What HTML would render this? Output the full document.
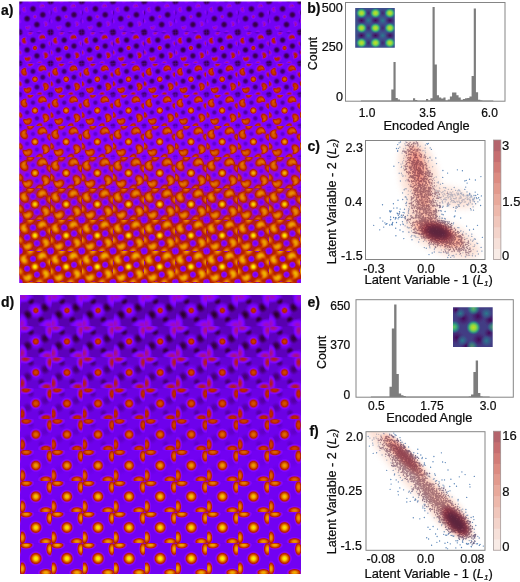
<!DOCTYPE html>
<html><head><meta charset="utf-8"><title>figure</title>
<style>html,body{margin:0;padding:0;background:#fff}svg{display:block}text{font-family:"Liberation Sans",Arial,sans-serif;fill:#0c0c0c;stroke:#0c0c0c;stroke-width:0.22px}</style></head><body>
<svg width="520" height="582" viewBox="0 0 520 582">
<rect width="520" height="582" fill="#fff"/>
<defs>
<filter id="cm" filterUnits="userSpaceOnUse" x="0" y="0" width="520" height="582" color-interpolation-filters="sRGB"><feGaussianBlur stdDeviation="0.7"/><feComponentTransfer><feFuncR type="table" tableValues="0.000 0.125 0.177 0.217 0.250 0.280 0.306 0.331 0.354 0.375 0.395 0.415 0.433 0.451 0.468 0.484 0.500 0.515 0.530 0.545 0.559 0.573 0.586 0.599 0.612 0.625 0.637 0.650 0.661 0.673 0.685 0.696 0.707 0.718 0.729 0.740 0.750 0.760 0.771 0.781 0.791 0.800 0.810 0.820 0.829 0.839 0.848 0.857 0.866 0.875 0.884 0.893 0.901 0.910 0.919 0.927 0.935 0.944 0.952 0.960 0.968 0.976 0.984 0.992 1.000"/><feFuncG type="table" tableValues="0.000 0.000 0.000 0.000 0.000 0.000 0.001 0.001 0.002 0.003 0.004 0.005 0.007 0.008 0.010 0.013 0.016 0.019 0.022 0.026 0.031 0.035 0.041 0.046 0.053 0.060 0.067 0.075 0.084 0.093 0.103 0.114 0.125 0.137 0.150 0.164 0.178 0.193 0.209 0.226 0.244 0.263 0.283 0.303 0.325 0.348 0.371 0.396 0.422 0.449 0.477 0.506 0.536 0.568 0.601 0.635 0.670 0.706 0.744 0.783 0.824 0.866 0.909 0.954 1.000"/><feFuncB type="table" tableValues="0.000 0.098 0.195 0.290 0.383 0.471 0.556 0.634 0.707 0.773 0.831 0.882 0.924 0.957 0.981 0.995 1.000 0.995 0.981 0.957 0.924 0.882 0.831 0.773 0.707 0.634 0.556 0.471 0.383 0.290 0.195 0.098 0.000 0.000 0.000 0.000 0.000 0.000 0.000 0.000 0.000 0.000 0.000 0.000 0.000 0.000 0.000 0.000 0.000 0.000 0.000 0.000 0.000 0.000 0.000 0.000 0.000 0.000 0.000 0.000 0.000 0.000 0.000 0.000 0.000"/></feComponentTransfer></filter>
<radialGradient id="gw"><stop offset="0" stop-color="#fff" stop-opacity="1"/><stop offset="0.25" stop-color="#fff" stop-opacity="0.93"/><stop offset="0.45" stop-color="#fff" stop-opacity="0.72"/><stop offset="0.65" stop-color="#fff" stop-opacity="0.42"/><stop offset="0.82" stop-color="#fff" stop-opacity="0.16"/><stop offset="1" stop-color="#fff" stop-opacity="0"/></radialGradient>
<radialGradient id="gk"><stop offset="0" stop-color="#000" stop-opacity="1"/><stop offset="0.25" stop-color="#000" stop-opacity="0.93"/><stop offset="0.45" stop-color="#000" stop-opacity="0.72"/><stop offset="0.65" stop-color="#000" stop-opacity="0.42"/><stop offset="0.82" stop-color="#000" stop-opacity="0.16"/><stop offset="1" stop-color="#000" stop-opacity="0"/></radialGradient>
</defs>
<defs>
<symbol id="d0" viewBox="0 0 31.59 31.5" width="31.59" height="31.5" overflow="hidden"><rect x="-1" y="-1" width="33.09" height="33" fill="rgb(31,31,31)"/><circle cx="15.35" cy="15.2" r="9" fill="url(#gw)" opacity="0.2"/><circle cx="0" cy="0" r="9" fill="url(#gw)" opacity="0.2"/><circle cx="31.09" cy="0" r="9" fill="url(#gw)" opacity="0.2"/><circle cx="0" cy="31" r="9" fill="url(#gw)" opacity="0.2"/><circle cx="31.09" cy="31" r="9" fill="url(#gw)" opacity="0.2"/><circle cx="24.34" cy="12.2" r="6" fill="url(#gk)" opacity="0.78"/><circle cx="7.35" cy="19.4" r="6" fill="url(#gk)" opacity="0.78"/><circle cx="10.35" cy="5.7" r="4.5" fill="url(#gk)" opacity="0.78"/><circle cx="20.84" cy="24.7" r="4.5" fill="url(#gk)" opacity="0.78"/><ellipse cx="5.7" cy="1.7" rx="8.4" ry="6.24" fill="url(#gw)" opacity="0.17"/><ellipse cx="29.39" cy="5.7" rx="6.24" ry="8.4" fill="url(#gw)" opacity="0.17"/><ellipse cx="25.39" cy="29.3" rx="8.4" ry="6.24" fill="url(#gw)" opacity="0.17"/><ellipse cx="1.7" cy="25.3" rx="6.24" ry="8.4" fill="url(#gw)" opacity="0.17"/><circle cx="15.35" cy="15.2" r="4.3" fill="url(#gw)" opacity="0.4"/></symbol>
<symbol id="d1" viewBox="0 0 31.59 31.5" width="31.59" height="31.5" overflow="hidden"><rect x="-1" y="-1" width="33.09" height="33" fill="rgb(34,34,34)"/><circle cx="15.35" cy="15.2" r="9" fill="url(#gw)" opacity="0.15"/><circle cx="0" cy="0" r="9" fill="url(#gw)" opacity="0.15"/><circle cx="31.09" cy="0" r="9" fill="url(#gw)" opacity="0.15"/><circle cx="0" cy="31" r="9" fill="url(#gw)" opacity="0.15"/><circle cx="31.09" cy="31" r="9" fill="url(#gw)" opacity="0.15"/><circle cx="24.34" cy="12.2" r="6" fill="url(#gk)" opacity="0.72"/><circle cx="7.35" cy="19.4" r="6" fill="url(#gk)" opacity="0.72"/><circle cx="10.35" cy="5.7" r="4.5" fill="url(#gk)" opacity="0.72"/><circle cx="20.84" cy="24.7" r="4.5" fill="url(#gk)" opacity="0.72"/><ellipse cx="5.7" cy="1.7" rx="8.4" ry="5.66" fill="url(#gw)" opacity="0.27"/><ellipse cx="29.39" cy="5.7" rx="5.66" ry="8.4" fill="url(#gw)" opacity="0.27"/><ellipse cx="25.39" cy="29.3" rx="8.4" ry="5.66" fill="url(#gw)" opacity="0.27"/><ellipse cx="1.7" cy="25.3" rx="5.66" ry="8.4" fill="url(#gw)" opacity="0.27"/><circle cx="15.35" cy="15.2" r="4.9" fill="url(#gw)" opacity="0.49"/></symbol>
<symbol id="d2" viewBox="0 0 31.59 31.5" width="31.59" height="31.5" overflow="hidden"><rect x="-1" y="-1" width="33.09" height="33" fill="rgb(40,40,40)"/><circle cx="15.35" cy="15.2" r="9" fill="url(#gw)" opacity="0.1"/><circle cx="0" cy="0" r="9" fill="url(#gw)" opacity="0.1"/><circle cx="31.09" cy="0" r="9" fill="url(#gw)" opacity="0.1"/><circle cx="0" cy="31" r="9" fill="url(#gw)" opacity="0.1"/><circle cx="31.09" cy="31" r="9" fill="url(#gw)" opacity="0.1"/><circle cx="24.34" cy="12.2" r="6" fill="url(#gk)" opacity="0.55"/><circle cx="7.35" cy="19.4" r="6" fill="url(#gk)" opacity="0.55"/><circle cx="10.35" cy="5.7" r="4.5" fill="url(#gk)" opacity="0.55"/><circle cx="20.84" cy="24.7" r="4.5" fill="url(#gk)" opacity="0.55"/><ellipse cx="5.7" cy="1.7" rx="8.4" ry="5.09" fill="url(#gw)" opacity="0.36"/><ellipse cx="29.39" cy="5.7" rx="5.09" ry="8.4" fill="url(#gw)" opacity="0.36"/><ellipse cx="25.39" cy="29.3" rx="8.4" ry="5.09" fill="url(#gw)" opacity="0.36"/><ellipse cx="1.7" cy="25.3" rx="5.09" ry="8.4" fill="url(#gw)" opacity="0.36"/><circle cx="15.35" cy="15.2" r="5.4" fill="url(#gw)" opacity="0.55"/></symbol>
<symbol id="d3" viewBox="0 0 31.59 31.5" width="31.59" height="31.5" overflow="hidden"><rect x="-1" y="-1" width="33.09" height="33" fill="rgb(45,45,45)"/><circle cx="15.35" cy="15.2" r="9" fill="url(#gw)" opacity="0.05"/><circle cx="0" cy="0" r="9" fill="url(#gw)" opacity="0.05"/><circle cx="31.09" cy="0" r="9" fill="url(#gw)" opacity="0.05"/><circle cx="0" cy="31" r="9" fill="url(#gw)" opacity="0.05"/><circle cx="31.09" cy="31" r="9" fill="url(#gw)" opacity="0.05"/><circle cx="24.34" cy="12.2" r="6" fill="url(#gk)" opacity="0.38"/><circle cx="7.35" cy="19.4" r="6" fill="url(#gk)" opacity="0.38"/><circle cx="10.35" cy="5.7" r="4.5" fill="url(#gk)" opacity="0.38"/><circle cx="20.84" cy="24.7" r="4.5" fill="url(#gk)" opacity="0.38"/><ellipse cx="5.7" cy="1.7" rx="8.4" ry="4.8" fill="url(#gw)" opacity="0.45"/><ellipse cx="29.39" cy="5.7" rx="4.8" ry="8.4" fill="url(#gw)" opacity="0.45"/><ellipse cx="25.39" cy="29.3" rx="8.4" ry="4.8" fill="url(#gw)" opacity="0.45"/><ellipse cx="1.7" cy="25.3" rx="4.8" ry="8.4" fill="url(#gw)" opacity="0.45"/><circle cx="15.35" cy="15.2" r="6.21" fill="url(#gw)" opacity="0.61"/></symbol>
<symbol id="d4" viewBox="0 0 31.59 31.5" width="31.59" height="31.5" overflow="hidden"><rect x="-1" y="-1" width="33.09" height="33" fill="rgb(48,48,48)"/><circle cx="24.34" cy="12.2" r="6" fill="url(#gk)" opacity="0.24"/><circle cx="7.35" cy="19.4" r="6" fill="url(#gk)" opacity="0.24"/><circle cx="10.35" cy="5.7" r="4.5" fill="url(#gk)" opacity="0.24"/><circle cx="20.84" cy="24.7" r="4.5" fill="url(#gk)" opacity="0.24"/><ellipse cx="5.7" cy="1.7" rx="8.4" ry="4.8" fill="url(#gw)" opacity="0.56"/><ellipse cx="29.39" cy="5.7" rx="4.8" ry="8.4" fill="url(#gw)" opacity="0.56"/><ellipse cx="25.39" cy="29.3" rx="8.4" ry="4.8" fill="url(#gw)" opacity="0.56"/><ellipse cx="1.7" cy="25.3" rx="4.8" ry="8.4" fill="url(#gw)" opacity="0.56"/><circle cx="15.35" cy="15.2" r="6.48" fill="url(#gw)" opacity="0.7"/></symbol>
<symbol id="d5" viewBox="0 0 31.59 31.5" width="31.59" height="31.5" overflow="hidden"><rect x="-1" y="-1" width="33.09" height="33" fill="rgb(51,51,51)"/><circle cx="24.34" cy="12.2" r="6" fill="url(#gk)" opacity="0.12"/><circle cx="7.35" cy="19.4" r="6" fill="url(#gk)" opacity="0.12"/><circle cx="10.35" cy="5.7" r="4.5" fill="url(#gk)" opacity="0.12"/><circle cx="20.84" cy="24.7" r="4.5" fill="url(#gk)" opacity="0.12"/><ellipse cx="5.7" cy="1.7" rx="8.4" ry="4.8" fill="url(#gw)" opacity="0.68"/><ellipse cx="29.39" cy="5.7" rx="4.8" ry="8.4" fill="url(#gw)" opacity="0.68"/><ellipse cx="25.39" cy="29.3" rx="8.4" ry="4.8" fill="url(#gw)" opacity="0.68"/><ellipse cx="1.7" cy="25.3" rx="4.8" ry="8.4" fill="url(#gw)" opacity="0.68"/><circle cx="15.35" cy="15.2" r="6.75" fill="url(#gw)" opacity="0.82"/></symbol>
<symbol id="d6" viewBox="0 0 31.59 31.5" width="31.59" height="31.5" overflow="hidden"><rect x="-1" y="-1" width="33.09" height="33" fill="rgb(51,51,51)"/><circle cx="24.34" cy="12.2" r="6" fill="url(#gk)" opacity="0.05"/><circle cx="7.35" cy="19.4" r="6" fill="url(#gk)" opacity="0.05"/><circle cx="10.35" cy="5.7" r="4.5" fill="url(#gk)" opacity="0.05"/><circle cx="20.84" cy="24.7" r="4.5" fill="url(#gk)" opacity="0.05"/><ellipse cx="5.7" cy="1.7" rx="8.4" ry="4.8" fill="url(#gw)" opacity="0.76"/><ellipse cx="29.39" cy="5.7" rx="4.8" ry="8.4" fill="url(#gw)" opacity="0.76"/><ellipse cx="25.39" cy="29.3" rx="8.4" ry="4.8" fill="url(#gw)" opacity="0.76"/><ellipse cx="1.7" cy="25.3" rx="4.8" ry="8.4" fill="url(#gw)" opacity="0.76"/><circle cx="15.35" cy="15.2" r="7.02" fill="url(#gw)" opacity="0.91"/></symbol>
<symbol id="d7" viewBox="0 0 31.59 31.5" width="31.59" height="31.5" overflow="hidden"><rect x="-1" y="-1" width="33.09" height="33" fill="rgb(51,51,51)"/><ellipse cx="5.7" cy="1.7" rx="8.4" ry="4.8" fill="url(#gw)" opacity="0.82"/><ellipse cx="29.39" cy="5.7" rx="4.8" ry="8.4" fill="url(#gw)" opacity="0.82"/><ellipse cx="25.39" cy="29.3" rx="8.4" ry="4.8" fill="url(#gw)" opacity="0.82"/><ellipse cx="1.7" cy="25.3" rx="4.8" ry="8.4" fill="url(#gw)" opacity="0.82"/><circle cx="15.35" cy="15.2" r="7.29" fill="url(#gw)" opacity="0.96"/></symbol>
<symbol id="d8" viewBox="0 0 31.59 31.5" width="31.59" height="31.5" overflow="hidden"><rect x="-1" y="-1" width="33.09" height="33" fill="rgb(51,51,51)"/><ellipse cx="5.7" cy="1.7" rx="8.4" ry="4.8" fill="url(#gw)" opacity="0.86"/><ellipse cx="29.39" cy="5.7" rx="4.8" ry="8.4" fill="url(#gw)" opacity="0.86"/><ellipse cx="25.39" cy="29.3" rx="8.4" ry="4.8" fill="url(#gw)" opacity="0.86"/><ellipse cx="1.7" cy="25.3" rx="4.8" ry="8.4" fill="url(#gw)" opacity="0.86"/><circle cx="15.35" cy="15.2" r="7.56" fill="url(#gw)" opacity="0.99"/></symbol>
<clipPath id="cD"><rect x="20" y="295" width="281" height="279"/></clipPath>
</defs>
<g clip-path="url(#cD)"><g filter="url(#cm)">
<rect x="18" y="293" width="285" height="283" fill="#2a2a2a"/>
<use href="#d0" x="-10.59" y="264.3"/><use href="#d0" x="20.5" y="264.3"/><use href="#d0" x="51.59" y="264.3"/><use href="#d0" x="82.68" y="264.3"/><use href="#d0" x="113.77" y="264.3"/><use href="#d0" x="144.86" y="264.3"/><use href="#d0" x="175.95" y="264.3"/><use href="#d0" x="207.04" y="264.3"/><use href="#d0" x="238.13" y="264.3"/><use href="#d0" x="269.22" y="264.3"/>
<use href="#d0" x="-10.59" y="295.3"/><use href="#d0" x="20.5" y="295.3"/><use href="#d0" x="51.59" y="295.3"/><use href="#d0" x="82.68" y="295.3"/><use href="#d0" x="113.77" y="295.3"/><use href="#d0" x="144.86" y="295.3"/><use href="#d0" x="175.95" y="295.3"/><use href="#d0" x="207.04" y="295.3"/><use href="#d0" x="238.13" y="295.3"/><use href="#d0" x="269.22" y="295.3"/>
<use href="#d1" x="-10.59" y="326.3"/><use href="#d1" x="20.5" y="326.3"/><use href="#d1" x="51.59" y="326.3"/><use href="#d1" x="82.68" y="326.3"/><use href="#d1" x="113.77" y="326.3"/><use href="#d1" x="144.86" y="326.3"/><use href="#d1" x="175.95" y="326.3"/><use href="#d1" x="207.04" y="326.3"/><use href="#d1" x="238.13" y="326.3"/><use href="#d1" x="269.22" y="326.3"/>
<use href="#d2" x="-10.59" y="357.3"/><use href="#d2" x="20.5" y="357.3"/><use href="#d2" x="51.59" y="357.3"/><use href="#d2" x="82.68" y="357.3"/><use href="#d2" x="113.77" y="357.3"/><use href="#d2" x="144.86" y="357.3"/><use href="#d2" x="175.95" y="357.3"/><use href="#d2" x="207.04" y="357.3"/><use href="#d2" x="238.13" y="357.3"/><use href="#d2" x="269.22" y="357.3"/>
<use href="#d3" x="-10.59" y="388.3"/><use href="#d3" x="20.5" y="388.3"/><use href="#d3" x="51.59" y="388.3"/><use href="#d3" x="82.68" y="388.3"/><use href="#d3" x="113.77" y="388.3"/><use href="#d3" x="144.86" y="388.3"/><use href="#d3" x="175.95" y="388.3"/><use href="#d3" x="207.04" y="388.3"/><use href="#d3" x="238.13" y="388.3"/><use href="#d3" x="269.22" y="388.3"/>
<use href="#d4" x="-10.59" y="419.3"/><use href="#d4" x="20.5" y="419.3"/><use href="#d4" x="51.59" y="419.3"/><use href="#d4" x="82.68" y="419.3"/><use href="#d4" x="113.77" y="419.3"/><use href="#d4" x="144.86" y="419.3"/><use href="#d4" x="175.95" y="419.3"/><use href="#d4" x="207.04" y="419.3"/><use href="#d4" x="238.13" y="419.3"/><use href="#d4" x="269.22" y="419.3"/>
<use href="#d5" x="-10.59" y="450.3"/><use href="#d5" x="20.5" y="450.3"/><use href="#d5" x="51.59" y="450.3"/><use href="#d5" x="82.68" y="450.3"/><use href="#d5" x="113.77" y="450.3"/><use href="#d5" x="144.86" y="450.3"/><use href="#d5" x="175.95" y="450.3"/><use href="#d5" x="207.04" y="450.3"/><use href="#d5" x="238.13" y="450.3"/><use href="#d5" x="269.22" y="450.3"/>
<use href="#d6" x="-10.59" y="481.3"/><use href="#d6" x="20.5" y="481.3"/><use href="#d6" x="51.59" y="481.3"/><use href="#d6" x="82.68" y="481.3"/><use href="#d6" x="113.77" y="481.3"/><use href="#d6" x="144.86" y="481.3"/><use href="#d6" x="175.95" y="481.3"/><use href="#d6" x="207.04" y="481.3"/><use href="#d6" x="238.13" y="481.3"/><use href="#d6" x="269.22" y="481.3"/>
<use href="#d7" x="-10.59" y="512.3"/><use href="#d7" x="20.5" y="512.3"/><use href="#d7" x="51.59" y="512.3"/><use href="#d7" x="82.68" y="512.3"/><use href="#d7" x="113.77" y="512.3"/><use href="#d7" x="144.86" y="512.3"/><use href="#d7" x="175.95" y="512.3"/><use href="#d7" x="207.04" y="512.3"/><use href="#d7" x="238.13" y="512.3"/><use href="#d7" x="269.22" y="512.3"/>
<use href="#d8" x="-10.59" y="543.3"/><use href="#d8" x="20.5" y="543.3"/><use href="#d8" x="51.59" y="543.3"/><use href="#d8" x="82.68" y="543.3"/><use href="#d8" x="113.77" y="543.3"/><use href="#d8" x="144.86" y="543.3"/><use href="#d8" x="175.95" y="543.3"/><use href="#d8" x="207.04" y="543.3"/><use href="#d8" x="238.13" y="543.3"/><use href="#d8" x="269.22" y="543.3"/>
</g></g>
<defs>
<radialGradient id="gh0"><stop offset="0" stop-color="rgb(0,0,0)" stop-opacity="0.8"/><stop offset="0.3" stop-color="rgb(0,0,0)" stop-opacity="0.76"/><stop offset="0.5" stop-color="rgb(0,0,0)" stop-opacity="0.62"/><stop offset="0.68" stop-color="rgb(0,0,0)" stop-opacity="0.36"/><stop offset="0.84" stop-color="rgb(0,0,0)" stop-opacity="0.13"/><stop offset="1" stop-color="rgb(0,0,0)" stop-opacity="0"/></radialGradient>
<symbol id="a0" viewBox="0 0 31.8 31.8" width="31.8" height="31.8" overflow="hidden"><rect x="-1" y="-1" width="33.3" height="33.3" fill="rgb(52,52,52)"/><ellipse cx="-4.73" cy="3.38" rx="3.97" ry="2.73" transform="rotate(-98.95 -4.73 3.38)" fill="url(#gw)" opacity="0.19"/><ellipse cx="11.59" cy="-0.68" rx="3.97" ry="2.73" transform="rotate(-53.95 11.59 -0.68)" fill="url(#gw)" opacity="0.19"/><ellipse cx="4.67" cy="9.04" rx="3.72" ry="2.79" transform="rotate(-130.95 4.67 9.04)" fill="url(#gw)" opacity="0.21"/><ellipse cx="5.03" cy="6.84" rx="2.36" ry="1.55" transform="rotate(-35.95 5.03 6.84)" fill="url(#gw)" opacity="0.16"/><ellipse cx="-0.68" cy="19.71" rx="3.97" ry="2.73" transform="rotate(216.05 -0.68 19.71)" fill="url(#gw)" opacity="0.19"/><ellipse cx="27.92" cy="-4.73" rx="3.97" ry="2.73" transform="rotate(-8.95 27.92 -4.73)" fill="url(#gw)" opacity="0.19"/><ellipse cx="22.26" cy="4.67" rx="3.72" ry="2.79" transform="rotate(-40.95 22.26 4.67)" fill="url(#gw)" opacity="0.21"/><ellipse cx="24.46" cy="5.03" rx="2.36" ry="1.55" transform="rotate(54.05 24.46 5.03)" fill="url(#gw)" opacity="0.16"/><circle cx="15.65" cy="15.65" r="2.73" fill="url(#gw)" opacity="0.27"/><ellipse cx="9.04" cy="26.63" rx="3.72" ry="2.79" transform="rotate(139.05 9.04 26.63)" fill="url(#gw)" opacity="0.21"/><ellipse cx="6.84" cy="26.27" rx="2.36" ry="1.55" transform="rotate(234.05 6.84 26.27)" fill="url(#gw)" opacity="0.16"/><ellipse cx="3.38" cy="36.03" rx="3.97" ry="2.73" transform="rotate(171.05 3.38 36.03)" fill="url(#gw)" opacity="0.19"/><ellipse cx="31.98" cy="11.59" rx="3.97" ry="2.73" transform="rotate(36.05 31.98 11.59)" fill="url(#gw)" opacity="0.19"/><ellipse cx="26.63" cy="22.26" rx="3.72" ry="2.79" transform="rotate(49.05 26.63 22.26)" fill="url(#gw)" opacity="0.21"/><ellipse cx="26.27" cy="24.46" rx="2.36" ry="1.55" transform="rotate(144.05 26.27 24.46)" fill="url(#gw)" opacity="0.16"/><ellipse cx="19.71" cy="31.98" rx="3.97" ry="2.73" transform="rotate(126.05 19.71 31.98)" fill="url(#gw)" opacity="0.19"/><ellipse cx="36.03" cy="27.92" rx="3.97" ry="2.73" transform="rotate(81.05 36.03 27.92)" fill="url(#gw)" opacity="0.19"/><g fill="url(#gh0)"><circle cx="0.47" cy="0.23" r="4.3"/><circle cx="-2" cy="11.7" r="4.3"/><circle cx="19.6" cy="-2" r="4.3"/><circle cx="13.7" cy="7.8" r="4.3"/><circle cx="7.8" cy="17.6" r="4.3"/><circle cx="0.23" cy="30.83" r="4.3"/><circle cx="31.07" cy="0.47" r="4.3"/><circle cx="23.5" cy="13.7" r="4.3"/><circle cx="17.6" cy="23.5" r="4.3"/><circle cx="11.7" cy="33.3" r="4.3"/><circle cx="33.3" cy="19.6" r="4.3"/><circle cx="30.83" cy="31.07" r="4.3"/></g></symbol>
<radialGradient id="gh1"><stop offset="0" stop-color="rgb(0,0,0)" stop-opacity="0.8"/><stop offset="0.3" stop-color="rgb(0,0,0)" stop-opacity="0.76"/><stop offset="0.5" stop-color="rgb(0,0,0)" stop-opacity="0.62"/><stop offset="0.68" stop-color="rgb(0,0,0)" stop-opacity="0.36"/><stop offset="0.84" stop-color="rgb(0,0,0)" stop-opacity="0.13"/><stop offset="1" stop-color="rgb(0,0,0)" stop-opacity="0"/></radialGradient>
<symbol id="a1" viewBox="0 0 31.8 31.8" width="31.8" height="31.8" overflow="hidden"><rect x="-1" y="-1" width="33.3" height="33.3" fill="rgb(52,52,52)"/><ellipse cx="-4.73" cy="3.38" rx="5.12" ry="3.52" transform="rotate(-98.95 -4.73 3.38)" fill="url(#gw)" opacity="0.35"/><ellipse cx="11.59" cy="-0.68" rx="5.12" ry="3.52" transform="rotate(-53.95 11.59 -0.68)" fill="url(#gw)" opacity="0.35"/><ellipse cx="4.67" cy="9.04" rx="4.8" ry="3.6" transform="rotate(-130.95 4.67 9.04)" fill="url(#gw)" opacity="0.38"/><ellipse cx="5.13" cy="6.2" rx="3.04" ry="2" transform="rotate(-35.95 5.13 6.2)" fill="url(#gw)" opacity="0.29"/><ellipse cx="-0.68" cy="19.71" rx="5.12" ry="3.52" transform="rotate(216.05 -0.68 19.71)" fill="url(#gw)" opacity="0.35"/><ellipse cx="27.92" cy="-4.73" rx="5.12" ry="3.52" transform="rotate(-8.95 27.92 -4.73)" fill="url(#gw)" opacity="0.35"/><ellipse cx="22.26" cy="4.67" rx="4.8" ry="3.6" transform="rotate(-40.95 22.26 4.67)" fill="url(#gw)" opacity="0.38"/><ellipse cx="25.1" cy="5.13" rx="3.04" ry="2" transform="rotate(54.05 25.1 5.13)" fill="url(#gw)" opacity="0.29"/><circle cx="15.65" cy="15.65" r="3.52" fill="url(#gw)" opacity="0.5"/><ellipse cx="9.04" cy="26.63" rx="4.8" ry="3.6" transform="rotate(139.05 9.04 26.63)" fill="url(#gw)" opacity="0.38"/><ellipse cx="6.2" cy="26.17" rx="3.04" ry="2" transform="rotate(234.05 6.2 26.17)" fill="url(#gw)" opacity="0.29"/><ellipse cx="3.38" cy="36.03" rx="5.12" ry="3.52" transform="rotate(171.05 3.38 36.03)" fill="url(#gw)" opacity="0.35"/><ellipse cx="31.98" cy="11.59" rx="5.12" ry="3.52" transform="rotate(36.05 31.98 11.59)" fill="url(#gw)" opacity="0.35"/><ellipse cx="26.63" cy="22.26" rx="4.8" ry="3.6" transform="rotate(49.05 26.63 22.26)" fill="url(#gw)" opacity="0.38"/><ellipse cx="26.17" cy="25.1" rx="3.04" ry="2" transform="rotate(144.05 26.17 25.1)" fill="url(#gw)" opacity="0.29"/><ellipse cx="19.71" cy="31.98" rx="5.12" ry="3.52" transform="rotate(126.05 19.71 31.98)" fill="url(#gw)" opacity="0.35"/><ellipse cx="36.03" cy="27.92" rx="5.12" ry="3.52" transform="rotate(81.05 36.03 27.92)" fill="url(#gw)" opacity="0.35"/><g fill="url(#gh1)"><circle cx="0.47" cy="0.23" r="4.1"/><circle cx="-2" cy="11.7" r="4.1"/><circle cx="19.6" cy="-2" r="4.1"/><circle cx="13.7" cy="7.8" r="4.1"/><circle cx="7.8" cy="17.6" r="4.1"/><circle cx="0.23" cy="30.83" r="4.1"/><circle cx="31.07" cy="0.47" r="4.1"/><circle cx="23.5" cy="13.7" r="4.1"/><circle cx="17.6" cy="23.5" r="4.1"/><circle cx="11.7" cy="33.3" r="4.1"/><circle cx="33.3" cy="19.6" r="4.1"/><circle cx="30.83" cy="31.07" r="4.1"/></g></symbol>
<radialGradient id="gh2"><stop offset="0" stop-color="rgb(5,5,5)" stop-opacity="0.78"/><stop offset="0.3" stop-color="rgb(5,5,5)" stop-opacity="0.74"/><stop offset="0.5" stop-color="rgb(5,5,5)" stop-opacity="0.61"/><stop offset="0.68" stop-color="rgb(5,5,5)" stop-opacity="0.35"/><stop offset="0.84" stop-color="rgb(5,5,5)" stop-opacity="0.12"/><stop offset="1" stop-color="rgb(5,5,5)" stop-opacity="0"/></radialGradient>
<symbol id="a2" viewBox="0 0 31.8 31.8" width="31.8" height="31.8" overflow="hidden"><rect x="-1" y="-1" width="33.3" height="33.3" fill="rgb(54,54,54)"/><ellipse cx="-4.73" cy="3.38" rx="6.08" ry="4.18" transform="rotate(-98.95 -4.73 3.38)" fill="url(#gw)" opacity="0.47"/><ellipse cx="11.59" cy="-0.68" rx="6.08" ry="4.18" transform="rotate(-53.95 11.59 -0.68)" fill="url(#gw)" opacity="0.47"/><ellipse cx="4.67" cy="9.04" rx="5.7" ry="4.27" transform="rotate(-130.95 4.67 9.04)" fill="url(#gw)" opacity="0.51"/><ellipse cx="5.21" cy="5.66" rx="3.61" ry="2.38" transform="rotate(-35.95 5.21 5.66)" fill="url(#gw)" opacity="0.38"/><ellipse cx="-0.68" cy="19.71" rx="6.08" ry="4.18" transform="rotate(216.05 -0.68 19.71)" fill="url(#gw)" opacity="0.47"/><ellipse cx="27.92" cy="-4.73" rx="6.08" ry="4.18" transform="rotate(-8.95 27.92 -4.73)" fill="url(#gw)" opacity="0.47"/><ellipse cx="22.26" cy="4.67" rx="5.7" ry="4.27" transform="rotate(-40.95 22.26 4.67)" fill="url(#gw)" opacity="0.51"/><ellipse cx="25.64" cy="5.21" rx="3.61" ry="2.38" transform="rotate(54.05 25.64 5.21)" fill="url(#gw)" opacity="0.38"/><circle cx="15.65" cy="15.65" r="4.18" fill="url(#gw)" opacity="0.66"/><ellipse cx="9.04" cy="26.63" rx="5.7" ry="4.27" transform="rotate(139.05 9.04 26.63)" fill="url(#gw)" opacity="0.51"/><ellipse cx="5.66" cy="26.09" rx="3.61" ry="2.38" transform="rotate(234.05 5.66 26.09)" fill="url(#gw)" opacity="0.38"/><ellipse cx="3.38" cy="36.03" rx="6.08" ry="4.18" transform="rotate(171.05 3.38 36.03)" fill="url(#gw)" opacity="0.47"/><ellipse cx="31.98" cy="11.59" rx="6.08" ry="4.18" transform="rotate(36.05 31.98 11.59)" fill="url(#gw)" opacity="0.47"/><ellipse cx="26.63" cy="22.26" rx="5.7" ry="4.27" transform="rotate(49.05 26.63 22.26)" fill="url(#gw)" opacity="0.51"/><ellipse cx="26.09" cy="25.64" rx="3.61" ry="2.38" transform="rotate(144.05 26.09 25.64)" fill="url(#gw)" opacity="0.38"/><ellipse cx="19.71" cy="31.98" rx="6.08" ry="4.18" transform="rotate(126.05 19.71 31.98)" fill="url(#gw)" opacity="0.47"/><ellipse cx="36.03" cy="27.92" rx="6.08" ry="4.18" transform="rotate(81.05 36.03 27.92)" fill="url(#gw)" opacity="0.47"/><g fill="url(#gh2)"><circle cx="0.47" cy="0.23" r="3.8"/><circle cx="-2" cy="11.7" r="3.8"/><circle cx="19.6" cy="-2" r="3.8"/><circle cx="13.7" cy="7.8" r="3.8"/><circle cx="7.8" cy="17.6" r="3.8"/><circle cx="0.23" cy="30.83" r="3.8"/><circle cx="31.07" cy="0.47" r="3.8"/><circle cx="23.5" cy="13.7" r="3.8"/><circle cx="17.6" cy="23.5" r="3.8"/><circle cx="11.7" cy="33.3" r="3.8"/><circle cx="33.3" cy="19.6" r="3.8"/><circle cx="30.83" cy="31.07" r="3.8"/></g></symbol>
<radialGradient id="gh3"><stop offset="0" stop-color="rgb(13,13,13)" stop-opacity="0.74"/><stop offset="0.3" stop-color="rgb(13,13,13)" stop-opacity="0.7"/><stop offset="0.5" stop-color="rgb(13,13,13)" stop-opacity="0.58"/><stop offset="0.68" stop-color="rgb(13,13,13)" stop-opacity="0.33"/><stop offset="0.84" stop-color="rgb(13,13,13)" stop-opacity="0.12"/><stop offset="1" stop-color="rgb(13,13,13)" stop-opacity="0"/></radialGradient>
<symbol id="a3" viewBox="0 0 31.8 31.8" width="31.8" height="31.8" overflow="hidden"><rect x="-1" y="-1" width="33.3" height="33.3" fill="rgb(60,60,60)"/><ellipse cx="-4.73" cy="3.38" rx="6.4" ry="4.4" transform="rotate(-98.95 -4.73 3.38)" fill="url(#gw)" opacity="0.54"/><ellipse cx="11.59" cy="-0.68" rx="6.4" ry="4.4" transform="rotate(-53.95 11.59 -0.68)" fill="url(#gw)" opacity="0.54"/><ellipse cx="4.67" cy="9.04" rx="6" ry="4.5" transform="rotate(-130.95 4.67 9.04)" fill="url(#gw)" opacity="0.58"/><ellipse cx="5.24" cy="5.49" rx="3.8" ry="2.5" transform="rotate(-35.95 5.24 5.49)" fill="url(#gw)" opacity="0.44"/><ellipse cx="-0.68" cy="19.71" rx="6.4" ry="4.4" transform="rotate(216.05 -0.68 19.71)" fill="url(#gw)" opacity="0.54"/><ellipse cx="27.92" cy="-4.73" rx="6.4" ry="4.4" transform="rotate(-8.95 27.92 -4.73)" fill="url(#gw)" opacity="0.54"/><ellipse cx="22.26" cy="4.67" rx="6" ry="4.5" transform="rotate(-40.95 22.26 4.67)" fill="url(#gw)" opacity="0.58"/><ellipse cx="25.81" cy="5.24" rx="3.8" ry="2.5" transform="rotate(54.05 25.81 5.24)" fill="url(#gw)" opacity="0.44"/><circle cx="15.65" cy="15.65" r="4.4" fill="url(#gw)" opacity="0.76"/><ellipse cx="9.04" cy="26.63" rx="6" ry="4.5" transform="rotate(139.05 9.04 26.63)" fill="url(#gw)" opacity="0.58"/><ellipse cx="5.49" cy="26.06" rx="3.8" ry="2.5" transform="rotate(234.05 5.49 26.06)" fill="url(#gw)" opacity="0.44"/><ellipse cx="3.38" cy="36.03" rx="6.4" ry="4.4" transform="rotate(171.05 3.38 36.03)" fill="url(#gw)" opacity="0.54"/><ellipse cx="31.98" cy="11.59" rx="6.4" ry="4.4" transform="rotate(36.05 31.98 11.59)" fill="url(#gw)" opacity="0.54"/><ellipse cx="26.63" cy="22.26" rx="6" ry="4.5" transform="rotate(49.05 26.63 22.26)" fill="url(#gw)" opacity="0.58"/><ellipse cx="26.06" cy="25.81" rx="3.8" ry="2.5" transform="rotate(144.05 26.06 25.81)" fill="url(#gw)" opacity="0.44"/><ellipse cx="19.71" cy="31.98" rx="6.4" ry="4.4" transform="rotate(126.05 19.71 31.98)" fill="url(#gw)" opacity="0.54"/><ellipse cx="36.03" cy="27.92" rx="6.4" ry="4.4" transform="rotate(81.05 36.03 27.92)" fill="url(#gw)" opacity="0.54"/><g fill="url(#gh3)"><circle cx="0.47" cy="0.23" r="3.4"/><circle cx="-2" cy="11.7" r="3.4"/><circle cx="19.6" cy="-2" r="3.4"/><circle cx="13.7" cy="7.8" r="3.4"/><circle cx="7.8" cy="17.6" r="3.4"/><circle cx="0.23" cy="30.83" r="3.4"/><circle cx="31.07" cy="0.47" r="3.4"/><circle cx="23.5" cy="13.7" r="3.4"/><circle cx="17.6" cy="23.5" r="3.4"/><circle cx="11.7" cy="33.3" r="3.4"/><circle cx="33.3" cy="19.6" r="3.4"/><circle cx="30.83" cy="31.07" r="3.4"/></g></symbol>
<radialGradient id="gh4"><stop offset="0" stop-color="rgb(23,23,23)" stop-opacity="0.72"/><stop offset="0.3" stop-color="rgb(23,23,23)" stop-opacity="0.68"/><stop offset="0.5" stop-color="rgb(23,23,23)" stop-opacity="0.56"/><stop offset="0.68" stop-color="rgb(23,23,23)" stop-opacity="0.32"/><stop offset="0.84" stop-color="rgb(23,23,23)" stop-opacity="0.12"/><stop offset="1" stop-color="rgb(23,23,23)" stop-opacity="0"/></radialGradient>
<symbol id="a4" viewBox="0 0 31.8 31.8" width="31.8" height="31.8" overflow="hidden"><rect x="-1" y="-1" width="33.3" height="33.3" fill="rgb(71,71,71)"/><ellipse cx="-4.73" cy="3.38" rx="6.78" ry="4.66" transform="rotate(-98.95 -4.73 3.38)" fill="url(#gw)" opacity="0.58"/><ellipse cx="11.59" cy="-0.68" rx="6.78" ry="4.66" transform="rotate(-53.95 11.59 -0.68)" fill="url(#gw)" opacity="0.58"/><ellipse cx="4.67" cy="9.04" rx="6.36" ry="4.77" transform="rotate(-130.95 4.67 9.04)" fill="url(#gw)" opacity="0.62"/><ellipse cx="5.27" cy="5.27" rx="4.03" ry="2.65" transform="rotate(-35.95 5.27 5.27)" fill="url(#gw)" opacity="0.47"/><ellipse cx="-0.68" cy="19.71" rx="6.78" ry="4.66" transform="rotate(216.05 -0.68 19.71)" fill="url(#gw)" opacity="0.58"/><ellipse cx="27.92" cy="-4.73" rx="6.78" ry="4.66" transform="rotate(-8.95 27.92 -4.73)" fill="url(#gw)" opacity="0.58"/><ellipse cx="22.26" cy="4.67" rx="6.36" ry="4.77" transform="rotate(-40.95 22.26 4.67)" fill="url(#gw)" opacity="0.62"/><ellipse cx="26.03" cy="5.27" rx="4.03" ry="2.65" transform="rotate(54.05 26.03 5.27)" fill="url(#gw)" opacity="0.47"/><circle cx="15.65" cy="15.65" r="4.66" fill="url(#gw)" opacity="0.81"/><ellipse cx="9.04" cy="26.63" rx="6.36" ry="4.77" transform="rotate(139.05 9.04 26.63)" fill="url(#gw)" opacity="0.62"/><ellipse cx="5.27" cy="26.03" rx="4.03" ry="2.65" transform="rotate(234.05 5.27 26.03)" fill="url(#gw)" opacity="0.47"/><ellipse cx="3.38" cy="36.03" rx="6.78" ry="4.66" transform="rotate(171.05 3.38 36.03)" fill="url(#gw)" opacity="0.58"/><ellipse cx="31.98" cy="11.59" rx="6.78" ry="4.66" transform="rotate(36.05 31.98 11.59)" fill="url(#gw)" opacity="0.58"/><ellipse cx="26.63" cy="22.26" rx="6.36" ry="4.77" transform="rotate(49.05 26.63 22.26)" fill="url(#gw)" opacity="0.62"/><ellipse cx="26.03" cy="26.03" rx="4.03" ry="2.65" transform="rotate(144.05 26.03 26.03)" fill="url(#gw)" opacity="0.47"/><ellipse cx="19.71" cy="31.98" rx="6.78" ry="4.66" transform="rotate(126.05 19.71 31.98)" fill="url(#gw)" opacity="0.58"/><ellipse cx="36.03" cy="27.92" rx="6.78" ry="4.66" transform="rotate(81.05 36.03 27.92)" fill="url(#gw)" opacity="0.58"/><g fill="url(#gh4)"><circle cx="0.47" cy="0.23" r="3.4"/><circle cx="-2" cy="11.7" r="3.4"/><circle cx="19.6" cy="-2" r="3.4"/><circle cx="13.7" cy="7.8" r="3.4"/><circle cx="7.8" cy="17.6" r="3.4"/><circle cx="0.23" cy="30.83" r="3.4"/><circle cx="31.07" cy="0.47" r="3.4"/><circle cx="23.5" cy="13.7" r="3.4"/><circle cx="17.6" cy="23.5" r="3.4"/><circle cx="11.7" cy="33.3" r="3.4"/><circle cx="33.3" cy="19.6" r="3.4"/><circle cx="30.83" cy="31.07" r="3.4"/></g></symbol>
<radialGradient id="gh5"><stop offset="0" stop-color="rgb(33,33,33)" stop-opacity="0.78"/><stop offset="0.3" stop-color="rgb(33,33,33)" stop-opacity="0.74"/><stop offset="0.5" stop-color="rgb(33,33,33)" stop-opacity="0.61"/><stop offset="0.68" stop-color="rgb(33,33,33)" stop-opacity="0.35"/><stop offset="0.84" stop-color="rgb(33,33,33)" stop-opacity="0.12"/><stop offset="1" stop-color="rgb(33,33,33)" stop-opacity="0"/></radialGradient>
<symbol id="a5" viewBox="0 0 31.8 31.8" width="31.8" height="31.8" overflow="hidden"><rect x="-1" y="-1" width="33.3" height="33.3" fill="rgb(87,87,87)"/><ellipse cx="-4.73" cy="3.38" rx="6.98" ry="4.8" transform="rotate(-98.95 -4.73 3.38)" fill="url(#gw)" opacity="0.6"/><ellipse cx="11.59" cy="-0.68" rx="6.98" ry="4.8" transform="rotate(-53.95 11.59 -0.68)" fill="url(#gw)" opacity="0.6"/><ellipse cx="4.67" cy="9.04" rx="6.54" ry="4.91" transform="rotate(-130.95 4.67 9.04)" fill="url(#gw)" opacity="0.65"/><ellipse cx="5.29" cy="5.17" rx="4.14" ry="2.73" transform="rotate(-35.95 5.29 5.17)" fill="url(#gw)" opacity="0.49"/><ellipse cx="-0.68" cy="19.71" rx="6.98" ry="4.8" transform="rotate(216.05 -0.68 19.71)" fill="url(#gw)" opacity="0.6"/><ellipse cx="27.92" cy="-4.73" rx="6.98" ry="4.8" transform="rotate(-8.95 27.92 -4.73)" fill="url(#gw)" opacity="0.6"/><ellipse cx="22.26" cy="4.67" rx="6.54" ry="4.91" transform="rotate(-40.95 22.26 4.67)" fill="url(#gw)" opacity="0.65"/><ellipse cx="26.13" cy="5.29" rx="4.14" ry="2.73" transform="rotate(54.05 26.13 5.29)" fill="url(#gw)" opacity="0.49"/><circle cx="15.65" cy="15.65" r="4.8" fill="url(#gw)" opacity="0.85"/><ellipse cx="9.04" cy="26.63" rx="6.54" ry="4.91" transform="rotate(139.05 9.04 26.63)" fill="url(#gw)" opacity="0.65"/><ellipse cx="5.17" cy="26.01" rx="4.14" ry="2.73" transform="rotate(234.05 5.17 26.01)" fill="url(#gw)" opacity="0.49"/><ellipse cx="3.38" cy="36.03" rx="6.98" ry="4.8" transform="rotate(171.05 3.38 36.03)" fill="url(#gw)" opacity="0.6"/><ellipse cx="31.98" cy="11.59" rx="6.98" ry="4.8" transform="rotate(36.05 31.98 11.59)" fill="url(#gw)" opacity="0.6"/><ellipse cx="26.63" cy="22.26" rx="6.54" ry="4.91" transform="rotate(49.05 26.63 22.26)" fill="url(#gw)" opacity="0.65"/><ellipse cx="26.01" cy="26.13" rx="4.14" ry="2.73" transform="rotate(144.05 26.01 26.13)" fill="url(#gw)" opacity="0.49"/><ellipse cx="19.71" cy="31.98" rx="6.98" ry="4.8" transform="rotate(126.05 19.71 31.98)" fill="url(#gw)" opacity="0.6"/><ellipse cx="36.03" cy="27.92" rx="6.98" ry="4.8" transform="rotate(81.05 36.03 27.92)" fill="url(#gw)" opacity="0.6"/><g fill="url(#gh5)"><circle cx="0.47" cy="0.23" r="3.6"/><circle cx="-2" cy="11.7" r="3.6"/><circle cx="19.6" cy="-2" r="3.6"/><circle cx="13.7" cy="7.8" r="3.6"/><circle cx="7.8" cy="17.6" r="3.6"/><circle cx="0.23" cy="30.83" r="3.6"/><circle cx="31.07" cy="0.47" r="3.6"/><circle cx="23.5" cy="13.7" r="3.6"/><circle cx="17.6" cy="23.5" r="3.6"/><circle cx="11.7" cy="33.3" r="3.6"/><circle cx="33.3" cy="19.6" r="3.6"/><circle cx="30.83" cy="31.07" r="3.6"/></g></symbol>
<radialGradient id="gh6"><stop offset="0" stop-color="rgb(43,43,43)" stop-opacity="0.88"/><stop offset="0.3" stop-color="rgb(43,43,43)" stop-opacity="0.84"/><stop offset="0.5" stop-color="rgb(43,43,43)" stop-opacity="0.69"/><stop offset="0.68" stop-color="rgb(43,43,43)" stop-opacity="0.4"/><stop offset="0.84" stop-color="rgb(43,43,43)" stop-opacity="0.14"/><stop offset="1" stop-color="rgb(43,43,43)" stop-opacity="0"/></radialGradient>
<symbol id="a6" viewBox="0 0 31.8 31.8" width="31.8" height="31.8" overflow="hidden"><rect x="-1" y="-1" width="33.3" height="33.3" fill="rgb(105,105,105)"/><ellipse cx="-4.73" cy="3.38" rx="6.98" ry="4.8" transform="rotate(-98.95 -4.73 3.38)" fill="url(#gw)" opacity="0.65"/><ellipse cx="11.59" cy="-0.68" rx="6.98" ry="4.8" transform="rotate(-53.95 11.59 -0.68)" fill="url(#gw)" opacity="0.65"/><ellipse cx="4.67" cy="9.04" rx="6.54" ry="4.91" transform="rotate(-130.95 4.67 9.04)" fill="url(#gw)" opacity="0.71"/><ellipse cx="5.29" cy="5.17" rx="4.14" ry="2.73" transform="rotate(-35.95 5.29 5.17)" fill="url(#gw)" opacity="0.39"/><ellipse cx="-0.68" cy="19.71" rx="6.98" ry="4.8" transform="rotate(216.05 -0.68 19.71)" fill="url(#gw)" opacity="0.65"/><ellipse cx="27.92" cy="-4.73" rx="6.98" ry="4.8" transform="rotate(-8.95 27.92 -4.73)" fill="url(#gw)" opacity="0.65"/><ellipse cx="22.26" cy="4.67" rx="6.54" ry="4.91" transform="rotate(-40.95 22.26 4.67)" fill="url(#gw)" opacity="0.71"/><ellipse cx="26.13" cy="5.29" rx="4.14" ry="2.73" transform="rotate(54.05 26.13 5.29)" fill="url(#gw)" opacity="0.39"/><circle cx="15.65" cy="15.65" r="4.8" fill="url(#gw)" opacity="0.93"/><ellipse cx="9.04" cy="26.63" rx="6.54" ry="4.91" transform="rotate(139.05 9.04 26.63)" fill="url(#gw)" opacity="0.71"/><ellipse cx="5.17" cy="26.01" rx="4.14" ry="2.73" transform="rotate(234.05 5.17 26.01)" fill="url(#gw)" opacity="0.39"/><ellipse cx="3.38" cy="36.03" rx="6.98" ry="4.8" transform="rotate(171.05 3.38 36.03)" fill="url(#gw)" opacity="0.65"/><ellipse cx="31.98" cy="11.59" rx="6.98" ry="4.8" transform="rotate(36.05 31.98 11.59)" fill="url(#gw)" opacity="0.65"/><ellipse cx="26.63" cy="22.26" rx="6.54" ry="4.91" transform="rotate(49.05 26.63 22.26)" fill="url(#gw)" opacity="0.71"/><ellipse cx="26.01" cy="26.13" rx="4.14" ry="2.73" transform="rotate(144.05 26.01 26.13)" fill="url(#gw)" opacity="0.39"/><ellipse cx="19.71" cy="31.98" rx="6.98" ry="4.8" transform="rotate(126.05 19.71 31.98)" fill="url(#gw)" opacity="0.65"/><ellipse cx="36.03" cy="27.92" rx="6.98" ry="4.8" transform="rotate(81.05 36.03 27.92)" fill="url(#gw)" opacity="0.65"/><g fill="url(#gh6)"><circle cx="0.47" cy="0.23" r="3.9"/><circle cx="-2" cy="11.7" r="3.9"/><circle cx="19.6" cy="-2" r="3.9"/><circle cx="13.7" cy="7.8" r="3.9"/><circle cx="7.8" cy="17.6" r="3.9"/><circle cx="0.23" cy="30.83" r="3.9"/><circle cx="31.07" cy="0.47" r="3.9"/><circle cx="23.5" cy="13.7" r="3.9"/><circle cx="17.6" cy="23.5" r="3.9"/><circle cx="11.7" cy="33.3" r="3.9"/><circle cx="33.3" cy="19.6" r="3.9"/><circle cx="30.83" cy="31.07" r="3.9"/></g></symbol>
<radialGradient id="gh7"><stop offset="0" stop-color="rgb(48,48,48)" stop-opacity="0.94"/><stop offset="0.3" stop-color="rgb(48,48,48)" stop-opacity="0.89"/><stop offset="0.5" stop-color="rgb(48,48,48)" stop-opacity="0.73"/><stop offset="0.68" stop-color="rgb(48,48,48)" stop-opacity="0.42"/><stop offset="0.84" stop-color="rgb(48,48,48)" stop-opacity="0.15"/><stop offset="1" stop-color="rgb(48,48,48)" stop-opacity="0"/></radialGradient>
<symbol id="a7" viewBox="0 0 31.8 31.8" width="31.8" height="31.8" overflow="hidden"><rect x="-1" y="-1" width="33.3" height="33.3" fill="rgb(120,120,120)"/><ellipse cx="-4.73" cy="3.38" rx="6.91" ry="4.75" transform="rotate(-98.95 -4.73 3.38)" fill="url(#gw)" opacity="0.69"/><ellipse cx="11.59" cy="-0.68" rx="6.91" ry="4.75" transform="rotate(-53.95 11.59 -0.68)" fill="url(#gw)" opacity="0.69"/><ellipse cx="4.67" cy="9.04" rx="6.48" ry="4.86" transform="rotate(-130.95 4.67 9.04)" fill="url(#gw)" opacity="0.75"/><ellipse cx="5.29" cy="5.2" rx="4.1" ry="2.7" transform="rotate(-35.95 5.29 5.2)" fill="url(#gw)" opacity="0.41"/><ellipse cx="-0.68" cy="19.71" rx="6.91" ry="4.75" transform="rotate(216.05 -0.68 19.71)" fill="url(#gw)" opacity="0.69"/><ellipse cx="27.92" cy="-4.73" rx="6.91" ry="4.75" transform="rotate(-8.95 27.92 -4.73)" fill="url(#gw)" opacity="0.69"/><ellipse cx="22.26" cy="4.67" rx="6.48" ry="4.86" transform="rotate(-40.95 22.26 4.67)" fill="url(#gw)" opacity="0.75"/><ellipse cx="26.1" cy="5.29" rx="4.1" ry="2.7" transform="rotate(54.05 26.1 5.29)" fill="url(#gw)" opacity="0.41"/><circle cx="15.65" cy="15.65" r="4.75" fill="url(#gw)" opacity="0.97"/><ellipse cx="9.04" cy="26.63" rx="6.48" ry="4.86" transform="rotate(139.05 9.04 26.63)" fill="url(#gw)" opacity="0.75"/><ellipse cx="5.2" cy="26.01" rx="4.1" ry="2.7" transform="rotate(234.05 5.2 26.01)" fill="url(#gw)" opacity="0.41"/><ellipse cx="3.38" cy="36.03" rx="6.91" ry="4.75" transform="rotate(171.05 3.38 36.03)" fill="url(#gw)" opacity="0.69"/><ellipse cx="31.98" cy="11.59" rx="6.91" ry="4.75" transform="rotate(36.05 31.98 11.59)" fill="url(#gw)" opacity="0.69"/><ellipse cx="26.63" cy="22.26" rx="6.48" ry="4.86" transform="rotate(49.05 26.63 22.26)" fill="url(#gw)" opacity="0.75"/><ellipse cx="26.01" cy="26.1" rx="4.1" ry="2.7" transform="rotate(144.05 26.01 26.1)" fill="url(#gw)" opacity="0.41"/><ellipse cx="19.71" cy="31.98" rx="6.91" ry="4.75" transform="rotate(126.05 19.71 31.98)" fill="url(#gw)" opacity="0.69"/><ellipse cx="36.03" cy="27.92" rx="6.91" ry="4.75" transform="rotate(81.05 36.03 27.92)" fill="url(#gw)" opacity="0.69"/><g fill="url(#gh7)"><circle cx="0.47" cy="0.23" r="4"/><circle cx="-2" cy="11.7" r="4"/><circle cx="19.6" cy="-2" r="4"/><circle cx="13.7" cy="7.8" r="4"/><circle cx="7.8" cy="17.6" r="4"/><circle cx="0.23" cy="30.83" r="4"/><circle cx="31.07" cy="0.47" r="4"/><circle cx="23.5" cy="13.7" r="4"/><circle cx="17.6" cy="23.5" r="4"/><circle cx="11.7" cy="33.3" r="4"/><circle cx="33.3" cy="19.6" r="4"/><circle cx="30.83" cy="31.07" r="4"/></g></symbol>
<radialGradient id="gh8"><stop offset="0" stop-color="rgb(51,51,51)" stop-opacity="0.96"/><stop offset="0.3" stop-color="rgb(51,51,51)" stop-opacity="0.91"/><stop offset="0.5" stop-color="rgb(51,51,51)" stop-opacity="0.75"/><stop offset="0.68" stop-color="rgb(51,51,51)" stop-opacity="0.43"/><stop offset="0.84" stop-color="rgb(51,51,51)" stop-opacity="0.15"/><stop offset="1" stop-color="rgb(51,51,51)" stop-opacity="0"/></radialGradient>
<symbol id="a8" viewBox="0 0 31.8 31.8" width="31.8" height="31.8" overflow="hidden"><rect x="-1" y="-1" width="33.3" height="33.3" fill="rgb(130,130,130)"/><ellipse cx="-4.73" cy="3.38" rx="6.98" ry="4.8" transform="rotate(-98.95 -4.73 3.38)" fill="url(#gw)" opacity="0.72"/><ellipse cx="11.59" cy="-0.68" rx="6.98" ry="4.8" transform="rotate(-53.95 11.59 -0.68)" fill="url(#gw)" opacity="0.72"/><ellipse cx="4.67" cy="9.04" rx="6.54" ry="4.91" transform="rotate(-130.95 4.67 9.04)" fill="url(#gw)" opacity="0.79"/><ellipse cx="5.29" cy="5.17" rx="4.14" ry="2.73" transform="rotate(-35.95 5.29 5.17)" fill="url(#gw)" opacity="0.43"/><ellipse cx="-0.68" cy="19.71" rx="6.98" ry="4.8" transform="rotate(216.05 -0.68 19.71)" fill="url(#gw)" opacity="0.72"/><ellipse cx="27.92" cy="-4.73" rx="6.98" ry="4.8" transform="rotate(-8.95 27.92 -4.73)" fill="url(#gw)" opacity="0.72"/><ellipse cx="22.26" cy="4.67" rx="6.54" ry="4.91" transform="rotate(-40.95 22.26 4.67)" fill="url(#gw)" opacity="0.79"/><ellipse cx="26.13" cy="5.29" rx="4.14" ry="2.73" transform="rotate(54.05 26.13 5.29)" fill="url(#gw)" opacity="0.43"/><circle cx="15.65" cy="15.65" r="4.8" fill="url(#gw)" opacity="1"/><ellipse cx="9.04" cy="26.63" rx="6.54" ry="4.91" transform="rotate(139.05 9.04 26.63)" fill="url(#gw)" opacity="0.79"/><ellipse cx="5.17" cy="26.01" rx="4.14" ry="2.73" transform="rotate(234.05 5.17 26.01)" fill="url(#gw)" opacity="0.43"/><ellipse cx="3.38" cy="36.03" rx="6.98" ry="4.8" transform="rotate(171.05 3.38 36.03)" fill="url(#gw)" opacity="0.72"/><ellipse cx="31.98" cy="11.59" rx="6.98" ry="4.8" transform="rotate(36.05 31.98 11.59)" fill="url(#gw)" opacity="0.72"/><ellipse cx="26.63" cy="22.26" rx="6.54" ry="4.91" transform="rotate(49.05 26.63 22.26)" fill="url(#gw)" opacity="0.79"/><ellipse cx="26.01" cy="26.13" rx="4.14" ry="2.73" transform="rotate(144.05 26.01 26.13)" fill="url(#gw)" opacity="0.43"/><ellipse cx="19.71" cy="31.98" rx="6.98" ry="4.8" transform="rotate(126.05 19.71 31.98)" fill="url(#gw)" opacity="0.72"/><ellipse cx="36.03" cy="27.92" rx="6.98" ry="4.8" transform="rotate(81.05 36.03 27.92)" fill="url(#gw)" opacity="0.72"/><g fill="url(#gh8)"><circle cx="0.47" cy="0.23" r="4"/><circle cx="-2" cy="11.7" r="4"/><circle cx="19.6" cy="-2" r="4"/><circle cx="13.7" cy="7.8" r="4"/><circle cx="7.8" cy="17.6" r="4"/><circle cx="0.23" cy="30.83" r="4"/><circle cx="31.07" cy="0.47" r="4"/><circle cx="23.5" cy="13.7" r="4"/><circle cx="17.6" cy="23.5" r="4"/><circle cx="11.7" cy="33.3" r="4"/><circle cx="33.3" cy="19.6" r="4"/><circle cx="30.83" cy="31.07" r="4"/></g></symbol>
<clipPath id="cA"><rect x="19.2" y="1.5" width="281.8" height="281.6"/></clipPath>
</defs>
<g clip-path="url(#cA)"><g filter="url(#cm)">
<rect x="17.2" y="-0.5" width="285.8" height="285.6" fill="#333"/>
<use href="#a0" x="19.3" y="1.1"/><use href="#a0" x="50.5" y="1.1"/><use href="#a0" x="81.7" y="1.1"/><use href="#a0" x="112.9" y="1.1"/><use href="#a0" x="144.1" y="1.1"/><use href="#a0" x="175.3" y="1.1"/><use href="#a0" x="206.5" y="1.1"/><use href="#a0" x="237.7" y="1.1"/><use href="#a0" x="268.9" y="1.1"/><use href="#a0" x="300.1" y="1.1"/>
<use href="#a1" x="19.3" y="32.35"/><use href="#a1" x="50.5" y="32.35"/><use href="#a1" x="81.7" y="32.35"/><use href="#a1" x="112.9" y="32.35"/><use href="#a1" x="144.1" y="32.35"/><use href="#a1" x="175.3" y="32.35"/><use href="#a1" x="206.5" y="32.35"/><use href="#a1" x="237.7" y="32.35"/><use href="#a1" x="268.9" y="32.35"/><use href="#a1" x="300.1" y="32.35"/>
<use href="#a2" x="19.3" y="63.6"/><use href="#a2" x="50.5" y="63.6"/><use href="#a2" x="81.7" y="63.6"/><use href="#a2" x="112.9" y="63.6"/><use href="#a2" x="144.1" y="63.6"/><use href="#a2" x="175.3" y="63.6"/><use href="#a2" x="206.5" y="63.6"/><use href="#a2" x="237.7" y="63.6"/><use href="#a2" x="268.9" y="63.6"/><use href="#a2" x="300.1" y="63.6"/>
<use href="#a3" x="19.3" y="94.85"/><use href="#a3" x="50.5" y="94.85"/><use href="#a3" x="81.7" y="94.85"/><use href="#a3" x="112.9" y="94.85"/><use href="#a3" x="144.1" y="94.85"/><use href="#a3" x="175.3" y="94.85"/><use href="#a3" x="206.5" y="94.85"/><use href="#a3" x="237.7" y="94.85"/><use href="#a3" x="268.9" y="94.85"/><use href="#a3" x="300.1" y="94.85"/>
<use href="#a4" x="19.3" y="126.1"/><use href="#a4" x="50.5" y="126.1"/><use href="#a4" x="81.7" y="126.1"/><use href="#a4" x="112.9" y="126.1"/><use href="#a4" x="144.1" y="126.1"/><use href="#a4" x="175.3" y="126.1"/><use href="#a4" x="206.5" y="126.1"/><use href="#a4" x="237.7" y="126.1"/><use href="#a4" x="268.9" y="126.1"/><use href="#a4" x="300.1" y="126.1"/>
<use href="#a5" x="19.3" y="157.35"/><use href="#a5" x="50.5" y="157.35"/><use href="#a5" x="81.7" y="157.35"/><use href="#a5" x="112.9" y="157.35"/><use href="#a5" x="144.1" y="157.35"/><use href="#a5" x="175.3" y="157.35"/><use href="#a5" x="206.5" y="157.35"/><use href="#a5" x="237.7" y="157.35"/><use href="#a5" x="268.9" y="157.35"/><use href="#a5" x="300.1" y="157.35"/>
<use href="#a6" x="19.3" y="188.6"/><use href="#a6" x="50.5" y="188.6"/><use href="#a6" x="81.7" y="188.6"/><use href="#a6" x="112.9" y="188.6"/><use href="#a6" x="144.1" y="188.6"/><use href="#a6" x="175.3" y="188.6"/><use href="#a6" x="206.5" y="188.6"/><use href="#a6" x="237.7" y="188.6"/><use href="#a6" x="268.9" y="188.6"/><use href="#a6" x="300.1" y="188.6"/>
<use href="#a7" x="19.3" y="219.85"/><use href="#a7" x="50.5" y="219.85"/><use href="#a7" x="81.7" y="219.85"/><use href="#a7" x="112.9" y="219.85"/><use href="#a7" x="144.1" y="219.85"/><use href="#a7" x="175.3" y="219.85"/><use href="#a7" x="206.5" y="219.85"/><use href="#a7" x="237.7" y="219.85"/><use href="#a7" x="268.9" y="219.85"/><use href="#a7" x="300.1" y="219.85"/>
<use href="#a8" x="19.3" y="251.1"/><use href="#a8" x="50.5" y="251.1"/><use href="#a8" x="81.7" y="251.1"/><use href="#a8" x="112.9" y="251.1"/><use href="#a8" x="144.1" y="251.1"/><use href="#a8" x="175.3" y="251.1"/><use href="#a8" x="206.5" y="251.1"/><use href="#a8" x="237.7" y="251.1"/><use href="#a8" x="268.9" y="251.1"/><use href="#a8" x="300.1" y="251.1"/>
<use href="#a8" x="19.3" y="282.35"/><use href="#a8" x="50.5" y="282.35"/><use href="#a8" x="81.7" y="282.35"/><use href="#a8" x="112.9" y="282.35"/><use href="#a8" x="144.1" y="282.35"/><use href="#a8" x="175.3" y="282.35"/><use href="#a8" x="206.5" y="282.35"/><use href="#a8" x="237.7" y="282.35"/><use href="#a8" x="268.9" y="282.35"/><use href="#a8" x="300.1" y="282.35"/>
</g></g>
<text x="1" y="15" font-size="14" font-weight="bold">a)</text>
<text x="307.2" y="13.1" font-size="14" font-weight="bold">b)</text>
<text x="307.4" y="151" font-size="14" font-weight="bold">c)</text>
<text x="1" y="306.6" font-size="14" font-weight="bold">d)</text>
<text x="307.4" y="306.9" font-size="14" font-weight="bold">e)</text>
<text x="309.4" y="435.6" font-size="14" font-weight="bold">f)</text>
<path d="M360.92 101.2V100.6H363.09V101.2ZM363.09 101.2V100.6H365.26V101.2ZM365.26 101.2V100.6H367.43V101.2ZM367.43 101.2V100.6H369.6V101.2ZM369.6 101.2V100.6H371.77V101.2ZM371.77 101.2V100.6H373.94V101.2ZM373.94 101.2V100.6H376.11V101.2ZM376.11 101.2V100.6H378.28V101.2ZM378.28 101.2V100.6H380.45V101.2ZM380.45 101.2V100.6H382.62V101.2ZM382.62 101.2V100.6H384.79V101.2ZM384.79 101.2V100.6H386.96V101.2ZM386.96 101.2V100.6H389.13V101.2ZM389.13 101.2V100.6H391.3V101.2ZM391.3 101.2V89.6H393.47V101.2ZM393.47 101.2V62H395.64V101.2ZM395.64 101.2V98H397.81V101.2ZM397.81 101.2V99.5H399.98V101.2ZM399.98 101.2V100.6H402.15V101.2ZM402.15 101.2V100.6H404.32V101.2ZM404.32 101.2V100.6H406.49V101.2ZM406.49 101.2V100.6H408.66V101.2ZM408.66 101.2V100.6H410.83V101.2ZM410.83 101.2V100.6H413V101.2ZM413 101.2V98.3H415.17V101.2ZM415.17 101.2V100H417.34V101.2ZM417.34 101.2V100.6H419.51V101.2ZM419.51 101.2V100.6H421.68V101.2ZM421.68 101.2V100.6H423.85V101.2ZM423.85 101.2V100.4H426.02V101.2ZM426.02 101.2V99.1H428.19V101.2ZM428.19 101.2V100.3H430.36V101.2ZM430.36 101.2V98.3H432.53V101.2ZM432.53 101.2V7H434.7V101.2ZM434.7 101.2V64.5H436.87V101.2ZM436.87 101.2V95.2H439.04V101.2ZM439.04 101.2V97.4H441.21V101.2ZM441.21 101.2V98.6H443.38V101.2ZM443.38 101.2V97.4H445.55V101.2ZM445.55 101.2V100.2H447.72V101.2ZM447.72 101.2V99.6H449.89V101.2ZM449.89 101.2V96.5H452.06V101.2ZM452.06 101.2V92.6H454.23V101.2ZM454.23 101.2V92.6H456.4V101.2ZM456.4 101.2V95.2H458.57V101.2ZM458.57 101.2V97.4H460.74V101.2ZM460.74 101.2V99.7H462.91V101.2ZM462.91 101.2V99.1H465.08V101.2ZM465.08 101.2V98.3H467.25V101.2ZM467.25 101.2V97.9H469.42V101.2ZM469.42 101.2V96.5H471.59V101.2ZM471.59 101.2V76.1H473.76V101.2ZM473.76 101.2V8.5H475.93V101.2ZM475.93 101.2V92.2H478.1V101.2ZM478.1 101.2V99.7H480.27V101.2ZM480.27 101.2V100.3H482.44V101.2ZM482.44 101.2V100.6H484.61V101.2ZM484.61 101.2V100.6H486.78V101.2ZM486.78 101.2V100.6H488.95V101.2ZM488.95 101.2V100.6H491.12V101.2ZM491.12 101.2V100.6H493.29V101.2Z" fill="#7d7d7d"/>
<rect x="345.5" y="2.5" width="159.5" height="98.7" fill="none" stroke="#858585" stroke-width="1"/>
<text x="342.8" y="11.9" font-size="12.6" text-anchor="end">500</text>
<text x="342.8" y="51.3" font-size="12.6" text-anchor="end">250</text>
<text x="342.9" y="100.8" font-size="12.6" text-anchor="end">0</text>
<text x="317.4" y="53.6" font-size="12.5" text-anchor="middle" transform="rotate(-90 317.4 53.6)">Count</text>
<text x="367" y="117.3" font-size="12" text-anchor="middle">1.0</text>
<text x="427.5" y="117.3" font-size="12" text-anchor="middle">3.5</text>
<text x="489.5" y="117.3" font-size="12" text-anchor="middle">6.0</text>
<text x="426.6" y="129.9" font-size="12.8" text-anchor="middle">Encoded Angle</text>
<path d="M370.86 397.2V396.6H373.19V397.2ZM373.19 397.2V396.6H375.52V397.2ZM375.52 397.2V396.6H377.85V397.2ZM377.85 397.2V396.6H380.18V397.2ZM380.18 397.2V396.6H382.51V397.2ZM382.51 397.2V396.6H384.84V397.2ZM384.84 397.2V396.6H387.17V397.2ZM387.17 397.2V396.6H389.5V397.2ZM389.5 397.2V386.7H391.83V397.2ZM391.83 397.2V328.5H394.16V397.2ZM394.16 397.2V304.4H396.49V397.2ZM396.49 397.2V374.1H398.82V397.2ZM398.82 397.2V393.6H401.15V397.2ZM401.15 397.2V395.3H403.48V397.2ZM403.48 397.2V396H405.81V397.2ZM405.81 397.2V396.6H408.14V397.2ZM408.14 397.2V396.6H410.47V397.2ZM410.47 397.2V396.6H412.8V397.2ZM412.8 397.2V396.6H415.13V397.2ZM415.13 397.2V396.6H417.46V397.2ZM417.46 397.2V396.6H419.79V397.2ZM419.79 397.2V396.6H422.12V397.2ZM422.12 397.2V396.6H424.45V397.2ZM424.45 397.2V396.6H426.78V397.2ZM426.78 397.2V396.6H429.11V397.2ZM429.11 397.2V396.6H431.44V397.2ZM431.44 397.2V396.6H433.77V397.2ZM433.77 397.2V396.6H436.1V397.2ZM436.1 397.2V396.6H438.43V397.2ZM438.43 397.2V396.6H440.76V397.2ZM440.76 397.2V396.6H443.09V397.2ZM443.09 397.2V396.6H445.42V397.2ZM445.42 397.2V396.6H447.75V397.2ZM447.75 397.2V396.6H450.08V397.2ZM450.08 397.2V396.6H452.41V397.2ZM452.41 397.2V396.6H454.74V397.2ZM454.74 397.2V396.6H457.07V397.2ZM457.07 397.2V396.6H459.4V397.2ZM459.4 397.2V396.6H461.73V397.2ZM461.73 397.2V396.6H464.06V397.2ZM464.06 397.2V396.6H466.39V397.2ZM466.39 397.2V396.4H468.72V397.2ZM468.72 397.2V396.2H471.05V397.2ZM471.05 397.2V394.5H473.38V397.2ZM473.38 397.2V371.9H475.71V397.2ZM475.71 397.2V360.4H478.04V397.2ZM478.04 397.2V393H480.37V397.2ZM480.37 397.2V396.3H482.7V397.2ZM482.7 397.2V396.6H485.03V397.2ZM485.03 397.2V396.6H487.36V397.2ZM487.36 397.2V396.6H489.69V397.2Z" fill="#7d7d7d"/>
<rect x="356" y="299.7" width="157.3" height="97.5" fill="none" stroke="#858585" stroke-width="1"/>
<text x="350.3" y="310.2" font-size="12" text-anchor="end">650</text>
<text x="350.3" y="348.8" font-size="12" text-anchor="end">370</text>
<text x="350.3" y="399.3" font-size="12" text-anchor="end">0</text>
<text x="325.7" y="352.4" font-size="12.5" text-anchor="middle" transform="rotate(-90 325.7 352.4)">Count</text>
<text x="376.3" y="409.5" font-size="12" text-anchor="middle">0.5</text>
<text x="432" y="409.5" font-size="12" text-anchor="middle">1.75</text>
<text x="488" y="409.5" font-size="12" text-anchor="middle">3.0</text>
<text x="429.3" y="421.6" font-size="12.8" text-anchor="middle">Encoded Angle</text>
<defs><radialGradient id="vs"><stop offset="0" stop-color="#c2df23"/><stop offset="0.35" stop-color="#93d741"/><stop offset="0.6" stop-color="#4ac16d" stop-opacity="0.9"/><stop offset="0.8" stop-color="#1fa187" stop-opacity="0.5"/><stop offset="1" stop-color="#277f8e" stop-opacity="0"/></radialGradient><radialGradient id="vg"><stop offset="0" stop-color="#6ece58"/><stop offset="0.4" stop-color="#35b779" stop-opacity="0.9"/><stop offset="0.75" stop-color="#21918c" stop-opacity="0.5"/><stop offset="1" stop-color="#2c728e" stop-opacity="0"/></radialGradient><radialGradient id="vt"><stop offset="0" stop-color="#26828e" stop-opacity="0.9"/><stop offset="0.6" stop-color="#31688e" stop-opacity="0.5"/><stop offset="1" stop-color="#3b528b" stop-opacity="0"/></radialGradient><radialGradient id="vp"><stop offset="0" stop-color="#440154" stop-opacity="0.95"/><stop offset="0.55" stop-color="#46216f" stop-opacity="0.6"/><stop offset="1" stop-color="#443983" stop-opacity="0"/></radialGradient><clipPath id="ciB"><rect x="355.2" y="8" width="39.6" height="39.7"/></clipPath><clipPath id="ciE"><rect x="453" y="307.3" width="39.7" height="39.6"/></clipPath><filter id="b1" x="-10%" y="-10%" width="120%" height="120%"><feGaussianBlur stdDeviation="0.6"/></filter></defs>
<g clip-path="url(#ciB)"><g filter="url(#b1)"><rect x="353" y="6" width="44" height="44" fill="#3d4f8c"/><ellipse cx="361.5" cy="20.5" rx="5.5" ry="4.2" fill="url(#vp)"/><ellipse cx="375.5" cy="20.5" rx="5.5" ry="4.2" fill="url(#vp)"/><ellipse cx="389.9" cy="20.5" rx="5.5" ry="4.2" fill="url(#vp)"/><ellipse cx="361.5" cy="35.5" rx="5.5" ry="4.2" fill="url(#vp)"/><ellipse cx="375.5" cy="35.5" rx="5.5" ry="4.2" fill="url(#vp)"/><ellipse cx="389.9" cy="35.5" rx="5.5" ry="4.2" fill="url(#vp)"/><ellipse cx="368.5" cy="13.1" rx="3.6" ry="4.5" fill="url(#vp)" opacity="0.55"/><ellipse cx="382.7" cy="13.1" rx="3.6" ry="4.5" fill="url(#vp)" opacity="0.55"/><ellipse cx="368.5" cy="28" rx="3.6" ry="4.5" fill="url(#vp)" opacity="0.55"/><ellipse cx="382.7" cy="28" rx="3.6" ry="4.5" fill="url(#vp)" opacity="0.55"/><ellipse cx="368.5" cy="42.9" rx="3.6" ry="4.5" fill="url(#vp)" opacity="0.55"/><ellipse cx="382.7" cy="42.9" rx="3.6" ry="4.5" fill="url(#vp)" opacity="0.55"/><circle cx="368.5" cy="20.5" r="4" fill="url(#vt)"/><circle cx="382.7" cy="20.5" r="4" fill="url(#vt)"/><circle cx="368.5" cy="35.5" r="4" fill="url(#vt)"/><circle cx="382.7" cy="35.5" r="4" fill="url(#vt)"/><ellipse cx="361.5" cy="13.1" rx="5.6" ry="5.2" fill="url(#vs)"/><ellipse cx="375.5" cy="13.1" rx="5.6" ry="5.2" fill="url(#vs)"/><ellipse cx="389.9" cy="13.1" rx="5.6" ry="5.2" fill="url(#vs)"/><ellipse cx="361.5" cy="28" rx="5.6" ry="5.2" fill="url(#vs)"/><ellipse cx="375.5" cy="28" rx="5.6" ry="5.2" fill="url(#vs)"/><ellipse cx="389.9" cy="28" rx="5.6" ry="5.2" fill="url(#vs)"/><ellipse cx="361.5" cy="42.9" rx="5.6" ry="5.2" fill="url(#vs)"/><ellipse cx="375.5" cy="42.9" rx="5.6" ry="5.2" fill="url(#vs)"/><ellipse cx="389.9" cy="42.9" rx="5.6" ry="5.2" fill="url(#vs)"/></g></g>
<g clip-path="url(#ciE)"><g filter="url(#b1)"><rect x="451" y="305" width="44" height="44" fill="#433d84"/><circle cx="477.8" cy="316.4" r="8" fill="url(#vp)"/><circle cx="463.4" cy="318.3" r="8" fill="url(#vp)"/><circle cx="456.7" cy="337.6" r="8" fill="url(#vp)"/><circle cx="478.8" cy="339.5" r="8" fill="url(#vp)"/><circle cx="490" cy="320" r="7" fill="url(#vp)"/><circle cx="466" cy="346" r="6" fill="url(#vp)"/><circle cx="489" cy="333" r="6" fill="url(#vp)"/><circle cx="456" cy="310" r="5" fill="url(#vp)"/><circle cx="462.4" cy="340.5" r="6" fill="url(#vt)"/><circle cx="486.5" cy="313.5" r="6" fill="url(#vt)"/><circle cx="486.5" cy="340.8" r="6" fill="url(#vt)"/><circle cx="460.5" cy="313.5" r="5.5" fill="url(#vt)"/><circle cx="454" cy="327" r="6.5" fill="url(#vg)" opacity="0.95"/><circle cx="473.5" cy="308.6" r="6.5" fill="url(#vg)" opacity="0.8"/><circle cx="493" cy="327" r="6" fill="url(#vg)" opacity="0.6"/><circle cx="472" cy="346.3" r="6" fill="url(#vg)" opacity="0.55"/><circle cx="473.5" cy="327.5" r="7.3" fill="url(#vs)"/></g></g>
<defs><filter id="k3" x="-30%" y="-30%" width="160%" height="160%"><feGaussianBlur stdDeviation="3.2"/></filter><filter id="k2" x="-30%" y="-30%" width="160%" height="160%"><feGaussianBlur stdDeviation="2"/></filter><filter id="k1" x="-30%" y="-30%" width="160%" height="160%"><feGaussianBlur stdDeviation="1.3"/></filter><clipPath id="cC"><rect x="366" y="141" width="118.5" height="118"/></clipPath><clipPath id="cF"><rect x="366.5" y="432" width="118" height="117.8"/></clipPath></defs>
<g clip-path="url(#cC)"><path d="M422.2 219.0h0M423.5 165.6h0M411.5 180.7h0M421.1 187.7h0M409.8 160.8h0M408.4 180.6h0M424.3 176.9h0M421.9 202.5h0M430.2 190.3h0M421.4 162.2h0M419.4 173.8h0M421.1 190.1h0M427.1 169.8h0M420.9 171.7h0M407.5 145.0h0M412.8 193.2h0M434.3 177.6h0M411.6 186.6h0M404.9 143.8h0M436.2 214.8h0M430.9 179.2h0M414.4 169.6h0M433.5 224.8h0M418.3 177.2h0M405.5 145.5h0M420.0 167.9h0M421.8 203.3h0M410.9 169.7h0M402.8 163.6h0M413.1 205.9h0M424.1 190.1h0M411.3 163.6h0M409.9 150.5h0M435.3 210.4h0M423.4 220.6h0M423.3 169.0h0M427.3 196.9h0M428.1 171.6h0M426.3 190.4h0M415.0 160.5h0M422.1 186.8h0M440.7 228.5h0M429.9 182.2h0M422.6 164.4h0M439.9 220.4h0M416.4 184.6h0M427.2 178.7h0M415.3 185.2h0M412.1 176.4h0M426.4 168.8h0M411.5 144.5h0M425.6 188.9h0M427.2 173.9h0M428.3 205.3h0M419.2 169.0h0M411.6 177.4h0M436.6 215.9h0M420.3 168.4h0M410.9 158.1h0M404.6 152.0h0M431.4 149.4h0M408.7 173.1h0M414.3 150.1h0M416.6 215.6h0M421.0 170.7h0M426.1 179.2h0M426.9 211.7h0M419.2 215.1h0M418.1 173.1h0M438.3 181.8h0M418.5 196.3h0M430.0 170.8h0M431.4 191.4h0M437.6 195.9h0M430.8 185.6h0M421.6 154.8h0M422.8 172.4h0M416.7 164.1h0M420.3 170.4h0M437.2 205.9h0M429.1 213.5h0M416.1 195.3h0M415.6 192.4h0M422.2 194.0h0M415.0 178.7h0M412.7 177.7h0M406.0 164.5h0M407.0 179.5h0M434.0 230.3h0M426.2 197.9h0M407.0 172.5h0M405.7 169.6h0M403.7 160.3h0M438.4 182.9h0M423.2 186.8h0M416.9 190.6h0M416.0 164.8h0M426.8 211.5h0M421.3 181.4h0M419.4 220.3h0M419.1 166.8h0M410.5 173.0h0M417.1 185.9h0M422.6 203.3h0M419.2 192.0h0M412.0 149.3h0M428.4 180.5h0M414.5 179.7h0M412.0 169.2h0M417.0 162.6h0M423.7 220.1h0M410.9 170.4h0M424.2 156.1h0M424.0 192.7h0M423.4 180.3h0M425.6 174.7h0M421.4 196.8h0M428.2 188.0h0M424.6 185.7h0M422.9 201.0h0M418.5 185.2h0M413.9 164.1h0M401.4 173.2h0M420.3 165.0h0M418.8 183.3h0M422.4 150.8h0M411.7 182.0h0M403.5 148.8h0M423.5 186.3h0M406.6 163.5h0M422.9 189.4h0M409.7 167.2h0M420.5 150.1h0M402.8 151.2h0M409.3 167.7h0M414.7 172.4h0M420.8 157.4h0M419.1 171.2h0M410.1 142.3h0M417.7 178.8h0M420.0 173.1h0M421.9 194.6h0M415.3 205.9h0M443.2 214.7h0M434.7 193.2h0M431.0 205.1h0M437.3 198.0h0M410.5 157.2h0M421.0 187.8h0M431.4 221.1h0M416.3 141.9h0M420.9 189.4h0M424.2 204.3h0M413.4 162.3h0M427.9 190.4h0M409.0 154.0h0M425.7 156.6h0M406.1 161.0h0M442.7 177.4h0M423.3 174.9h0M433.3 198.3h0M408.7 157.3h0M429.5 172.5h0M411.6 203.5h0M433.7 188.5h0M397.7 150.4h0M419.9 194.3h0M416.7 166.9h0M418.4 187.7h0M405.3 188.7h0M419.6 208.0h0M436.2 177.0h0M410.4 146.4h0M435.1 192.4h0M412.6 173.2h0M434.4 202.6h0M419.7 184.7h0M413.8 160.9h0M430.0 202.2h0M410.5 160.2h0M429.3 226.6h0M424.3 192.6h0M410.7 203.2h0M419.5 181.6h0M425.8 201.5h0M417.3 143.0h0M412.1 146.6h0M416.4 169.8h0M423.1 196.6h0M420.5 185.2h0M427.8 196.1h0M413.9 168.4h0M410.9 175.7h0M417.8 150.4h0M418.2 170.5h0M422.3 192.0h0M408.8 173.1h0M414.3 190.9h0M421.7 163.4h0M415.8 164.3h0M430.5 176.4h0M425.4 171.8h0M422.6 191.9h0M415.9 183.2h0M422.0 220.3h0M420.6 172.3h0M428.0 170.4h0M411.0 154.3h0M420.9 178.2h0M420.1 194.7h0M414.3 161.0h0M414.1 178.0h0M418.7 195.9h0M412.7 176.4h0M420.0 165.1h0M417.6 202.4h0M423.7 179.4h0M421.0 187.4h0M412.4 208.5h0M423.1 205.4h0M426.0 167.9h0M405.9 168.2h0M413.8 186.3h0M410.6 176.8h0M423.9 208.4h0M421.3 178.1h0M428.5 194.1h0M402.1 153.1h0M429.1 207.5h0M419.8 163.4h0M422.1 174.7h0M398.5 148.3h0M412.3 175.6h0M420.9 172.0h0M418.8 173.6h0M418.2 189.1h0M413.5 180.9h0M436.4 198.1h0M410.5 168.6h0M415.7 154.3h0M424.3 176.4h0M425.7 192.0h0M420.5 208.4h0M411.2 200.0h0M417.5 187.7h0M433.3 210.8h0M416.3 180.3h0M410.8 167.3h0M431.9 182.8h0M420.5 165.4h0M417.2 194.3h0M432.1 174.8h0M429.7 210.0h0M417.9 190.7h0M427.8 158.3h0M425.6 191.5h0M424.2 200.0h0M410.0 166.2h0M426.4 165.9h0M422.2 199.6h0M407.7 166.2h0M414.8 173.6h0M436.1 192.9h0M428.8 173.7h0M429.3 187.4h0M416.1 151.7h0M405.5 148.2h0M437.1 195.7h0M424.5 189.0h0M428.9 175.1h0M437.7 205.4h0M403.7 158.2h0M416.5 168.3h0M413.3 204.7h0M420.9 222.9h0M426.2 176.7h0M441.9 214.2h0M401.3 167.4h0M424.2 185.0h0M426.8 172.0h0M405.9 142.0h0M419.9 184.3h0M429.4 198.7h0M421.2 174.0h0M418.0 176.6h0M426.5 210.7h0M407.3 150.0h0M414.0 142.4h0M418.4 162.1h0M408.7 151.0h0M424.5 210.0h0M413.3 187.1h0M416.6 157.4h0M416.9 163.5h0M443.3 243.0h0M405.4 166.2h0M425.4 157.9h0M419.7 185.5h0M429.4 191.4h0M418.3 183.7h0M409.2 158.0h0M425.1 148.2h0M424.2 191.6h0M431.9 173.8h0M400.5 142.0h0M429.0 204.6h0M435.1 193.5h0M423.3 171.2h0M408.6 174.1h0M410.0 185.9h0M406.6 164.0h0M417.9 145.2h0M422.3 185.3h0M399.9 147.1h0M426.9 185.9h0M414.1 143.7h0M425.8 174.1h0M427.2 172.9h0M420.4 221.7h0M409.2 154.2h0M408.6 145.7h0M411.8 163.9h0M406.1 153.4h0M405.4 166.7h0M421.8 187.8h0M426.1 195.5h0M435.8 215.1h0M407.7 162.6h0M437.5 238.8h0M441.0 221.9h0M420.3 172.8h0M413.0 177.4h0M412.7 181.4h0M425.7 178.4h0M420.8 172.8h0M424.0 157.6h0M423.7 192.5h0M421.6 202.3h0M416.6 166.7h0M432.4 180.7h0M424.6 160.7h0M406.0 161.7h0M427.2 178.2h0M417.0 191.5h0M411.9 165.9h0M429.9 190.0h0M426.5 179.4h0M430.4 219.3h0M418.6 177.8h0M418.2 149.0h0M413.2 143.5h0M428.0 204.9h0M428.3 175.5h0M423.8 190.3h0M429.1 198.6h0M432.4 173.8h0M420.3 170.2h0M416.4 155.4h0M413.5 177.7h0M413.6 175.0h0M417.0 188.5h0M416.5 175.6h0M429.4 179.6h0M422.9 196.6h0M421.4 155.8h0M402.2 174.9h0M419.9 201.9h0M430.9 176.3h0M430.6 187.5h0M431.7 213.2h0M420.3 204.4h0M415.2 177.5h0M421.7 196.9h0M413.7 190.0h0M426.9 179.7h0M399.1 142.8h0M413.3 212.4h0M409.7 162.9h0M416.1 195.6h0M426.3 166.1h0M406.3 205.5h0M425.0 209.0h0M407.8 160.3h0M419.3 174.8h0M432.6 195.9h0M419.2 168.9h0M416.1 163.7h0M420.3 189.8h0M412.4 163.3h0M410.3 146.0h0M420.8 185.0h0M401.0 164.1h0M417.7 151.0h0M409.0 171.7h0M425.8 176.2h0M412.9 162.7h0M418.6 168.9h0M393.9 166.2h0M405.8 203.6h0M429.9 172.9h0M430.1 188.5h0M423.1 189.0h0M402.6 162.0h0M414.4 193.2h0M419.0 186.7h0M431.4 183.0h0M423.4 167.3h0M436.5 163.6h0M434.8 193.8h0M428.2 229.7h0M409.3 159.9h0M431.8 188.3h0M416.7 169.6h0M412.0 199.1h0M420.7 188.5h0M427.4 202.3h0M412.4 164.8h0M413.5 155.0h0M422.7 174.6h0M418.6 160.4h0M415.4 163.2h0M427.1 193.0h0M420.1 224.7h0M409.9 172.6h0M406.5 188.7h0M408.1 180.7h0M407.4 172.3h0M409.5 147.0h0M415.8 155.6h0M406.8 198.8h0M430.1 202.0h0M424.5 179.2h0M421.2 157.0h0M418.4 180.6h0M415.2 173.1h0M415.0 192.5h0M421.7 180.4h0M428.6 160.6h0M418.2 183.0h0M406.1 152.0h0M423.7 197.2h0M426.8 205.4h0M409.1 151.4h0M411.4 190.2h0M414.6 154.7h0M435.5 200.7h0M428.4 198.2h0M419.4 172.3h0M437.8 198.3h0M411.6 169.2h0M421.5 161.7h0M412.7 165.6h0M417.3 175.0h0M420.0 169.9h0M408.6 184.3h0M420.2 162.7h0M428.5 194.8h0M422.9 202.4h0M410.8 167.8h0M411.8 144.6h0M430.5 193.3h0M420.7 205.8h0M414.3 175.2h0M397.6 151.4h0M422.5 183.9h0M426.2 214.0h0M432.8 186.7h0M417.3 170.8h0M408.7 159.4h0M429.5 188.0h0M417.3 146.5h0M429.6 183.0h0M416.9 210.9h0M425.0 181.1h0M410.6 158.5h0M412.0 148.1h0M445.1 211.5h0M417.6 172.3h0M410.1 154.4h0M427.5 144.2h0M415.0 152.8h0M420.8 169.4h0M420.3 146.2h0M430.4 216.8h0M429.5 157.3h0M413.5 160.1h0M412.6 187.2h0M436.4 209.8h0M427.1 208.9h0M406.6 169.0h0M420.0 184.2h0M424.0 180.6h0M428.9 188.9h0M419.6 184.3h0M415.4 155.7h0M408.1 149.6h0M431.4 179.6h0M405.3 152.1h0M429.8 209.2h0M415.1 180.0h0M419.2 152.8h0M427.1 168.3h0M420.8 165.2h0M425.7 173.3h0M427.3 199.5h0M407.0 145.3h0M419.9 186.2h0M422.4 173.0h0M423.6 181.1h0M417.6 189.4h0M410.3 175.7h0M426.1 196.2h0M415.6 156.9h0M425.3 178.3h0M413.5 158.9h0M406.5 153.2h0M443.8 187.6h0M420.7 191.7h0M430.2 147.9h0M418.8 185.4h0M425.9 202.9h0M413.2 163.0h0M428.4 171.4h0M396.5 148.5h0M432.3 236.9h0M424.5 188.5h0M413.3 201.5h0M418.3 194.5h0M418.5 201.2h0M414.4 194.2h0M432.6 166.7h0M411.5 198.2h0M422.4 179.3h0M424.4 208.8h0M408.9 162.3h0M421.7 164.2h0M420.8 194.0h0M420.9 209.2h0M420.6 181.3h0M412.1 162.2h0M430.4 172.5h0M425.4 164.4h0M438.0 220.4h0M421.7 199.6h0M399.3 213.8h0M419.2 185.5h0M417.6 164.8h0M426.3 205.3h0M421.3 218.3h0M417.5 192.8h0M427.6 175.5h0M418.0 205.0h0M417.7 169.3h0M417.7 197.2h0M430.1 158.0h0M425.5 152.7h0M418.3 192.2h0M434.3 182.9h0M427.0 223.2h0M415.5 172.0h0M418.6 178.8h0M410.8 151.9h0M424.9 188.2h0M413.3 150.4h0M404.5 209.2h0M419.0 213.2h0M413.5 172.3h0M425.6 217.4h0M426.0 182.1h0M423.9 204.7h0M420.1 172.3h0M417.9 202.0h0M421.0 154.4h0M439.9 188.6h0M421.1 166.3h0M413.8 176.1h0M405.2 196.9h0M413.0 183.7h0M426.2 174.6h0M425.0 194.7h0M430.7 195.2h0M413.4 145.3h0M429.0 189.6h0M435.0 191.0h0M412.2 161.2h0M420.2 187.3h0M413.6 146.7h0M424.8 212.2h0M403.6 175.8h0M418.2 176.4h0M428.7 205.4h0M412.5 176.1h0M434.6 189.3h0M408.4 154.8h0M422.0 163.4h0M417.9 144.1h0M417.6 173.3h0M413.0 204.9h0M426.1 182.0h0M417.4 200.3h0M411.2 154.6h0M424.8 155.0h0M410.4 168.6h0M428.5 190.0h0M432.0 183.9h0M425.1 176.3h0M428.1 191.3h0M414.4 175.4h0M424.7 176.3h0M415.8 211.0h0M414.7 164.7h0M425.7 181.1h0M434.2 214.3h0M418.4 180.8h0M437.9 191.1h0M431.9 160.2h0M436.4 222.3h0M412.1 151.8h0M413.7 153.4h0M429.8 215.5h0M437.1 182.6h0M420.4 171.3h0M425.4 145.1h0M415.4 187.9h0M420.2 180.7h0M416.4 161.6h0M408.6 143.8h0M411.2 152.7h0M419.0 183.4h0M418.7 185.9h0M424.1 178.7h0M428.3 172.2h0M409.3 181.5h0M406.6 155.5h0M421.3 178.6h0M417.6 189.9h0M419.0 161.5h0M411.2 154.7h0M429.2 200.2h0M420.4 186.5h0M401.6 166.4h0M408.4 179.3h0M428.5 191.4h0M430.5 203.1h0M416.1 162.1h0M412.0 163.9h0M418.6 167.3h0M416.7 199.3h0M417.1 149.6h0M409.1 177.6h0M407.5 158.0h0M429.0 182.4h0M406.9 142.6h0M423.1 186.4h0M409.5 168.1h0M422.2 171.9h0M420.1 190.8h0M421.7 205.7h0M438.5 198.3h0M421.6 191.3h0M418.8 170.9h0M419.8 212.5h0M418.9 182.8h0M435.6 206.1h0M413.9 164.7h0M420.2 156.5h0M427.8 206.3h0M434.9 227.8h0M420.4 193.4h0M434.6 196.5h0M425.0 165.1h0M428.4 143.3h0M402.8 176.3h0M434.8 211.4h0M425.2 164.5h0M423.2 179.8h0M419.8 199.5h0M411.5 149.2h0M414.9 169.0h0M430.9 208.0h0M419.6 175.8h0M404.0 151.0h0M412.6 147.2h0M438.3 192.7h0M411.7 161.4h0M423.3 203.0h0M414.9 200.4h0M435.8 158.0h0M416.5 165.7h0M424.6 196.0h0M419.8 181.6h0M425.6 183.2h0M419.4 200.1h0M414.6 157.6h0M417.8 163.2h0M424.7 187.2h0M430.7 227.1h0M422.8 168.1h0M426.8 143.6h0M421.3 229.9h0M433.2 178.8h0M419.1 171.7h0M423.3 150.6h0M416.3 154.0h0M434.6 210.9h0M418.5 171.6h0M422.9 164.0h0M426.3 163.9h0M425.9 215.1h0M406.9 166.4h0M420.6 193.2h0M420.4 184.4h0M428.6 181.8h0M415.6 157.3h0M420.1 194.1h0M433.1 214.5h0M413.0 178.2h0M415.1 156.4h0M410.3 148.3h0M424.4 181.6h0M421.8 170.8h0M417.6 175.9h0M417.1 178.8h0M409.3 144.0h0M431.4 194.5h0M426.4 182.2h0M419.6 176.1h0M434.5 180.3h0M417.3 201.3h0M417.8 179.7h0M415.0 158.1h0M431.3 204.0h0M411.6 169.2h0M417.9 160.5h0M397.7 144.6h0M417.1 178.8h0M425.0 150.9h0M411.8 167.0h0M426.1 187.5h0M423.8 177.8h0M427.1 201.3h0M422.5 184.8h0M415.9 168.9h0M412.6 171.5h0M413.9 166.8h0M428.6 191.8h0M429.8 176.2h0M423.5 167.0h0M421.9 198.3h0M414.2 181.6h0M404.4 170.0h0M421.7 188.3h0M422.9 183.1h0M423.1 178.4h0M416.6 168.0h0M417.2 158.0h0M420.6 172.2h0M425.8 182.2h0M416.4 175.6h0M411.5 176.3h0M405.6 169.7h0M425.5 185.0h0M428.8 181.6h0M417.8 159.9h0M430.1 194.3h0M416.8 198.1h0M430.2 195.6h0M418.7 175.0h0M428.6 171.1h0M416.2 150.2h0M422.6 195.9h0M422.8 167.6h0M415.4 170.6h0M439.5 194.5h0M428.6 175.9h0M420.6 154.0h0M415.8 143.7h0M412.9 161.6h0M416.0 181.4h0M431.8 176.5h0M415.1 174.2h0M424.3 160.0h0M405.6 176.0h0M423.1 201.7h0M412.9 152.4h0M421.4 178.4h0M428.9 215.7h0M422.9 190.9h0M422.5 166.1h0M418.1 194.6h0M414.0 160.8h0M414.6 179.3h0M428.8 214.1h0M425.3 223.3h0M398.0 200.2h0M435.6 222.3h0M420.2 164.4h0M414.4 185.6h0M419.2 215.2h0M423.0 165.1h0M434.4 185.7h0M429.7 174.2h0M427.5 184.7h0M420.2 173.3h0M417.6 201.3h0M423.5 228.6h0M428.1 192.9h0M414.1 170.2h0M416.0 189.9h0M410.9 184.9h0M426.6 201.5h0M417.6 143.0h0M408.3 151.9h0M427.0 191.2h0M405.8 180.7h0M404.1 165.8h0M418.0 160.5h0M428.2 161.9h0M419.3 155.2h0M420.8 169.8h0M413.5 167.2h0M439.5 207.6h0M404.2 189.5h0M398.7 162.6h0M422.1 163.0h0M439.9 202.8h0M423.7 188.2h0M418.5 185.5h0M414.2 197.0h0M423.4 216.2h0M414.9 149.1h0M430.2 157.2h0M416.6 190.9h0M420.2 168.5h0M414.4 162.6h0M414.4 160.4h0M425.5 193.6h0M427.6 172.6h0M414.7 166.0h0M437.0 204.9h0M404.3 155.8h0M419.7 146.8h0M430.5 239.4h0M423.3 168.1h0M414.4 165.8h0M417.6 160.5h0M415.4 175.6h0M430.0 194.9h0M435.9 192.8h0M425.0 190.1h0M421.1 170.8h0M426.5 183.3h0M440.3 210.6h0M425.0 203.1h0M421.8 173.3h0M424.3 196.7h0M399.2 173.2h0M418.6 176.8h0M410.7 149.6h0M413.8 171.5h0M421.8 180.9h0M423.4 172.9h0M417.9 197.3h0M422.8 223.6h0M448.2 203.9h0M419.6 170.5h0M418.5 160.2h0M420.6 161.7h0M405.8 157.1h0M424.1 177.8h0M416.1 189.2h0M425.0 181.2h0M424.0 181.7h0M415.7 182.8h0M424.7 173.6h0M417.2 160.2h0M437.3 216.4h0M432.1 200.9h0M410.0 157.8h0M411.0 157.7h0M425.1 162.3h0M428.8 176.7h0M408.5 211.6h0M430.2 200.5h0M432.1 201.4h0M422.3 204.2h0M431.6 202.4h0M426.7 194.5h0M416.1 190.0h0M412.2 176.7h0M409.7 177.1h0M430.8 219.8h0M418.9 164.8h0M416.7 163.2h0M427.8 201.1h0M416.7 180.6h0M415.4 167.1h0M434.1 213.0h0M422.1 192.8h0M428.1 194.7h0M421.2 163.7h0M423.8 189.3h0M414.8 188.4h0M422.3 196.5h0M417.1 206.9h0M414.9 206.8h0M421.2 181.8h0M428.2 193.0h0M419.6 149.8h0M421.5 193.4h0M417.5 195.3h0M406.6 171.4h0M425.3 157.6h0M413.1 178.0h0M405.8 151.3h0M404.3 189.9h0M420.3 185.1h0M415.2 155.6h0M431.3 176.5h0M431.4 201.5h0M433.7 200.9h0M432.8 199.8h0M425.7 172.9h0M429.3 167.4h0M418.6 168.6h0M420.4 192.4h0M427.2 234.1h0M428.3 210.6h0M421.0 216.7h0M419.6 211.2h0M420.9 172.7h0M426.7 165.7h0M433.8 205.5h0M427.8 217.7h0M417.3 162.2h0M409.6 181.2h0M408.2 194.3h0M414.3 167.2h0M418.0 162.9h0M417.4 161.8h0M425.5 210.9h0M435.3 214.8h0M427.5 200.9h0M425.0 218.7h0M416.4 211.2h0M424.5 224.9h0M430.3 226.7h0M426.7 232.8h0M427.3 208.4h0M416.4 197.1h0M405.8 196.7h0M413.9 211.6h0M407.4 199.6h0M420.3 192.0h0M421.0 208.2h0M428.1 197.6h0M419.6 222.1h0M435.4 232.3h0M433.7 205.3h0M429.3 213.7h0M415.6 194.6h0M442.5 207.3h0M432.5 199.7h0M411.7 202.2h0M415.7 191.0h0M431.0 229.6h0M430.4 188.8h0M406.5 202.7h0M415.9 214.8h0M419.7 217.0h0M434.2 211.8h0M420.0 214.6h0M411.3 205.0h0M429.9 219.4h0M426.9 213.2h0M422.0 194.0h0M425.9 231.6h0M424.6 207.2h0M430.6 221.5h0M429.8 191.1h0M432.6 193.5h0M414.3 208.0h0M408.8 208.6h0M421.4 225.7h0M406.2 197.6h0M429.2 212.1h0M420.4 200.2h0M423.3 218.7h0M426.4 213.7h0M408.6 210.5h0M443.9 233.0h0M428.6 209.6h0M431.5 223.2h0M424.4 194.8h0M417.0 212.9h0M440.5 207.0h0M415.7 216.7h0M415.6 210.6h0M418.3 203.4h0M400.4 181.0h0M403.1 212.3h0M419.0 202.1h0M417.3 211.1h0M424.6 222.7h0M429.1 238.4h0M430.4 216.5h0M434.1 221.3h0M421.9 220.8h0M431.3 218.6h0M419.2 221.3h0M416.7 211.3h0M426.4 207.0h0M422.6 216.8h0M430.9 232.6h0M428.5 220.5h0M421.7 233.5h0M418.5 197.6h0M423.4 215.8h0M441.3 211.0h0M421.5 219.7h0M430.0 192.5h0M419.7 190.2h0M402.6 192.9h0M408.3 212.8h0M436.9 237.5h0M435.1 211.0h0M416.0 199.7h0M428.7 214.9h0M420.2 209.8h0M435.6 210.2h0M413.4 210.4h0M406.5 202.1h0M433.5 202.0h0M433.2 218.1h0M431.0 213.7h0M423.3 228.2h0M435.5 194.5h0M426.8 224.7h0M426.2 212.4h0M431.3 212.2h0M423.7 228.5h0M439.2 205.3h0M436.2 211.3h0M433.1 217.4h0M421.2 221.8h0M430.3 220.7h0M436.1 224.7h0M422.6 219.9h0M426.3 206.2h0M439.4 238.3h0M426.5 211.4h0M423.1 217.9h0M399.7 212.1h0M424.0 184.9h0M418.8 204.7h0M425.7 213.0h0M428.5 217.9h0M412.2 217.4h0M421.3 223.9h0M422.9 225.9h0M431.9 222.6h0M431.0 210.3h0M422.2 214.6h0M425.6 209.5h0M425.2 201.3h0M424.7 230.8h0M428.7 195.3h0M429.7 209.9h0M418.8 217.7h0M416.0 188.5h0M421.9 223.1h0M429.5 206.4h0M419.4 217.4h0M428.4 207.0h0M407.0 199.5h0M418.6 217.4h0M420.8 215.4h0M415.9 228.6h0M423.2 219.2h0M422.2 192.1h0M416.2 229.8h0M424.6 222.9h0M417.5 225.1h0M424.8 218.8h0M411.9 208.3h0M433.1 216.4h0M432.6 205.1h0M447.0 241.3h0M417.0 212.4h0M435.1 194.7h0M436.8 203.9h0M441.2 225.0h0M419.8 207.2h0M410.5 186.6h0M436.5 227.1h0M419.0 218.9h0M419.4 208.3h0M417.2 224.5h0M412.6 205.3h0M424.6 197.7h0M426.2 224.3h0M423.1 206.7h0M422.4 220.3h0M422.3 213.7h0M427.1 222.4h0M418.7 216.2h0M415.0 190.0h0M420.8 222.8h0M421.7 207.7h0M428.8 222.5h0M417.0 216.9h0M422.1 231.8h0M412.7 213.0h0M410.4 191.6h0M424.2 208.7h0M424.5 219.3h0M421.2 209.6h0M436.0 202.6h0M438.9 226.3h0M411.1 215.7h0M428.7 224.7h0M447.2 206.3h0M418.9 196.3h0M418.7 202.8h0M432.4 205.8h0M407.0 223.0h0M411.6 207.1h0M411.6 199.3h0M421.2 200.9h0M417.9 208.4h0M413.5 205.4h0M417.7 207.7h0M436.9 232.0h0M423.5 216.6h0M419.5 204.1h0M421.5 213.6h0M438.7 227.7h0M424.5 221.0h0M423.5 211.7h0M416.5 198.3h0M415.4 194.3h0M434.0 204.8h0M416.7 214.1h0M411.3 196.7h0M429.2 193.9h0M424.6 212.1h0M421.7 185.3h0M420.5 192.1h0M415.8 215.1h0M422.1 220.7h0M409.6 222.1h0M427.4 224.3h0M439.5 227.3h0M426.9 223.2h0M442.5 202.7h0M418.7 242.0h0M429.0 232.5h0M424.5 224.7h0M419.7 204.1h0M432.7 214.8h0M416.6 188.8h0M429.2 206.8h0M418.2 183.2h0M420.0 209.0h0M438.2 220.9h0M411.4 217.7h0M439.6 227.9h0M417.9 215.2h0M430.0 212.1h0M433.2 205.8h0M423.7 219.9h0M423.2 212.9h0M431.4 225.7h0M431.8 230.8h0M431.2 215.2h0M416.8 201.3h0M430.9 217.7h0M430.2 228.1h0M418.7 223.3h0M436.6 212.2h0M433.3 221.7h0M435.7 225.7h0M420.6 181.0h0M441.9 226.0h0M430.4 220.7h0M425.8 218.6h0M423.7 206.1h0M438.7 210.7h0M422.2 221.5h0M413.4 198.0h0M427.6 221.4h0M433.4 210.6h0M438.0 226.8h0M412.5 226.0h0M410.8 215.7h0M421.6 214.7h0M435.1 217.3h0M415.8 218.0h0M426.0 219.4h0M409.0 209.5h0M424.6 196.9h0M419.1 207.6h0M421.0 196.0h0M416.0 206.1h0M431.7 214.9h0M411.2 196.9h0M423.2 197.7h0M435.3 218.4h0M418.5 208.4h0M423.3 213.3h0M436.9 192.6h0M421.3 200.8h0M423.2 209.6h0M430.4 231.6h0M410.8 223.6h0M423.5 191.9h0M427.2 217.7h0M442.5 218.2h0M439.6 216.3h0M424.8 197.2h0M426.0 211.6h0M435.5 236.1h0M416.4 204.0h0M420.8 218.6h0M414.1 207.1h0M421.3 197.9h0M419.6 209.2h0M435.2 222.2h0M427.1 226.8h0M417.8 204.1h0M427.3 205.9h0M447.2 193.3h0M421.9 187.4h0M407.3 227.0h0M432.4 230.0h0M436.5 227.8h0M422.5 207.7h0M421.8 230.9h0M427.1 226.0h0M425.5 208.3h0M435.5 208.9h0M426.1 207.7h0M435.8 212.0h0M429.9 234.2h0M409.5 206.7h0M412.0 202.3h0M433.6 220.9h0M433.4 210.6h0M428.6 187.4h0M417.6 202.6h0M417.4 205.1h0M416.5 208.2h0M424.0 217.4h0M439.1 220.5h0M440.0 205.4h0M417.1 217.7h0M429.0 202.0h0M414.4 229.8h0M447.7 221.8h0M433.1 206.6h0M429.8 201.8h0M431.8 237.0h0M423.9 225.2h0M426.2 201.2h0M413.7 195.5h0M434.6 205.7h0M434.4 224.9h0M432.9 203.2h0M428.9 208.5h0M428.6 205.4h0M425.7 221.1h0M403.8 238.6h0M431.3 194.7h0M425.9 209.0h0M419.2 212.6h0M422.4 206.0h0M409.3 203.5h0M437.0 219.2h0M420.0 216.9h0M434.7 218.7h0M425.2 232.4h0M422.7 209.3h0M425.8 219.7h0M428.5 206.6h0M439.9 206.5h0M435.7 213.5h0M419.2 213.1h0M421.4 195.1h0M425.8 232.1h0M436.7 210.8h0M415.7 201.9h0M408.4 190.9h0M443.1 206.2h0M425.7 221.2h0M414.2 230.0h0M436.1 223.4h0M416.0 211.5h0M427.8 220.3h0M412.4 198.0h0M429.2 213.5h0M435.4 221.0h0M426.4 204.8h0M427.7 210.1h0M430.6 212.4h0M433.1 212.0h0M422.8 233.0h0M425.7 199.1h0M440.6 224.6h0M427.8 196.1h0M418.8 206.8h0M440.1 197.7h0M421.1 213.4h0M417.7 209.4h0M417.3 222.1h0M429.0 211.8h0M441.1 235.4h0M425.7 217.8h0M423.3 210.5h0M416.5 221.0h0M427.5 219.9h0M435.0 225.3h0M423.4 233.4h0M437.3 225.0h0M440.2 224.7h0M446.3 240.0h0M437.8 233.2h0M453.2 223.9h0M446.2 242.2h0M432.2 223.5h0M427.5 226.6h0M431.5 229.9h0M431.4 242.4h0M429.8 229.8h0M441.8 239.2h0M443.4 233.6h0M447.1 238.6h0M442.0 225.7h0M433.1 231.1h0M441.8 230.3h0M430.6 224.3h0M437.9 234.4h0M428.4 235.6h0M446.7 238.3h0M413.6 222.8h0M443.5 238.7h0M447.0 229.0h0M436.2 233.9h0M439.2 236.1h0M439.1 232.5h0M449.2 234.8h0M451.8 237.8h0M438.2 229.4h0M452.2 236.0h0M430.0 234.4h0M444.2 223.3h0M438.9 240.3h0M424.9 231.1h0M439.7 234.4h0M432.8 225.0h0M445.0 232.5h0M430.1 226.6h0M419.9 230.7h0M424.3 231.9h0M435.3 238.5h0M439.8 233.5h0M443.7 222.5h0M431.9 224.9h0M444.9 232.6h0M431.6 232.4h0M437.7 223.6h0M446.3 234.0h0M435.6 232.1h0M421.2 223.5h0M443.9 233.3h0M433.2 244.3h0M433.7 231.0h0M445.4 246.5h0M431.0 231.6h0M444.2 230.3h0M437.4 235.5h0M461.3 237.6h0M421.0 226.5h0M442.8 220.8h0M439.7 235.0h0M448.1 232.2h0M431.4 236.9h0M431.2 230.8h0M450.4 234.2h0M435.1 225.3h0M439.6 233.0h0M437.3 229.9h0M442.0 229.1h0M421.8 238.0h0M432.5 229.7h0M435.1 236.6h0M435.6 240.1h0M446.4 237.4h0M440.7 236.8h0M441.5 236.4h0M435.0 236.9h0M447.5 238.8h0M430.8 232.9h0M436.1 232.5h0M424.6 225.1h0M428.4 226.6h0M445.9 231.1h0M436.4 232.9h0M418.2 233.5h0M438.4 226.9h0M436.1 228.1h0M428.6 223.5h0M440.3 232.7h0M433.0 236.6h0M437.8 230.3h0M445.1 236.4h0M435.6 217.9h0M447.1 234.4h0M433.9 233.7h0M435.9 228.0h0M451.6 227.1h0M439.8 235.5h0M433.7 230.2h0M433.0 241.2h0M440.1 229.5h0M424.3 226.9h0M443.8 231.9h0M436.9 232.5h0M428.6 218.6h0M426.3 236.4h0M443.8 237.9h0M426.1 227.1h0M457.1 236.4h0M426.6 231.6h0M438.4 234.5h0M414.8 222.3h0M436.7 230.9h0M431.8 232.2h0M442.2 231.1h0M439.4 230.8h0M434.8 228.7h0M457.1 236.4h0M446.2 227.4h0M432.0 224.8h0M439.5 234.9h0M409.6 227.6h0M431.8 229.9h0M454.3 216.7h0M434.4 222.5h0M437.5 234.5h0M423.6 237.4h0M441.9 240.6h0M438.3 231.2h0M437.5 230.0h0M446.0 232.4h0M448.7 245.8h0M443.6 235.5h0M422.8 222.0h0M438.8 238.1h0M437.8 237.0h0M429.9 217.9h0M423.3 223.8h0M431.3 236.0h0M432.5 235.8h0M438.2 225.2h0M430.1 229.7h0M436.6 237.0h0M438.8 234.6h0M435.9 225.5h0M440.5 232.0h0M430.2 233.7h0M421.6 229.9h0M438.2 226.8h0M440.6 246.8h0M460.6 241.0h0M420.0 217.8h0M432.6 228.7h0M433.4 215.0h0M440.2 229.1h0M428.8 229.1h0M433.6 244.9h0M445.2 235.9h0M429.2 231.7h0M434.7 235.7h0M450.9 237.8h0M445.6 231.4h0M419.7 234.3h0M454.5 240.8h0M427.9 238.1h0M437.6 238.3h0M434.5 225.9h0M433.3 228.3h0M431.1 227.9h0M442.9 231.8h0M428.9 232.1h0M425.6 227.4h0M432.9 226.2h0M434.2 239.7h0M416.2 233.3h0M443.8 234.6h0M432.0 224.4h0M444.3 231.0h0M450.5 232.2h0M441.1 228.3h0M443.2 228.6h0M432.2 232.0h0M430.1 231.7h0M418.9 228.8h0M436.5 226.7h0M431.3 232.0h0M411.9 235.5h0M438.8 234.1h0M451.1 234.5h0M435.7 247.5h0M446.7 237.2h0M435.3 228.1h0M426.0 233.7h0M438.5 228.6h0M434.2 229.2h0M424.8 234.0h0M447.1 232.0h0M440.8 224.9h0M429.6 233.9h0M437.1 237.1h0M437.7 224.5h0M442.9 232.1h0M449.3 242.5h0M430.7 231.6h0M424.5 233.0h0M449.4 235.6h0M459.5 235.9h0M432.2 227.5h0M429.0 227.9h0M425.6 229.6h0M441.2 218.1h0M441.0 222.6h0M434.4 231.5h0M443.2 238.2h0M430.5 226.4h0M431.4 230.5h0M427.3 223.0h0M451.6 229.1h0M446.2 236.2h0M448.7 235.7h0M430.0 227.1h0M451.1 229.4h0M439.3 233.5h0M443.4 234.1h0M442.5 232.7h0M434.1 230.7h0M435.9 229.9h0M422.1 230.5h0M431.2 232.7h0M431.8 240.8h0M424.1 236.2h0M437.8 232.3h0M450.5 229.6h0M431.4 234.0h0M429.2 226.3h0M426.6 237.6h0M441.1 225.0h0M453.4 235.1h0M435.8 240.6h0M437.4 232.4h0M424.5 232.3h0M438.8 236.6h0M443.4 231.5h0M431.9 235.3h0M438.2 227.6h0M431.5 228.5h0M440.0 245.3h0M449.3 235.1h0M439.7 235.2h0M443.3 228.1h0M435.2 239.2h0M432.7 225.5h0M431.2 226.0h0M434.3 227.8h0M439.6 227.6h0M439.3 224.7h0M446.6 233.6h0M444.5 231.7h0M450.5 235.9h0M445.6 229.3h0M436.3 226.7h0M438.4 230.7h0M422.4 227.3h0M453.6 232.1h0M431.8 230.2h0M433.7 229.6h0M451.6 242.8h0M426.3 232.2h0M430.6 232.8h0M434.8 237.1h0M432.9 227.1h0M435.6 239.3h0M438.9 233.7h0M443.6 231.4h0M435.4 233.8h0M445.1 228.5h0M431.1 240.2h0M442.1 235.1h0M450.2 227.8h0M423.4 221.2h0M435.9 228.8h0M439.6 229.7h0M419.3 228.9h0M408.1 227.7h0M438.2 238.2h0M430.4 233.0h0M445.7 229.5h0M435.1 237.8h0M434.9 238.3h0M437.2 221.0h0M439.0 229.4h0M429.5 227.6h0M433.8 226.5h0M442.4 239.7h0M434.0 233.7h0M441.5 233.8h0M439.1 225.7h0M437.5 220.4h0M430.0 224.4h0M446.1 230.2h0M431.2 224.9h0M444.0 222.1h0M425.7 219.5h0M440.3 230.5h0M440.0 234.8h0M432.3 227.3h0M423.0 226.0h0M435.8 231.1h0M438.2 231.9h0M430.4 236.6h0M432.4 225.8h0M444.9 235.6h0M438.3 224.8h0M431.4 236.8h0M443.5 238.2h0M435.3 237.0h0M430.7 230.5h0M445.1 233.8h0M436.0 224.2h0M444.9 236.2h0M428.8 237.0h0M444.7 218.5h0M445.3 244.6h0M442.6 229.0h0M440.8 235.9h0M442.5 229.0h0M445.1 233.6h0M436.5 236.4h0M441.4 232.3h0M432.0 240.6h0M454.3 237.8h0M428.2 232.8h0M445.5 231.2h0M429.2 226.5h0M442.6 231.5h0M448.0 238.4h0M424.5 237.4h0M452.8 237.2h0M430.7 222.5h0M430.8 226.4h0M442.3 225.8h0M426.5 231.3h0M445.8 234.9h0M443.3 227.8h0M413.4 222.2h0M422.8 232.7h0M429.9 232.3h0M441.8 230.2h0M426.3 232.8h0M430.0 231.9h0M443.5 230.9h0M427.9 230.0h0M436.6 242.5h0M426.7 222.3h0M444.3 240.2h0M450.0 235.3h0M425.8 231.9h0M415.3 227.2h0M421.6 228.5h0M445.9 233.9h0M431.9 230.3h0M445.2 238.5h0M424.3 230.4h0M431.1 221.6h0M435.1 234.0h0M444.3 241.8h0M433.5 235.9h0M427.4 230.0h0M442.7 223.3h0M436.7 235.2h0M440.3 236.8h0M432.9 239.0h0M433.0 225.2h0M437.5 230.8h0M415.8 222.0h0M439.8 231.3h0M450.8 226.5h0M442.7 231.1h0M429.2 226.9h0M423.9 225.5h0M446.0 244.0h0M433.5 227.1h0M435.8 229.0h0M437.1 238.4h0M432.6 227.2h0M435.3 238.2h0M449.6 238.6h0M433.6 227.2h0M455.3 233.7h0M440.2 233.7h0M440.1 231.8h0M445.3 235.1h0M446.2 231.5h0M445.4 238.0h0M443.1 230.0h0M432.6 227.7h0M451.8 235.6h0M437.8 224.9h0M430.1 227.8h0M445.4 233.4h0M445.2 226.2h0M439.8 222.4h0M435.6 238.5h0M442.7 232.1h0M454.4 236.7h0M437.4 228.3h0M423.1 236.4h0M432.3 229.1h0M444.6 224.0h0M434.4 233.8h0M432.7 224.8h0M442.8 236.2h0M443.8 233.3h0M433.0 237.9h0M438.7 235.1h0M432.0 228.0h0M429.2 237.5h0M429.3 245.1h0M425.8 225.1h0M438.1 238.5h0M435.6 233.6h0M431.7 232.8h0M440.0 225.7h0M439.7 227.2h0M427.8 237.1h0M431.3 230.9h0M430.7 226.8h0M445.8 245.2h0M419.7 233.4h0M434.8 235.5h0M445.9 229.2h0M427.1 228.7h0M425.6 236.8h0M431.4 218.4h0M423.2 218.3h0M448.4 231.0h0M432.6 236.2h0M426.0 229.7h0M429.7 232.3h0M437.3 233.2h0M433.0 231.2h0M426.0 235.4h0M434.3 252.0h0M427.2 231.5h0M430.2 237.4h0M438.2 229.8h0M426.7 237.9h0M436.4 232.3h0M429.8 230.7h0M460.4 236.9h0M433.4 226.4h0M442.8 230.7h0M429.8 224.0h0M428.0 221.5h0M431.4 240.9h0M431.8 232.9h0M431.0 235.8h0M434.5 234.2h0M446.0 226.6h0M452.7 237.3h0M455.2 232.7h0M437.5 227.5h0M452.1 236.3h0M450.5 237.4h0M429.8 230.2h0M430.9 230.8h0M435.1 229.7h0M452.9 237.4h0M432.0 237.7h0M429.5 242.4h0M445.8 241.4h0M434.1 229.8h0M433.3 233.1h0M439.0 238.3h0M435.1 237.3h0M411.5 230.9h0M421.9 234.4h0M440.8 235.6h0M422.8 225.8h0M448.8 226.8h0M432.7 236.9h0M436.3 235.4h0M439.1 227.7h0M419.1 226.3h0M429.5 227.2h0M426.5 226.0h0M434.3 241.3h0M449.4 233.9h0M428.9 243.6h0M436.0 230.9h0M418.9 221.9h0M431.6 231.0h0M428.8 243.4h0M433.8 230.0h0M439.6 235.8h0M451.6 223.4h0M434.0 234.4h0M441.1 225.2h0M421.5 226.2h0M438.3 240.3h0M435.9 230.1h0M418.3 230.1h0M438.6 231.1h0M429.9 227.7h0M443.8 235.8h0M437.5 238.5h0M435.8 232.1h0M450.6 236.2h0M435.5 225.8h0M435.4 221.5h0M435.4 232.1h0M436.7 230.7h0M427.2 230.3h0M438.6 238.6h0M437.7 237.0h0M432.2 225.2h0M421.0 228.2h0M445.7 236.4h0M447.7 233.9h0M447.5 222.1h0M445.9 230.1h0M452.0 236.2h0M437.5 236.5h0M451.1 234.6h0M437.1 223.7h0M426.0 236.3h0M436.4 231.4h0M434.2 228.3h0M439.8 235.9h0M451.4 240.6h0M440.2 232.4h0M446.8 231.6h0M456.5 234.8h0M451.2 241.1h0M437.5 231.2h0M429.6 232.3h0M458.9 227.7h0M427.8 225.9h0M420.9 224.3h0M419.5 223.3h0M450.5 224.7h0M424.1 225.0h0M431.6 239.3h0M434.9 232.9h0M449.3 232.7h0M425.5 223.8h0M439.4 224.6h0M439.0 233.7h0M450.7 231.6h0M435.2 228.8h0M437.6 237.2h0M432.5 235.8h0M445.4 238.1h0M448.0 225.6h0M434.2 227.5h0M439.6 239.5h0M425.4 221.0h0M435.2 238.5h0M428.8 228.9h0M431.4 235.5h0M446.6 232.4h0M458.2 231.7h0M440.4 226.9h0M433.0 239.0h0M434.4 229.0h0M445.7 227.3h0M433.8 235.5h0M448.4 226.3h0M451.0 235.3h0M441.9 235.3h0M432.9 232.1h0M443.0 236.1h0M430.8 229.2h0M425.3 213.4h0M446.8 236.3h0M454.3 237.0h0M449.2 234.5h0M432.8 233.2h0M405.1 225.8h0M429.9 230.6h0M439.9 241.5h0M429.5 242.2h0M448.9 237.2h0M430.1 227.4h0M443.6 226.2h0M437.9 235.4h0M442.2 222.9h0M421.2 236.5h0M434.2 236.5h0M440.1 229.6h0M432.0 234.1h0M426.5 223.1h0M434.3 224.3h0M426.8 232.9h0M441.6 227.2h0M445.1 235.7h0M439.9 231.9h0M437.4 241.0h0M434.5 232.7h0M435.7 240.6h0M417.6 230.5h0M438.7 227.7h0M446.7 228.0h0M435.6 218.8h0M442.9 233.8h0M427.9 212.3h0M438.5 227.3h0M439.1 218.1h0M441.9 229.6h0M436.7 235.7h0M458.3 233.4h0M408.8 219.2h0M424.3 224.8h0M430.1 231.0h0M440.1 223.9h0M430.6 230.2h0M430.7 228.9h0M424.1 221.3h0M426.0 222.2h0M426.6 235.4h0M449.1 239.8h0M428.5 231.4h0M463.1 235.1h0M446.9 232.8h0M436.3 223.7h0M447.1 224.5h0M446.7 231.9h0M426.8 224.7h0M424.1 220.0h0M452.1 229.3h0M427.3 230.6h0M445.3 231.5h0M445.6 225.0h0M418.0 237.4h0M445.5 224.1h0M441.4 234.2h0M450.1 229.8h0M435.2 234.9h0M440.7 233.1h0M438.4 237.9h0M434.7 230.3h0M452.9 232.2h0M443.0 242.0h0M450.7 235.6h0M440.3 231.3h0M447.5 234.0h0M429.3 224.7h0M430.4 231.4h0M442.9 243.3h0M432.0 238.7h0M432.6 231.8h0M437.0 235.3h0M421.0 230.7h0M439.3 228.5h0M438.5 240.8h0M433.3 231.8h0M429.6 218.4h0M451.5 239.8h0M442.1 227.8h0M426.8 230.0h0M430.2 233.3h0M422.5 225.0h0M420.4 227.7h0M417.0 232.9h0M431.5 221.6h0M443.8 222.6h0M443.6 232.9h0M436.0 229.8h0M442.3 245.4h0M440.1 238.3h0M425.3 230.8h0M429.2 228.3h0M442.6 221.9h0M445.2 226.3h0M447.1 232.8h0M423.9 228.3h0M419.8 223.3h0M454.8 237.9h0M433.0 234.2h0M447.0 230.5h0M437.8 229.2h0M425.9 222.1h0M447.4 241.9h0M444.6 221.9h0M449.2 238.9h0M441.0 237.2h0M431.4 217.6h0M437.4 228.6h0M444.1 240.0h0M432.2 224.5h0M439.6 228.8h0M447.6 234.5h0M423.4 234.7h0M432.5 233.5h0M439.7 228.2h0M448.1 226.8h0M438.7 223.0h0M429.9 231.0h0M445.9 221.4h0M432.5 226.4h0M439.8 235.7h0M442.4 225.9h0M435.8 229.0h0M445.0 233.2h0M446.5 238.8h0M427.6 220.3h0M441.7 233.2h0M435.7 230.5h0M434.2 231.0h0M440.6 223.2h0M446.9 237.5h0M437.3 226.4h0M434.4 229.7h0M427.2 223.1h0M432.3 241.2h0M437.1 231.6h0M424.8 239.9h0M435.5 227.1h0M442.0 231.3h0M447.3 243.3h0M435.3 228.6h0M454.6 239.6h0M444.3 240.5h0M445.8 232.0h0M443.9 229.6h0M438.7 230.4h0M430.0 235.0h0M436.1 233.5h0M435.8 238.5h0M439.4 230.5h0M452.3 233.5h0M457.6 231.4h0M443.0 231.5h0M447.7 231.3h0M431.6 228.9h0M421.3 220.7h0M438.0 227.4h0M440.5 230.6h0M448.7 240.8h0M460.2 236.9h0M441.1 229.3h0M447.8 240.9h0M445.5 242.0h0M440.2 230.6h0M445.7 232.6h0M444.4 223.1h0M454.5 227.9h0M428.4 228.2h0M414.5 232.2h0M435.9 241.8h0M444.8 238.7h0M448.2 232.1h0M431.9 232.7h0M445.4 225.4h0M432.1 229.3h0M446.1 227.4h0M431.2 229.5h0M469.6 249.3h0M443.6 241.7h0M447.3 243.2h0M408.0 220.7h0M426.1 234.1h0M464.1 247.1h0M459.8 239.3h0M446.0 248.8h0M435.3 235.1h0M434.1 241.2h0M422.4 231.5h0M450.6 239.0h0M426.3 248.2h0M470.1 251.7h0M429.7 246.7h0M434.8 231.7h0M435.7 231.4h0M458.9 239.9h0M424.8 218.6h0M413.3 218.4h0M435.0 242.9h0M439.0 222.1h0M451.5 241.9h0M430.5 240.8h0M428.1 232.4h0M445.0 242.6h0M448.5 242.6h0M459.7 249.4h0M448.6 223.4h0M400.0 230.0h0M438.9 238.4h0M443.0 232.4h0M440.0 233.3h0M452.1 240.3h0M433.2 238.4h0M467.1 238.4h0M439.3 224.7h0M473.3 240.1h0M415.9 232.3h0M397.0 208.0h0M421.4 228.2h0M436.1 233.5h0M440.5 231.8h0M448.9 233.7h0M428.9 240.3h0M446.1 239.6h0M446.7 230.8h0M468.3 241.0h0M450.5 230.8h0M460.7 231.2h0M448.1 253.5h0M419.1 227.9h0M462.6 249.3h0M425.1 238.4h0M456.8 244.8h0M441.9 243.0h0M454.1 256.9h0M469.0 251.7h0M450.6 247.8h0M431.2 233.7h0M434.7 234.8h0M448.1 252.0h0M431.3 236.9h0M432.9 235.1h0M445.3 222.3h0M437.3 227.1h0M454.2 236.8h0M432.6 232.4h0M442.1 240.3h0M426.4 231.0h0M407.4 219.5h0M456.3 246.6h0M459.9 248.4h0M428.6 238.4h0M463.4 231.8h0M444.4 246.8h0M412.0 239.7h0M461.4 255.8h0M403.2 215.2h0M443.5 230.0h0M456.2 243.1h0M415.2 236.0h0M472.8 253.7h0M436.5 217.2h0M477.5 225.3h0M437.3 236.5h0M446.0 225.1h0M450.1 240.7h0M461.5 248.5h0M453.6 249.7h0M451.2 227.4h0M436.8 235.2h0M452.6 236.0h0M459.4 251.9h0M459.2 248.0h0M449.7 249.7h0M443.9 227.0h0M460.4 235.6h0M425.2 222.6h0M443.8 233.3h0M404.3 212.8h0M433.2 221.6h0M441.6 231.3h0M420.0 212.3h0M416.7 233.2h0M463.3 242.2h0M457.2 232.6h0M464.3 248.3h0M471.8 236.4h0M454.8 245.5h0M460.3 241.9h0M443.5 251.9h0M467.1 252.7h0M415.4 217.3h0M437.0 241.7h0M463.6 247.5h0M458.1 249.5h0M454.9 215.9h0M438.4 230.8h0M461.7 241.7h0M435.9 244.5h0M424.6 219.0h0M465.6 250.3h0M436.5 232.3h0M451.7 229.0h0M413.0 217.9h0M390.6 217.0h0M453.1 239.8h0M477.2 251.2h0M398.3 215.2h0M432.9 232.8h0M453.6 244.4h0M447.5 238.2h0M449.6 227.1h0M443.6 235.1h0M424.0 228.6h0M466.0 238.8h0M445.7 251.3h0M399.5 211.7h0M449.2 221.9h0M454.9 239.8h0M474.4 238.8h0M443.2 232.9h0M463.4 250.2h0M458.1 236.9h0M431.2 233.1h0M449.0 232.3h0M403.0 231.7h0M414.1 218.1h0M441.0 252.5h0M427.0 221.3h0M465.9 251.7h0M448.2 235.0h0M435.5 235.8h0M453.3 239.8h0M440.0 232.6h0M451.4 233.8h0M406.7 220.8h0M449.3 243.1h0M437.2 234.4h0M452.8 243.7h0M434.8 239.2h0M389.6 211.0h0M393.7 208.1h0M433.8 223.6h0M420.1 221.0h0M462.2 242.6h0M418.6 233.9h0M449.4 247.4h0M442.5 230.1h0M472.4 255.4h0M448.2 231.3h0M444.6 244.5h0M428.4 215.9h0M447.6 247.2h0M457.3 241.8h0M440.2 237.4h0M457.9 242.7h0M425.9 219.7h0M438.4 235.6h0M451.4 240.7h0M434.5 239.2h0M465.8 252.7h0M452.0 251.5h0M429.1 235.0h0M428.4 220.1h0M440.5 242.2h0M432.6 221.6h0M437.6 228.1h0M420.5 226.8h0M461.5 238.2h0M447.9 235.7h0M445.9 246.8h0M461.6 240.2h0M400.2 209.1h0M448.2 228.1h0M429.0 254.6h0M458.3 240.1h0M453.2 241.9h0M453.5 242.1h0M465.5 256.9h0M407.7 215.5h0M424.9 220.6h0M468.7 245.5h0M474.7 244.9h0M431.6 219.2h0M471.8 234.1h0M460.5 245.4h0M417.2 221.2h0M426.5 241.1h0M451.6 236.4h0M443.0 233.7h0M460.9 230.7h0M458.6 250.8h0M432.8 225.0h0M422.4 217.5h0M429.8 233.9h0M471.0 250.9h0M426.2 231.1h0M435.3 246.6h0M390.7 219.5h0M468.5 249.8h0M419.8 221.3h0M461.3 244.6h0M467.3 252.3h0M417.3 222.9h0M424.2 232.0h0M454.3 250.5h0M475.3 239.2h0M432.1 233.2h0M420.6 230.7h0M450.9 238.2h0M470.6 244.2h0M416.0 237.2h0M427.6 228.9h0M466.6 247.1h0M448.9 235.0h0M427.6 227.1h0M444.1 234.8h0M453.0 240.6h0M468.5 235.9h0M454.3 228.3h0M444.8 232.4h0M410.6 218.8h0M455.7 237.8h0M451.0 246.6h0M447.3 238.5h0M441.1 242.1h0M444.8 239.6h0M469.5 230.0h0M434.1 236.7h0M414.2 235.7h0M460.6 246.3h0M435.7 232.9h0M441.2 226.1h0M450.8 242.5h0M441.3 227.2h0M447.3 223.9h0M419.9 228.0h0M466.3 254.8h0M417.2 222.3h0M469.9 247.8h0M419.9 220.3h0M423.5 241.4h0M433.3 235.5h0M461.6 242.5h0M447.9 236.5h0M433.3 233.4h0M414.4 232.8h0M464.7 242.2h0M446.5 230.8h0M450.3 242.8h0M439.6 234.1h0M437.7 221.7h0M456.6 242.0h0M449.9 237.3h0M467.1 244.5h0M446.4 239.6h0M414.0 225.2h0M452.8 255.6h0M442.0 241.6h0M435.6 240.5h0M382.5 204.7h0M425.7 228.7h0M448.5 233.6h0M432.7 226.0h0M445.3 244.9h0M447.8 257.5h0M440.4 241.5h0M422.9 230.8h0M449.8 244.5h0M447.6 245.7h0M438.3 233.9h0M405.3 218.7h0M416.2 229.6h0M453.6 255.4h0M437.5 234.8h0M412.5 208.3h0M436.7 240.5h0M443.1 238.5h0M458.2 237.1h0M454.2 234.9h0M460.7 218.0h0M430.0 224.1h0M410.0 219.5h0M428.8 234.4h0M470.3 249.0h0M415.7 215.6h0M461.9 242.0h0M412.6 222.9h0M414.7 228.6h0M443.8 239.6h0M423.5 234.9h0M444.0 220.8h0M418.9 227.2h0M444.2 239.8h0M462.6 237.9h0M412.6 224.3h0M455.1 238.0h0M453.9 231.5h0M462.4 234.8h0M395.2 219.1h0M458.4 248.9h0M415.8 233.4h0M434.9 239.4h0M431.9 235.8h0M425.5 219.6h0M425.7 227.1h0M428.6 227.8h0M439.1 252.2h0M459.6 237.2h0M440.5 224.7h0M461.2 236.8h0M441.9 245.0h0M467.2 242.7h0M413.4 229.3h0M446.7 234.3h0M437.9 243.4h0M449.9 227.0h0M450.6 236.6h0M456.3 248.2h0M445.8 236.2h0M455.4 235.0h0M431.8 243.9h0M443.8 225.3h0M432.4 224.7h0M459.8 254.4h0M452.1 255.7h0M467.6 248.4h0M436.9 223.4h0M442.8 225.9h0M463.8 245.8h0M408.9 232.4h0M453.8 249.7h0M445.8 246.5h0M437.0 229.9h0M434.1 239.1h0M422.6 234.2h0M428.9 237.6h0M426.8 229.3h0M420.2 222.8h0M430.8 240.8h0M419.4 239.3h0M457.0 241.6h0M461.5 248.6h0M435.4 242.8h0M430.3 244.1h0M449.0 254.8h0M439.6 235.7h0M393.4 203.7h0M402.7 199.5h0M421.5 223.4h0M450.4 243.5h0M462.5 233.3h0M433.1 231.2h0M441.9 238.0h0M436.4 233.8h0M451.0 243.1h0M397.8 213.7h0M461.5 250.3h0M432.6 241.2h0M453.5 238.2h0M437.3 246.0h0M449.4 246.3h0M453.0 238.5h0M457.9 243.7h0M424.9 221.9h0M452.3 247.2h0M428.9 231.3h0M430.0 247.8h0M466.6 226.1h0M437.6 224.1h0M450.1 236.0h0M447.2 243.4h0M445.7 235.2h0M420.5 220.4h0M450.8 244.3h0M447.5 235.5h0M418.9 233.4h0M460.5 253.5h0M439.3 222.1h0M439.0 228.9h0M475.4 255.9h0M440.6 234.4h0M461.2 239.0h0M443.3 242.3h0M424.4 229.1h0M436.9 238.1h0M431.1 239.1h0M439.5 232.2h0M451.5 242.6h0M407.3 222.7h0M455.5 229.3h0M466.1 233.9h0M477.7 243.6h0M423.7 235.3h0M449.1 241.0h0M441.8 231.8h0M439.3 226.6h0M442.3 222.4h0M444.0 240.0h0M466.3 247.7h0M457.2 246.9h0M445.8 246.1h0M466.1 250.2h0M392.4 224.9h0M445.1 234.6h0M445.3 250.8h0M447.9 243.0h0M473.1 246.6h0M446.0 239.9h0M443.7 226.8h0M458.9 239.4h0M446.7 235.2h0M437.7 236.0h0M453.4 242.4h0M448.6 255.4h0M426.0 227.4h0M460.0 250.5h0M439.7 231.2h0M448.8 230.4h0M390.2 211.1h0M443.5 235.2h0M402.9 224.0h0M456.2 254.2h0M429.2 226.7h0M431.0 240.5h0M443.0 228.4h0M411.1 236.8h0M448.5 227.2h0M420.5 222.2h0M438.3 236.8h0M461.6 242.5h0M472.5 241.2h0M469.6 255.2h0M442.0 228.0h0M421.1 234.7h0M457.6 231.5h0M423.1 234.6h0M468.7 253.2h0M437.2 242.9h0M391.2 211.0h0M444.8 237.2h0M461.0 236.5h0M465.4 245.0h0M452.0 239.2h0M410.4 219.7h0M397.1 213.1h0M429.9 210.2h0M435.6 233.2h0M422.3 229.4h0M423.2 237.9h0M456.3 249.5h0M474.4 246.4h0M410.3 219.2h0M425.0 220.5h0M442.4 233.4h0M441.2 230.7h0M392.7 222.4h0M455.4 247.5h0M451.6 237.6h0M405.3 217.8h0M447.5 243.1h0M422.3 220.4h0M451.8 245.1h0M446.3 245.5h0M445.9 233.2h0M451.9 240.8h0M434.3 225.5h0M441.4 249.9h0M393.6 217.5h0M454.3 251.2h0M440.2 233.6h0M445.6 237.2h0M391.7 224.5h0M426.0 235.5h0M420.6 226.3h0M440.9 239.3h0M465.4 256.4h0M432.5 239.5h0M450.1 233.4h0M446.8 241.0h0M427.6 236.0h0M432.0 234.3h0M439.9 236.4h0M437.7 245.4h0M465.6 244.3h0M405.4 216.7h0M455.5 235.2h0M449.9 241.9h0M468.1 255.1h0M435.6 232.8h0M441.6 220.5h0M443.6 241.1h0M429.6 236.1h0M433.7 225.7h0M430.3 229.3h0M429.5 231.1h0M424.8 222.2h0M429.8 233.2h0M426.9 230.3h0M431.8 222.2h0M424.8 205.6h0M464.7 239.5h0M444.5 249.5h0M437.9 244.7h0M422.1 224.6h0M459.0 235.6h0M433.3 244.6h0M438.3 240.7h0M440.5 246.3h0M434.5 248.6h0M461.0 249.1h0M426.6 230.1h0M432.0 225.5h0M445.2 239.3h0M441.8 228.2h0M450.3 249.4h0M461.8 244.0h0M463.0 243.5h0M435.8 237.4h0M442.0 230.0h0M432.6 239.5h0M468.5 242.0h0M434.1 243.8h0M424.0 232.8h0M428.0 214.6h0M462.2 234.4h0M424.7 230.5h0M390.3 212.0h0M450.7 257.3h0M452.4 234.0h0M458.9 242.7h0M462.7 246.2h0M452.4 243.4h0M445.2 252.5h0M444.3 236.9h0M432.4 218.8h0M395.7 228.2h0M402.5 221.7h0M455.3 230.3h0M461.2 239.9h0M444.7 235.3h0M427.4 230.9h0M453.2 248.6h0M443.3 235.2h0M444.9 233.6h0M439.0 227.0h0M420.3 225.1h0M422.8 228.2h0M449.3 243.9h0M482.4 237.3h0M481.1 247.4h0M438.0 238.7h0M446.7 253.0h0M438.5 242.6h0M453.6 222.8h0M457.7 227.6h0M459.4 249.5h0M420.3 226.8h0M478.3 254.0h0M434.4 249.6h0M427.1 220.7h0M425.1 229.6h0M444.4 232.7h0M435.4 215.9h0M470.6 240.0h0M384.9 222.8h0M449.7 240.9h0M409.0 228.0h0M472.4 255.7h0M457.7 251.0h0M426.7 232.1h0M467.1 246.7h0M450.7 234.5h0M434.9 235.7h0M473.2 249.5h0M413.2 232.5h0M438.5 232.3h0M445.1 230.4h0M451.8 225.4h0M462.9 252.7h0M432.2 253.0h0M421.3 226.6h0M422.4 208.8h0M437.3 242.2h0M454.7 236.9h0M460.2 250.9h0M454.4 245.4h0M413.4 229.3h0M454.2 243.3h0M430.9 229.1h0M465.7 256.7h0M438.1 232.3h0M433.8 242.6h0M434.1 227.8h0M462.3 247.3h0M443.5 231.0h0M468.7 243.3h0M422.6 220.6h0M439.5 243.4h0M463.1 249.2h0M459.4 244.0h0M458.7 236.0h0M448.5 239.1h0M411.4 225.6h0M411.3 227.8h0M461.8 239.8h0M429.2 234.8h0M449.9 224.3h0M456.0 243.5h0M408.7 213.3h0M403.4 224.5h0M455.4 239.2h0M424.3 247.6h0M435.9 235.0h0M465.0 249.9h0M445.3 219.0h0M446.6 227.0h0M445.9 246.8h0M411.0 216.3h0M453.7 235.9h0M430.5 236.2h0M468.6 242.0h0M423.3 231.4h0M427.4 235.2h0M415.8 231.7h0M441.0 229.7h0M432.5 221.1h0M446.7 243.2h0M429.1 232.3h0M446.2 244.0h0M455.8 232.7h0M448.6 245.7h0M451.2 239.3h0M448.3 230.3h0M428.2 226.1h0M400.5 224.8h0M449.6 241.4h0M414.6 224.9h0M449.6 240.7h0M443.3 233.8h0M438.1 245.0h0M443.1 237.2h0M459.2 232.3h0M428.3 217.9h0M451.1 236.1h0M465.8 244.4h0M456.4 249.4h0M473.5 229.2h0M435.0 239.7h0M437.6 244.4h0M481.9 251.1h0M449.0 250.4h0M450.4 234.7h0M463.5 245.1h0M427.3 225.4h0M435.2 246.9h0M448.1 249.1h0M438.3 244.1h0M476.8 243.1h0M451.4 241.8h0M464.3 237.3h0M426.1 230.4h0M456.8 206.5h0M468.6 203.1h0M450.9 194.3h0M454.6 198.7h0M451.4 192.8h0M439.5 190.9h0M473.1 201.1h0M459.2 190.1h0M470.2 201.3h0M461.9 202.1h0M436.0 193.8h0M444.6 194.0h0M459.1 204.6h0M463.8 196.0h0M459.1 204.9h0M450.8 201.8h0M462.5 201.0h0M437.7 200.9h0M450.1 192.2h0M437.4 194.1h0M464.6 199.8h0M457.8 194.5h0M461.3 197.9h0M448.2 198.0h0M419.9 189.9h0M441.3 197.2h0M454.9 194.3h0M452.8 196.7h0M463.6 199.7h0M466.9 197.8h0M445.1 194.9h0M464.8 189.4h0M432.1 185.1h0M461.0 196.9h0M426.2 187.6h0M457.4 201.9h0M424.4 186.1h0M455.8 206.9h0M474.0 195.5h0M447.4 205.2h0M462.1 194.8h0M467.5 195.4h0M419.4 183.6h0M428.8 187.0h0M452.7 195.5h0M439.0 190.7h0M446.3 197.6h0M476.9 198.5h0M458.5 205.2h0M443.3 195.7h0M459.0 198.9h0M455.5 202.3h0M450.3 195.9h0M471.1 209.9h0M429.9 184.2h0M470.5 208.6h0M447.6 193.2h0M467.8 205.3h0M451.2 194.3h0M442.8 202.9h0M443.3 196.4h0M454.6 201.6h0M458.3 193.2h0M472.2 204.0h0M449.8 204.2h0M436.7 193.4h0M455.6 190.3h0M457.3 207.3h0M431.6 188.4h0M451.5 200.7h0M469.9 197.8h0M447.5 191.9h0M431.7 192.6h0M465.7 187.1h0M474.3 198.1h0M450.4 194.2h0M455.2 195.7h0M469.6 193.4h0M457.9 204.3h0M444.1 193.4h0M448.5 194.9h0M454.2 187.5h0M452.8 196.5h0M466.7 204.3h0M438.4 197.2h0M456.9 201.2h0M450.9 195.9h0M426.6 188.1h0M461.8 200.4h0M453.6 200.5h0M436.6 191.0h0M430.3 189.2h0M464.2 202.1h0M474.5 201.7h0M453.5 198.3h0M449.7 196.6h0M463.2 195.0h0M442.2 201.5h0M445.1 198.1h0M466.1 195.9h0M439.4 188.0h0M468.0 198.6h0M457.3 195.0h0M470.8 196.8h0M428.7 191.0h0M469.7 199.9h0M452.8 191.8h0M458.7 206.3h0M442.8 192.0h0M439.2 194.4h0M469.3 194.5h0M460.4 193.2h0M461.2 193.9h0M460.2 203.6h0M459.6 202.3h0M432.9 189.7h0M449.3 194.1h0M448.0 196.9h0M479.7 199.9h0M470.3 200.4h0M440.2 197.9h0M435.0 186.9h0M461.2 202.3h0M460.4 198.3h0M470.3 202.6h0M438.3 191.7h0M473.1 206.8h0M454.3 201.5h0M468.7 204.0h0M458.8 189.9h0M447.4 195.7h0M441.2 199.3h0M471.8 196.9h0M413.8 177.5h0M467.2 199.6h0M460.7 203.0h0M445.8 188.0h0M462.4 201.1h0M451.7 194.8h0M436.3 191.7h0M448.6 197.5h0M460.6 197.9h0M454.2 194.1h0M442.8 194.6h0M459.5 206.4h0M461.5 202.2h0M467.5 204.4h0M456.8 193.0h0M472.7 199.7h0M445.3 187.7h0M445.8 199.4h0M432.9 196.1h0M451.1 198.4h0M452.2 200.5h0M452.7 194.5h0M436.5 190.1h0M463.8 206.0h0M431.1 188.4h0M438.8 197.9h0M411.9 193.5h0M467.2 194.9h0M463.7 195.3h0M447.4 203.9h0M455.1 202.5h0M434.1 199.4h0M435.9 200.6h0M440.0 191.6h0M453.5 207.4h0M445.2 201.8h0M453.0 202.2h0M437.9 194.2h0M435.2 190.0h0M458.6 194.6h0M457.8 190.9h0M458.9 194.3h0M445.0 190.7h0M455.3 198.6h0M433.0 187.6h0M440.4 184.2h0M456.1 198.7h0M442.7 183.4h0M436.8 190.5h0M439.1 196.4h0M475.7 195.5h0M448.3 189.3h0M456.2 197.5h0M448.3 202.4h0M451.6 194.2h0M465.6 201.8h0M467.0 191.9h0M460.0 191.1h0M451.7 200.0h0M431.8 194.9h0M459.0 201.7h0M480.6 205.5h0M459.0 200.9h0M481.4 195.9h0M463.5 194.3h0M465.2 198.3h0M445.3 199.7h0M450.8 197.3h0M459.0 198.8h0M468.9 195.6h0M439.4 193.6h0M433.8 193.4h0M450.5 199.2h0M451.5 195.8h0M456.0 208.4h0M476.4 197.6h0M444.3 199.1h0M478.6 197.7h0M461.8 192.9h0M452.1 200.4h0M431.6 188.8h0M473.0 198.8h0M475.6 203.7h0M455.4 211.0h0M460.1 196.0h0M447.7 193.8h0M426.1 195.8h0M443.1 191.4h0M430.6 203.1h0M436.6 185.8h0M441.9 192.8h0M443.6 199.5h0M459.3 197.8h0M469.9 199.4h0M451.5 189.4h0M462.8 199.3h0M446.6 199.8h0M448.7 194.5h0M458.0 193.4h0M442.3 201.0h0M454.2 201.9h0M445.1 197.9h0M441.3 192.6h0M444.7 190.3h0M379.7 229.8h0M404.2 217.6h0M382.8 221.1h0M395.7 218.6h0M385.9 224.2h0M383.7 227.1h0M373.7 225.3h0M395.6 217.6h0M380.1 217.9h0M414.1 213.2h0M390.5 219.8h0M412.8 216.6h0M398.1 218.8h0M401.4 215.2h0M405.1 216.4h0M392.4 223.6h0M401.7 217.4h0M402.2 216.9h0M398.7 217.4h0M396.0 217.7h0M387.0 223.6h0M396.5 222.5h0M399.9 216.9h0M407.5 215.4h0M386.4 224.0h0M389.7 225.0h0M473.9 199.8h0M465.0 201.9h0M477.9 201.8h0M473.5 210.1h0M467.1 183.1h0M475.4 180.0h0M480.9 176.6h0M468.0 199.2h0M469.5 179.2h0M466.2 180.4h0M467.8 196.8h0M475.2 192.1h0M471.1 195.5h0M462.4 170.7h0M464.8 180.9h0M477.7 194.3h0M470.1 194.1h0M474.5 198.0h0M457.4 169.8h0M408.9 231.8h0M442.9 170.5h0M448.7 205.7h0M420.5 234.9h0M395.9 235.7h0M447.6 173.1h0M448.4 193.7h0M439.1 197.0h0M403.6 168.2h0" stroke="#4878b0" stroke-width="1.35" stroke-linecap="round" fill="none" opacity="0.9"/><g opacity="0.72"><ellipse cx="419.5" cy="178" rx="42" ry="19" transform="rotate(77 419.5 178)" fill="#fcd3c1" opacity="0.9" filter="url(#k3)"/><ellipse cx="442" cy="236.5" rx="41" ry="16" transform="rotate(25 442 236.5)" fill="#fcd3c1" opacity="0.9" filter="url(#k3)"/><ellipse cx="452" cy="197" rx="24" ry="9.5" transform="rotate(16 452 197)" fill="#fcd3c1" opacity="0.85" filter="url(#k3)"/><ellipse cx="423" cy="212" rx="19" ry="15" transform="rotate(70 423 212)" fill="#fcc4ad" opacity="0.85" filter="url(#k3)"/><ellipse cx="419" cy="176" rx="32" ry="10.5" transform="rotate(77 419 176)" fill="#f5876a" opacity="0.8" filter="url(#k2)"/><ellipse cx="426" cy="212" rx="13" ry="8" transform="rotate(65 426 212)" fill="#f5876a" opacity="0.55" filter="url(#k2)"/><ellipse cx="439" cy="234" rx="27" ry="10" transform="rotate(24 439 234)" fill="#f5876a" opacity="0.9" filter="url(#k2)"/><ellipse cx="417.5" cy="168" rx="17" ry="4.6" transform="rotate(80 417.5 168)" fill="#d8392c" opacity="0.5" filter="url(#k2)"/><ellipse cx="437" cy="232" rx="16" ry="9" transform="rotate(18 437 232)" fill="#a8141c" opacity="0.95" filter="url(#k2)"/><ellipse cx="437.2" cy="232" rx="10.5" ry="5.6" transform="rotate(16 437.2 232)" fill="#4d0618" opacity="0.97" filter="url(#k2)"/></g><path d="M422.2 219.0h0M423.5 165.6h0M411.5 180.7h0M421.1 187.7h0M409.8 160.8h0M408.4 180.6h0M424.3 176.9h0M421.9 202.5h0M430.2 190.3h0M421.4 162.2h0M419.4 173.8h0M421.1 190.1h0M427.1 169.8h0M420.9 171.7h0M407.5 145.0h0M412.8 193.2h0M411.6 186.6h0M436.2 214.8h0M430.9 179.2h0M414.4 169.6h0M433.5 224.8h0M418.3 177.2h0M420.0 167.9h0M421.8 203.3h0M410.9 169.7h0M413.1 205.9h0M424.1 190.1h0M411.3 163.6h0M409.9 150.5h0M435.3 210.4h0M423.4 220.6h0M423.3 169.0h0M427.3 196.9h0M428.1 171.6h0M426.3 190.4h0M415.0 160.5h0M422.1 186.8h0M440.7 228.5h0M429.9 182.2h0M422.6 164.4h0M439.9 220.4h0M416.4 184.6h0M427.2 178.7h0M415.3 185.2h0M412.1 176.4h0M426.4 168.8h0M411.5 144.5h0M425.6 188.9h0M427.2 173.9h0M428.3 205.3h0M419.2 169.0h0M411.6 177.4h0M436.6 215.9h0M420.3 168.4h0M410.9 158.1h0M404.6 152.0h0M408.7 173.1h0M414.3 150.1h0M416.6 215.6h0M421.0 170.7h0M426.1 179.2h0M426.9 211.7h0M419.2 215.1h0M418.1 173.1h0M418.5 196.3h0M430.0 170.8h0M431.4 191.4h0M437.6 195.9h0M430.8 185.6h0M421.6 154.8h0M422.8 172.4h0M416.7 164.1h0M420.3 170.4h0M437.2 205.9h0M429.1 213.5h0M416.1 195.3h0M415.6 192.4h0M422.2 194.0h0M415.0 178.7h0M412.7 177.7h0M406.0 164.5h0M434.0 230.3h0M426.2 197.9h0M407.0 172.5h0M405.7 169.6h0M423.2 186.8h0M416.9 190.6h0M416.0 164.8h0M426.8 211.5h0M421.3 181.4h0M419.4 220.3h0M419.1 166.8h0M410.5 173.0h0M417.1 185.9h0M422.6 203.3h0M419.2 192.0h0M412.0 149.3h0M428.4 180.5h0M414.5 179.7h0M412.0 169.2h0M417.0 162.6h0M423.7 220.1h0M410.9 170.4h0M424.2 156.1h0M424.0 192.7h0M423.4 180.3h0M425.6 174.7h0M421.4 196.8h0M428.2 188.0h0M424.6 185.7h0M422.9 201.0h0M418.5 185.2h0M413.9 164.1h0M420.3 165.0h0M418.8 183.3h0M411.7 182.0h0M423.5 186.3h0M406.6 163.5h0M422.9 189.4h0M409.7 167.2h0M420.5 150.1h0M402.8 151.2h0M409.3 167.7h0M414.7 172.4h0M419.1 171.2h0M410.1 142.3h0M417.7 178.8h0M420.0 173.1h0M421.9 194.6h0M415.3 205.9h0M434.7 193.2h0M431.0 205.1h0M437.3 198.0h0M410.5 157.2h0M421.0 187.8h0M431.4 221.1h0M416.3 141.9h0M420.9 189.4h0M424.2 204.3h0M413.4 162.3h0M427.9 190.4h0M409.0 154.0h0M425.7 156.6h0M423.3 174.9h0M433.3 198.3h0M408.7 157.3h0M429.5 172.5h0M411.6 203.5h0M433.7 188.5h0M419.9 194.3h0M416.7 166.9h0M418.4 187.7h0M419.6 208.0h0M410.4 146.4h0M435.1 192.4h0M412.6 173.2h0M434.4 202.6h0M419.7 184.7h0M413.8 160.9h0M430.0 202.2h0M410.5 160.2h0M429.3 226.6h0M424.3 192.6h0M410.7 203.2h0M419.5 181.6h0M425.8 201.5h0M417.3 143.0h0M412.1 146.6h0M416.4 169.8h0M423.1 196.6h0M420.5 185.2h0M427.8 196.1h0M413.9 168.4h0M410.9 175.7h0M417.8 150.4h0M418.2 170.5h0M422.3 192.0h0M408.8 173.1h0M414.3 190.9h0M421.7 163.4h0M415.8 164.3h0M430.5 176.4h0M425.4 171.8h0M422.6 191.9h0M415.9 183.2h0M422.0 220.3h0M420.6 172.3h0M428.0 170.4h0M411.0 154.3h0M420.9 178.2h0M420.1 194.7h0M414.3 161.0h0M414.1 178.0h0M418.7 195.9h0M412.7 176.4h0M420.0 165.1h0M417.6 202.4h0M423.7 179.4h0M421.0 187.4h0M412.4 208.5h0M423.1 205.4h0M426.0 167.9h0M405.9 168.2h0M413.8 186.3h0M410.6 176.8h0M423.9 208.4h0M421.3 178.1h0M428.5 194.1h0M429.1 207.5h0M419.8 163.4h0M422.1 174.7h0M412.3 175.6h0M420.9 172.0h0M418.8 173.6h0M418.2 189.1h0M413.5 180.9h0M436.4 198.1h0M410.5 168.6h0M415.7 154.3h0M424.3 176.4h0M425.7 192.0h0M420.5 208.4h0M411.2 200.0h0M417.5 187.7h0M433.3 210.8h0M416.3 180.3h0M410.8 167.3h0M431.9 182.8h0M420.5 165.4h0M417.2 194.3h0M432.1 174.8h0M429.7 210.0h0M417.9 190.7h0M427.8 158.3h0M425.6 191.5h0M424.2 200.0h0M410.0 166.2h0M426.4 165.9h0M422.2 199.6h0M407.7 166.2h0M414.8 173.6h0M436.1 192.9h0M428.8 173.7h0M429.3 187.4h0M416.1 151.7h0M437.1 195.7h0M424.5 189.0h0M428.9 175.1h0M437.7 205.4h0M416.5 168.3h0M413.3 204.7h0M420.9 222.9h0M426.2 176.7h0M424.2 185.0h0M426.8 172.0h0M419.9 184.3h0M429.4 198.7h0M421.2 174.0h0M418.0 176.6h0M426.5 210.7h0M407.3 150.0h0M414.0 142.4h0M418.4 162.1h0M408.7 151.0h0M424.5 210.0h0M413.3 187.1h0M416.6 157.4h0M416.9 163.5h0M443.3 243.0h0M405.4 166.2h0M425.4 157.9h0M419.7 185.5h0M429.4 191.4h0M418.3 183.7h0M409.2 158.0h0M424.2 191.6h0M431.9 173.8h0M429.0 204.6h0M435.1 193.5h0M423.3 171.2h0M408.6 174.1h0M406.6 164.0h0M417.9 145.2h0M422.3 185.3h0M426.9 185.9h0M414.1 143.7h0M425.8 174.1h0M427.2 172.9h0M420.4 221.7h0M409.2 154.2h0M408.6 145.7h0M411.8 163.9h0M406.1 153.4h0M405.4 166.7h0M421.8 187.8h0M426.1 195.5h0M435.8 215.1h0M407.7 162.6h0M437.5 238.8h0M441.0 221.9h0M420.3 172.8h0M413.0 177.4h0M412.7 181.4h0M425.7 178.4h0M420.8 172.8h0M424.0 157.6h0M423.7 192.5h0M421.6 202.3h0M416.6 166.7h0M432.4 180.7h0M406.0 161.7h0M427.2 178.2h0M417.0 191.5h0M411.9 165.9h0M429.9 190.0h0M426.5 179.4h0M430.4 219.3h0M418.6 177.8h0M418.2 149.0h0M413.2 143.5h0M428.0 204.9h0M428.3 175.5h0M423.8 190.3h0M429.1 198.6h0M432.4 173.8h0M420.3 170.2h0M416.4 155.4h0M413.5 177.7h0M413.6 175.0h0M417.0 188.5h0M416.5 175.6h0M429.4 179.6h0M422.9 196.6h0M421.4 155.8h0M419.9 201.9h0M430.9 176.3h0M430.6 187.5h0M431.7 213.2h0M420.3 204.4h0M415.2 177.5h0M421.7 196.9h0M413.7 190.0h0M426.9 179.7h0M413.3 212.4h0M409.7 162.9h0M416.1 195.6h0M426.3 166.1h0M425.0 209.0h0M407.8 160.3h0M419.3 174.8h0M432.6 195.9h0M419.2 168.9h0M416.1 163.7h0M420.3 189.8h0M412.4 163.3h0M410.3 146.0h0M420.8 185.0h0M417.7 151.0h0M409.0 171.7h0M425.8 176.2h0M412.9 162.7h0M418.6 168.9h0M429.9 172.9h0M430.1 188.5h0M423.1 189.0h0M414.4 193.2h0M419.0 186.7h0M431.4 183.0h0M423.4 167.3h0M434.8 193.8h0M428.2 229.7h0M409.3 159.9h0M431.8 188.3h0M416.7 169.6h0M412.0 199.1h0M420.7 188.5h0M427.4 202.3h0M412.4 164.8h0M413.5 155.0h0M422.7 174.6h0M418.6 160.4h0M415.4 163.2h0M427.1 193.0h0M420.1 224.7h0M409.9 172.6h0M408.1 180.7h0M407.4 172.3h0M409.5 147.0h0M415.8 155.6h0M430.1 202.0h0M424.5 179.2h0M421.2 157.0h0M418.4 180.6h0M415.2 173.1h0M415.0 192.5h0M421.7 180.4h0M418.2 183.0h0M406.1 152.0h0M423.7 197.2h0M426.8 205.4h0M409.1 151.4h0M414.6 154.7h0M435.5 200.7h0M428.4 198.2h0M419.4 172.3h0M437.8 198.3h0M411.6 169.2h0M421.5 161.7h0M412.7 165.6h0M417.3 175.0h0M420.0 169.9h0M420.2 162.7h0M428.5 194.8h0M422.9 202.4h0M410.8 167.8h0M411.8 144.6h0M430.5 193.3h0M420.7 205.8h0M414.3 175.2h0M422.5 183.9h0M426.2 214.0h0M432.8 186.7h0M417.3 170.8h0M408.7 159.4h0M429.5 188.0h0M429.6 183.0h0M416.9 210.9h0M425.0 181.1h0M410.6 158.5h0M412.0 148.1h0M417.6 172.3h0M410.1 154.4h0M415.0 152.8h0M420.8 169.4h0M430.4 216.8h0M413.5 160.1h0M412.6 187.2h0M436.4 209.8h0M427.1 208.9h0M406.6 169.0h0M420.0 184.2h0M424.0 180.6h0M428.9 188.9h0M419.6 184.3h0M415.4 155.7h0M408.1 149.6h0M405.3 152.1h0M429.8 209.2h0M415.1 180.0h0M419.2 152.8h0M427.1 168.3h0M420.8 165.2h0M425.7 173.3h0M427.3 199.5h0M407.0 145.3h0M419.9 186.2h0M422.4 173.0h0M423.6 181.1h0M417.6 189.4h0M410.3 175.7h0M426.1 196.2h0M415.6 156.9h0M425.3 178.3h0M413.5 158.9h0M406.5 153.2h0M420.7 191.7h0M418.8 185.4h0M425.9 202.9h0M413.2 163.0h0M428.4 171.4h0M432.3 236.9h0M424.5 188.5h0M413.3 201.5h0M418.3 194.5h0M418.5 201.2h0M414.4 194.2h0M411.5 198.2h0M422.4 179.3h0M424.4 208.8h0M408.9 162.3h0M421.7 164.2h0M420.8 194.0h0M420.9 209.2h0M420.6 181.3h0M412.1 162.2h0M430.4 172.5h0M425.4 164.4h0M438.0 220.4h0M421.7 199.6h0M399.3 213.8h0M419.2 185.5h0M417.6 164.8h0M426.3 205.3h0M421.3 218.3h0M417.5 192.8h0M427.6 175.5h0M418.0 205.0h0M417.7 169.3h0M417.7 197.2h0M418.3 192.2h0M434.3 182.9h0M427.0 223.2h0M415.5 172.0h0M418.6 178.8h0M410.8 151.9h0M424.9 188.2h0M413.3 150.4h0M419.0 213.2h0M413.5 172.3h0M425.6 217.4h0M426.0 182.1h0M423.9 204.7h0M420.1 172.3h0M417.9 202.0h0M421.0 154.4h0M421.1 166.3h0M413.8 176.1h0M413.0 183.7h0M426.2 174.6h0M425.0 194.7h0M430.7 195.2h0M413.4 145.3h0M429.0 189.6h0M435.0 191.0h0M412.2 161.2h0M420.2 187.3h0M413.6 146.7h0M424.8 212.2h0M418.2 176.4h0M428.7 205.4h0M412.5 176.1h0M434.6 189.3h0M408.4 154.8h0M422.0 163.4h0M417.9 144.1h0M417.6 173.3h0M413.0 204.9h0M426.1 182.0h0M417.4 200.3h0M411.2 154.6h0M424.8 155.0h0M410.4 168.6h0M428.5 190.0h0M432.0 183.9h0M425.1 176.3h0M428.1 191.3h0M414.4 175.4h0M424.7 176.3h0M415.8 211.0h0M414.7 164.7h0M425.7 181.1h0M434.2 214.3h0M418.4 180.8h0M437.9 191.1h0M436.4 222.3h0M412.1 151.8h0M413.7 153.4h0M429.8 215.5h0M420.4 171.3h0M415.4 187.9h0M420.2 180.7h0M416.4 161.6h0M408.6 143.8h0M411.2 152.7h0M419.0 183.4h0M418.7 185.9h0M424.1 178.7h0M428.3 172.2h0M409.3 181.5h0M406.6 155.5h0M421.3 178.6h0M417.6 189.9h0M419.0 161.5h0M411.2 154.7h0M429.2 200.2h0M420.4 186.5h0M408.4 179.3h0M428.5 191.4h0M430.5 203.1h0M416.1 162.1h0M412.0 163.9h0M418.6 167.3h0M416.7 199.3h0M417.1 149.6h0M409.1 177.6h0M407.5 158.0h0M429.0 182.4h0M406.9 142.6h0M423.1 186.4h0M409.5 168.1h0M422.2 171.9h0M420.1 190.8h0M421.7 205.7h0M438.5 198.3h0M421.6 191.3h0M418.8 170.9h0M419.8 212.5h0M418.9 182.8h0M435.6 206.1h0M413.9 164.7h0M420.2 156.5h0M427.8 206.3h0M434.9 227.8h0M420.4 193.4h0M434.6 196.5h0M425.0 165.1h0M434.8 211.4h0M425.2 164.5h0M423.2 179.8h0M419.8 199.5h0M411.5 149.2h0M414.9 169.0h0M430.9 208.0h0M419.6 175.8h0M404.0 151.0h0M412.6 147.2h0M438.3 192.7h0M411.7 161.4h0M423.3 203.0h0M414.9 200.4h0M416.5 165.7h0M424.6 196.0h0M419.8 181.6h0M425.6 183.2h0M419.4 200.1h0M414.6 157.6h0M417.8 163.2h0M424.7 187.2h0M430.7 227.1h0M422.8 168.1h0M421.3 229.9h0M433.2 178.8h0M419.1 171.7h0M416.3 154.0h0M434.6 210.9h0M418.5 171.6h0M422.9 164.0h0M426.3 163.9h0M425.9 215.1h0M406.9 166.4h0M420.6 193.2h0M420.4 184.4h0M428.6 181.8h0M415.6 157.3h0M420.1 194.1h0M433.1 214.5h0M413.0 178.2h0M415.1 156.4h0M410.3 148.3h0M424.4 181.6h0M421.8 170.8h0M417.6 175.9h0M417.1 178.8h0M409.3 144.0h0M431.4 194.5h0M426.4 182.2h0M419.6 176.1h0M417.3 201.3h0M417.8 179.7h0M415.0 158.1h0M431.3 204.0h0M411.6 169.2h0M417.9 160.5h0M417.1 178.8h0M411.8 167.0h0M426.1 187.5h0M423.8 177.8h0M427.1 201.3h0M422.5 184.8h0M415.9 168.9h0M412.6 171.5h0M413.9 166.8h0M428.6 191.8h0M429.8 176.2h0M423.5 167.0h0M421.9 198.3h0M414.2 181.6h0M404.4 170.0h0M421.7 188.3h0M422.9 183.1h0M423.1 178.4h0M416.6 168.0h0M417.2 158.0h0M420.6 172.2h0M425.8 182.2h0M416.4 175.6h0M411.5 176.3h0M405.6 169.7h0M425.5 185.0h0M428.8 181.6h0M417.8 159.9h0M430.1 194.3h0M416.8 198.1h0M430.2 195.6h0M418.7 175.0h0M428.6 171.1h0M416.2 150.2h0M422.6 195.9h0M422.8 167.6h0M415.4 170.6h0M439.5 194.5h0M428.6 175.9h0M420.6 154.0h0M415.8 143.7h0M412.9 161.6h0M416.0 181.4h0M431.8 176.5h0M415.1 174.2h0M423.1 201.7h0M412.9 152.4h0M421.4 178.4h0M428.9 215.7h0M422.9 190.9h0M422.5 166.1h0M418.1 194.6h0M414.0 160.8h0M414.6 179.3h0M428.8 214.1h0M425.3 223.3h0M435.6 222.3h0M420.2 164.4h0M414.4 185.6h0M419.2 215.2h0M423.0 165.1h0M434.4 185.7h0M429.7 174.2h0M427.5 184.7h0M420.2 173.3h0M417.6 201.3h0M423.5 228.6h0M428.1 192.9h0M414.1 170.2h0M416.0 189.9h0M410.9 184.9h0M426.6 201.5h0M417.6 143.0h0M408.3 151.9h0M427.0 191.2h0M404.1 165.8h0M418.0 160.5h0M419.3 155.2h0M420.8 169.8h0M413.5 167.2h0M439.5 207.6h0M422.1 163.0h0M439.9 202.8h0M423.7 188.2h0M418.5 185.5h0M414.2 197.0h0M423.4 216.2h0M414.9 149.1h0M416.6 190.9h0M420.2 168.5h0M414.4 162.6h0M414.4 160.4h0M425.5 193.6h0M427.6 172.6h0M414.7 166.0h0M437.0 204.9h0M430.5 239.4h0M423.3 168.1h0M414.4 165.8h0M417.6 160.5h0M415.4 175.6h0M430.0 194.9h0M435.9 192.8h0M425.0 190.1h0M421.1 170.8h0M426.5 183.3h0M425.0 203.1h0M421.8 173.3h0M424.3 196.7h0M418.6 176.8h0M410.7 149.6h0M413.8 171.5h0M421.8 180.9h0M423.4 172.9h0M417.9 197.3h0M422.8 223.6h0M448.2 203.9h0M419.6 170.5h0M418.5 160.2h0M420.6 161.7h0M424.1 177.8h0M416.1 189.2h0M425.0 181.2h0M424.0 181.7h0M415.7 182.8h0M424.7 173.6h0M417.2 160.2h0M437.3 216.4h0M432.1 200.9h0M410.0 157.8h0M411.0 157.7h0M425.1 162.3h0M428.8 176.7h0M430.2 200.5h0M432.1 201.4h0M422.3 204.2h0M431.6 202.4h0M426.7 194.5h0M416.1 190.0h0M412.2 176.7h0M409.7 177.1h0M430.8 219.8h0M418.9 164.8h0M416.7 163.2h0M427.8 201.1h0M416.7 180.6h0M415.4 167.1h0M434.1 213.0h0M422.1 192.8h0M428.1 194.7h0M421.2 163.7h0M423.8 189.3h0M414.8 188.4h0M422.3 196.5h0M417.1 206.9h0M414.9 206.8h0M421.2 181.8h0M428.2 193.0h0M419.6 149.8h0M421.5 193.4h0M417.5 195.3h0M406.6 171.4h0M425.3 157.6h0M413.1 178.0h0M405.8 151.3h0M420.3 185.1h0M415.2 155.6h0M431.3 176.5h0M431.4 201.5h0M433.7 200.9h0M432.8 199.8h0M425.7 172.9h0M418.6 168.6h0M420.4 192.4h0M427.2 234.1h0M428.3 210.6h0M421.0 216.7h0M419.6 211.2h0M420.9 172.7h0M426.7 165.7h0M433.8 205.5h0M427.8 217.7h0M417.3 162.2h0M409.6 181.2h0M414.3 167.2h0M418.0 162.9h0M417.4 161.8h0M425.5 210.9h0M435.3 214.8h0M427.5 200.9h0M425.0 218.7h0M416.4 211.2h0M424.5 224.9h0M430.3 226.7h0M426.7 232.8h0M427.3 208.4h0M416.4 197.1h0M413.9 211.6h0M420.3 192.0h0M421.0 208.2h0M428.1 197.6h0M419.6 222.1h0M435.4 232.3h0M433.7 205.3h0M429.3 213.7h0M415.6 194.6h0M432.5 199.7h0M411.7 202.2h0M415.7 191.0h0M431.0 229.6h0M430.4 188.8h0M415.9 214.8h0M419.7 217.0h0M434.2 211.8h0M420.0 214.6h0M411.3 205.0h0M429.9 219.4h0M426.9 213.2h0M422.0 194.0h0M425.9 231.6h0M424.6 207.2h0M430.6 221.5h0M429.8 191.1h0M432.6 193.5h0M414.3 208.0h0M421.4 225.7h0M429.2 212.1h0M420.4 200.2h0M423.3 218.7h0M426.4 213.7h0M443.9 233.0h0M428.6 209.6h0M431.5 223.2h0M424.4 194.8h0M417.0 212.9h0M440.5 207.0h0M415.7 216.7h0M415.6 210.6h0M418.3 203.4h0M419.0 202.1h0M417.3 211.1h0M424.6 222.7h0M429.1 238.4h0M430.4 216.5h0M434.1 221.3h0M421.9 220.8h0M431.3 218.6h0M419.2 221.3h0M416.7 211.3h0M426.4 207.0h0M422.6 216.8h0M430.9 232.6h0M428.5 220.5h0M421.7 233.5h0M418.5 197.6h0M423.4 215.8h0M421.5 219.7h0M430.0 192.5h0M419.7 190.2h0M436.9 237.5h0M435.1 211.0h0M416.0 199.7h0M428.7 214.9h0M420.2 209.8h0M435.6 210.2h0M413.4 210.4h0M433.5 202.0h0M433.2 218.1h0M431.0 213.7h0M423.3 228.2h0M435.5 194.5h0M426.8 224.7h0M426.2 212.4h0M431.3 212.2h0M423.7 228.5h0M439.2 205.3h0M436.2 211.3h0M433.1 217.4h0M421.2 221.8h0M430.3 220.7h0M436.1 224.7h0M422.6 219.9h0M426.3 206.2h0M439.4 238.3h0M426.5 211.4h0M423.1 217.9h0M424.0 184.9h0M418.8 204.7h0M425.7 213.0h0M428.5 217.9h0M412.2 217.4h0M421.3 223.9h0M422.9 225.9h0M431.9 222.6h0M431.0 210.3h0M422.2 214.6h0M425.6 209.5h0M425.2 201.3h0M424.7 230.8h0M428.7 195.3h0M429.7 209.9h0M418.8 217.7h0M416.0 188.5h0M421.9 223.1h0M429.5 206.4h0M419.4 217.4h0M428.4 207.0h0M418.6 217.4h0M420.8 215.4h0M415.9 228.6h0M423.2 219.2h0M422.2 192.1h0M416.2 229.8h0M424.6 222.9h0M417.5 225.1h0M424.8 218.8h0M411.9 208.3h0M433.1 216.4h0M432.6 205.1h0M447.0 241.3h0M417.0 212.4h0M435.1 194.7h0M436.8 203.9h0M441.2 225.0h0M419.8 207.2h0M410.5 186.6h0M436.5 227.1h0M419.0 218.9h0M419.4 208.3h0M417.2 224.5h0M412.6 205.3h0M424.6 197.7h0M426.2 224.3h0M423.1 206.7h0M422.4 220.3h0M422.3 213.7h0M427.1 222.4h0M418.7 216.2h0M415.0 190.0h0M420.8 222.8h0M421.7 207.7h0M428.8 222.5h0M417.0 216.9h0M422.1 231.8h0M424.2 208.7h0M424.5 219.3h0M421.2 209.6h0M436.0 202.6h0M438.9 226.3h0M411.1 215.7h0M428.7 224.7h0M418.9 196.3h0M418.7 202.8h0M432.4 205.8h0M411.6 207.1h0M411.6 199.3h0M421.2 200.9h0M417.9 208.4h0M413.5 205.4h0M417.7 207.7h0M436.9 232.0h0M423.5 216.6h0M419.5 204.1h0M421.5 213.6h0M438.7 227.7h0M424.5 221.0h0M423.5 211.7h0M416.5 198.3h0M415.4 194.3h0M434.0 204.8h0M416.7 214.1h0M411.3 196.7h0M429.2 193.9h0M424.6 212.1h0M421.7 185.3h0M420.5 192.1h0M415.8 215.1h0M422.1 220.7h0M409.6 222.1h0M427.4 224.3h0M439.5 227.3h0M426.9 223.2h0M429.0 232.5h0M424.5 224.7h0M419.7 204.1h0M432.7 214.8h0M416.6 188.8h0M429.2 206.8h0M418.2 183.2h0M420.0 209.0h0M438.2 220.9h0M411.4 217.7h0M439.6 227.9h0M417.9 215.2h0M430.0 212.1h0M433.2 205.8h0M423.7 219.9h0M423.2 212.9h0M431.4 225.7h0M431.8 230.8h0M431.2 215.2h0M416.8 201.3h0M430.9 217.7h0M430.2 228.1h0M418.7 223.3h0M436.6 212.2h0M433.3 221.7h0M435.7 225.7h0M420.6 181.0h0M441.9 226.0h0M430.4 220.7h0M425.8 218.6h0M423.7 206.1h0M438.7 210.7h0M422.2 221.5h0M413.4 198.0h0M427.6 221.4h0M433.4 210.6h0M438.0 226.8h0M412.5 226.0h0M421.6 214.7h0M435.1 217.3h0M415.8 218.0h0M426.0 219.4h0M424.6 196.9h0M419.1 207.6h0M421.0 196.0h0M416.0 206.1h0M431.7 214.9h0M411.2 196.9h0M423.2 197.7h0M435.3 218.4h0M418.5 208.4h0M423.3 213.3h0M436.9 192.6h0M421.3 200.8h0M423.2 209.6h0M430.4 231.6h0M410.8 223.6h0M423.5 191.9h0M427.2 217.7h0M424.8 197.2h0M426.0 211.6h0M435.5 236.1h0M416.4 204.0h0M420.8 218.6h0M414.1 207.1h0M421.3 197.9h0M419.6 209.2h0M435.2 222.2h0M427.1 226.8h0M417.8 204.1h0M427.3 205.9h0M447.2 193.3h0M421.9 187.4h0M432.4 230.0h0M436.5 227.8h0M422.5 207.7h0M421.8 230.9h0M427.1 226.0h0M425.5 208.3h0M435.5 208.9h0M426.1 207.7h0M435.8 212.0h0M429.9 234.2h0M412.0 202.3h0M433.6 220.9h0M433.4 210.6h0M428.6 187.4h0M417.6 202.6h0M417.4 205.1h0M416.5 208.2h0M424.0 217.4h0M439.1 220.5h0M440.0 205.4h0M417.1 217.7h0M429.0 202.0h0M414.4 229.8h0M447.7 221.8h0M433.1 206.6h0M429.8 201.8h0M431.8 237.0h0M423.9 225.2h0M426.2 201.2h0M413.7 195.5h0M434.6 205.7h0M434.4 224.9h0M432.9 203.2h0M428.9 208.5h0M428.6 205.4h0M425.7 221.1h0M431.3 194.7h0M425.9 209.0h0M419.2 212.6h0M422.4 206.0h0M409.3 203.5h0M437.0 219.2h0M420.0 216.9h0M434.7 218.7h0M425.2 232.4h0M422.7 209.3h0M425.8 219.7h0M428.5 206.6h0M439.9 206.5h0M435.7 213.5h0M419.2 213.1h0M421.4 195.1h0M425.8 232.1h0M436.7 210.8h0M415.7 201.9h0M425.7 221.2h0M414.2 230.0h0M436.1 223.4h0M416.0 211.5h0M427.8 220.3h0M412.4 198.0h0M429.2 213.5h0M435.4 221.0h0M426.4 204.8h0M427.7 210.1h0M430.6 212.4h0M433.1 212.0h0M422.8 233.0h0M425.7 199.1h0M440.6 224.6h0M427.8 196.1h0M418.8 206.8h0M440.1 197.7h0M421.1 213.4h0M417.7 209.4h0M417.3 222.1h0M429.0 211.8h0M441.1 235.4h0M425.7 217.8h0M423.3 210.5h0M416.5 221.0h0M427.5 219.9h0M435.0 225.3h0M423.4 233.4h0M437.3 225.0h0M440.2 224.7h0M446.3 240.0h0M437.8 233.2h0M446.2 242.2h0M432.2 223.5h0M427.5 226.6h0M431.5 229.9h0M431.4 242.4h0M429.8 229.8h0M441.8 239.2h0M443.4 233.6h0M447.1 238.6h0M442.0 225.7h0M433.1 231.1h0M441.8 230.3h0M430.6 224.3h0M437.9 234.4h0M428.4 235.6h0M446.7 238.3h0M413.6 222.8h0M443.5 238.7h0M447.0 229.0h0M436.2 233.9h0M439.2 236.1h0M439.1 232.5h0M449.2 234.8h0M451.8 237.8h0M438.2 229.4h0M452.2 236.0h0M430.0 234.4h0M444.2 223.3h0M438.9 240.3h0M424.9 231.1h0M439.7 234.4h0M432.8 225.0h0M445.0 232.5h0M430.1 226.6h0M419.9 230.7h0M424.3 231.9h0M435.3 238.5h0M439.8 233.5h0M443.7 222.5h0M431.9 224.9h0M444.9 232.6h0M431.6 232.4h0M437.7 223.6h0M446.3 234.0h0M435.6 232.1h0M421.2 223.5h0M443.9 233.3h0M433.2 244.3h0M433.7 231.0h0M445.4 246.5h0M431.0 231.6h0M444.2 230.3h0M437.4 235.5h0M461.3 237.6h0M421.0 226.5h0M442.8 220.8h0M439.7 235.0h0M448.1 232.2h0M431.4 236.9h0M431.2 230.8h0M450.4 234.2h0M435.1 225.3h0M439.6 233.0h0M437.3 229.9h0M442.0 229.1h0M421.8 238.0h0M432.5 229.7h0M435.1 236.6h0M435.6 240.1h0M446.4 237.4h0M440.7 236.8h0M441.5 236.4h0M435.0 236.9h0M447.5 238.8h0M430.8 232.9h0M436.1 232.5h0M424.6 225.1h0M428.4 226.6h0M445.9 231.1h0M436.4 232.9h0M418.2 233.5h0M438.4 226.9h0M436.1 228.1h0M428.6 223.5h0M440.3 232.7h0M433.0 236.6h0M437.8 230.3h0M445.1 236.4h0M435.6 217.9h0M447.1 234.4h0M433.9 233.7h0M435.9 228.0h0M451.6 227.1h0M439.8 235.5h0M433.7 230.2h0M433.0 241.2h0M440.1 229.5h0M424.3 226.9h0M443.8 231.9h0M436.9 232.5h0M428.6 218.6h0M426.3 236.4h0M443.8 237.9h0M426.1 227.1h0M457.1 236.4h0M426.6 231.6h0M438.4 234.5h0M414.8 222.3h0M436.7 230.9h0M431.8 232.2h0M442.2 231.1h0M439.4 230.8h0M434.8 228.7h0M457.1 236.4h0M446.2 227.4h0M432.0 224.8h0M439.5 234.9h0M431.8 229.9h0M434.4 222.5h0M437.5 234.5h0M423.6 237.4h0M441.9 240.6h0M438.3 231.2h0M437.5 230.0h0M446.0 232.4h0M448.7 245.8h0M443.6 235.5h0M422.8 222.0h0M438.8 238.1h0M437.8 237.0h0M429.9 217.9h0M423.3 223.8h0M431.3 236.0h0M432.5 235.8h0M438.2 225.2h0M430.1 229.7h0M436.6 237.0h0M438.8 234.6h0M435.9 225.5h0M440.5 232.0h0M430.2 233.7h0M421.6 229.9h0M438.2 226.8h0M460.6 241.0h0M420.0 217.8h0M432.6 228.7h0M433.4 215.0h0M440.2 229.1h0M428.8 229.1h0M433.6 244.9h0M445.2 235.9h0M429.2 231.7h0M434.7 235.7h0M450.9 237.8h0M445.6 231.4h0M419.7 234.3h0M454.5 240.8h0M427.9 238.1h0M437.6 238.3h0M434.5 225.9h0M433.3 228.3h0M431.1 227.9h0M442.9 231.8h0M428.9 232.1h0M425.6 227.4h0M432.9 226.2h0M434.2 239.7h0M416.2 233.3h0M443.8 234.6h0M432.0 224.4h0M444.3 231.0h0M450.5 232.2h0M441.1 228.3h0M443.2 228.6h0M432.2 232.0h0M430.1 231.7h0M418.9 228.8h0M436.5 226.7h0M431.3 232.0h0M438.8 234.1h0M451.1 234.5h0M435.7 247.5h0M446.7 237.2h0M435.3 228.1h0M426.0 233.7h0M438.5 228.6h0M434.2 229.2h0M424.8 234.0h0M447.1 232.0h0M440.8 224.9h0M429.6 233.9h0M437.1 237.1h0M437.7 224.5h0M442.9 232.1h0M449.3 242.5h0M430.7 231.6h0M424.5 233.0h0M449.4 235.6h0M459.5 235.9h0M432.2 227.5h0M429.0 227.9h0M425.6 229.6h0M441.0 222.6h0M434.4 231.5h0M443.2 238.2h0M430.5 226.4h0M431.4 230.5h0M427.3 223.0h0M451.6 229.1h0M446.2 236.2h0M448.7 235.7h0M430.0 227.1h0M451.1 229.4h0M439.3 233.5h0M443.4 234.1h0M442.5 232.7h0M434.1 230.7h0M435.9 229.9h0M422.1 230.5h0M431.2 232.7h0M431.8 240.8h0M424.1 236.2h0M437.8 232.3h0M450.5 229.6h0M431.4 234.0h0M429.2 226.3h0M426.6 237.6h0M441.1 225.0h0M453.4 235.1h0M435.8 240.6h0M437.4 232.4h0M424.5 232.3h0M438.8 236.6h0M443.4 231.5h0M431.9 235.3h0M438.2 227.6h0M431.5 228.5h0M440.0 245.3h0M449.3 235.1h0M439.7 235.2h0M443.3 228.1h0M435.2 239.2h0M432.7 225.5h0M431.2 226.0h0M434.3 227.8h0M439.6 227.6h0M439.3 224.7h0M446.6 233.6h0M444.5 231.7h0M450.5 235.9h0M445.6 229.3h0M436.3 226.7h0M438.4 230.7h0M422.4 227.3h0M453.6 232.1h0M431.8 230.2h0M433.7 229.6h0M451.6 242.8h0M426.3 232.2h0M430.6 232.8h0M434.8 237.1h0M432.9 227.1h0M435.6 239.3h0M438.9 233.7h0M443.6 231.4h0M435.4 233.8h0M445.1 228.5h0M431.1 240.2h0M442.1 235.1h0M450.2 227.8h0M423.4 221.2h0M435.9 228.8h0M439.6 229.7h0M419.3 228.9h0M438.2 238.2h0M430.4 233.0h0M445.7 229.5h0M435.1 237.8h0M434.9 238.3h0M437.2 221.0h0M439.0 229.4h0M429.5 227.6h0M433.8 226.5h0M442.4 239.7h0M434.0 233.7h0M441.5 233.8h0M439.1 225.7h0M437.5 220.4h0M430.0 224.4h0M446.1 230.2h0M431.2 224.9h0M444.0 222.1h0M425.7 219.5h0M440.3 230.5h0M440.0 234.8h0M432.3 227.3h0M423.0 226.0h0M435.8 231.1h0M438.2 231.9h0M430.4 236.6h0M432.4 225.8h0M444.9 235.6h0M438.3 224.8h0M431.4 236.8h0M443.5 238.2h0M435.3 237.0h0M430.7 230.5h0M445.1 233.8h0M436.0 224.2h0M444.9 236.2h0M428.8 237.0h0M445.3 244.6h0M442.6 229.0h0M440.8 235.9h0M442.5 229.0h0M445.1 233.6h0M436.5 236.4h0M441.4 232.3h0M432.0 240.6h0M454.3 237.8h0M428.2 232.8h0M445.5 231.2h0M429.2 226.5h0M442.6 231.5h0M448.0 238.4h0M424.5 237.4h0M452.8 237.2h0M430.7 222.5h0M430.8 226.4h0M442.3 225.8h0M426.5 231.3h0M445.8 234.9h0M443.3 227.8h0M413.4 222.2h0M422.8 232.7h0M429.9 232.3h0M441.8 230.2h0M426.3 232.8h0M430.0 231.9h0M443.5 230.9h0M427.9 230.0h0M436.6 242.5h0M426.7 222.3h0M444.3 240.2h0M450.0 235.3h0M425.8 231.9h0M415.3 227.2h0M421.6 228.5h0M445.9 233.9h0M431.9 230.3h0M445.2 238.5h0M424.3 230.4h0M431.1 221.6h0M435.1 234.0h0M444.3 241.8h0M433.5 235.9h0M427.4 230.0h0M442.7 223.3h0M436.7 235.2h0M440.3 236.8h0M432.9 239.0h0M433.0 225.2h0M437.5 230.8h0M415.8 222.0h0M439.8 231.3h0M450.8 226.5h0M442.7 231.1h0M429.2 226.9h0M423.9 225.5h0M446.0 244.0h0M433.5 227.1h0M435.8 229.0h0M437.1 238.4h0M432.6 227.2h0M435.3 238.2h0M449.6 238.6h0M433.6 227.2h0M455.3 233.7h0M440.2 233.7h0M440.1 231.8h0M445.3 235.1h0M446.2 231.5h0M445.4 238.0h0M443.1 230.0h0M432.6 227.7h0M451.8 235.6h0M437.8 224.9h0M430.1 227.8h0M445.4 233.4h0M445.2 226.2h0M439.8 222.4h0M435.6 238.5h0M442.7 232.1h0M454.4 236.7h0M437.4 228.3h0M423.1 236.4h0M432.3 229.1h0M444.6 224.0h0M434.4 233.8h0M432.7 224.8h0M442.8 236.2h0M443.8 233.3h0M433.0 237.9h0M438.7 235.1h0M432.0 228.0h0M429.2 237.5h0M429.3 245.1h0M425.8 225.1h0M438.1 238.5h0M435.6 233.6h0M431.7 232.8h0M440.0 225.7h0M439.7 227.2h0M427.8 237.1h0M431.3 230.9h0M430.7 226.8h0M445.8 245.2h0M419.7 233.4h0M434.8 235.5h0M445.9 229.2h0M427.1 228.7h0M425.6 236.8h0M431.4 218.4h0M423.2 218.3h0M448.4 231.0h0M432.6 236.2h0M426.0 229.7h0M429.7 232.3h0M437.3 233.2h0M433.0 231.2h0M426.0 235.4h0M427.2 231.5h0M430.2 237.4h0M438.2 229.8h0M426.7 237.9h0M436.4 232.3h0M429.8 230.7h0M460.4 236.9h0M433.4 226.4h0M442.8 230.7h0M429.8 224.0h0M428.0 221.5h0M431.4 240.9h0M431.8 232.9h0M431.0 235.8h0M434.5 234.2h0M446.0 226.6h0M452.7 237.3h0M455.2 232.7h0M437.5 227.5h0M452.1 236.3h0M450.5 237.4h0M429.8 230.2h0M430.9 230.8h0M435.1 229.7h0M452.9 237.4h0M432.0 237.7h0M429.5 242.4h0M445.8 241.4h0M434.1 229.8h0M433.3 233.1h0M439.0 238.3h0M435.1 237.3h0M421.9 234.4h0M440.8 235.6h0M422.8 225.8h0M448.8 226.8h0M432.7 236.9h0M436.3 235.4h0M439.1 227.7h0M419.1 226.3h0M429.5 227.2h0M426.5 226.0h0M434.3 241.3h0M449.4 233.9h0M428.9 243.6h0M436.0 230.9h0M418.9 221.9h0M431.6 231.0h0M428.8 243.4h0M433.8 230.0h0M439.6 235.8h0M451.6 223.4h0M434.0 234.4h0M441.1 225.2h0M421.5 226.2h0M438.3 240.3h0M435.9 230.1h0M418.3 230.1h0M438.6 231.1h0M429.9 227.7h0M443.8 235.8h0M437.5 238.5h0M435.8 232.1h0M450.6 236.2h0M435.5 225.8h0M435.4 221.5h0M435.4 232.1h0M436.7 230.7h0M427.2 230.3h0M438.6 238.6h0M437.7 237.0h0M432.2 225.2h0M421.0 228.2h0M445.7 236.4h0M447.7 233.9h0M447.5 222.1h0M445.9 230.1h0M452.0 236.2h0M437.5 236.5h0M451.1 234.6h0M437.1 223.7h0M426.0 236.3h0M436.4 231.4h0M434.2 228.3h0M439.8 235.9h0M451.4 240.6h0M440.2 232.4h0M446.8 231.6h0M456.5 234.8h0M451.2 241.1h0M437.5 231.2h0M429.6 232.3h0M427.8 225.9h0M420.9 224.3h0M419.5 223.3h0M450.5 224.7h0M424.1 225.0h0M431.6 239.3h0M434.9 232.9h0M449.3 232.7h0M425.5 223.8h0M439.4 224.6h0M439.0 233.7h0M450.7 231.6h0M435.2 228.8h0M437.6 237.2h0M432.5 235.8h0M445.4 238.1h0M448.0 225.6h0M434.2 227.5h0M439.6 239.5h0M425.4 221.0h0M435.2 238.5h0M428.8 228.9h0M431.4 235.5h0M446.6 232.4h0M458.2 231.7h0M440.4 226.9h0M433.0 239.0h0M434.4 229.0h0M445.7 227.3h0M433.8 235.5h0M448.4 226.3h0M451.0 235.3h0M441.9 235.3h0M432.9 232.1h0M443.0 236.1h0M430.8 229.2h0M425.3 213.4h0M446.8 236.3h0M454.3 237.0h0M449.2 234.5h0M432.8 233.2h0M429.9 230.6h0M439.9 241.5h0M429.5 242.2h0M448.9 237.2h0M430.1 227.4h0M443.6 226.2h0M437.9 235.4h0M442.2 222.9h0M421.2 236.5h0M434.2 236.5h0M440.1 229.6h0M432.0 234.1h0M426.5 223.1h0M434.3 224.3h0M426.8 232.9h0M441.6 227.2h0M445.1 235.7h0M439.9 231.9h0M437.4 241.0h0M434.5 232.7h0M435.7 240.6h0M417.6 230.5h0M438.7 227.7h0M446.7 228.0h0M435.6 218.8h0M442.9 233.8h0M427.9 212.3h0M438.5 227.3h0M439.1 218.1h0M441.9 229.6h0M436.7 235.7h0M458.3 233.4h0M408.8 219.2h0M424.3 224.8h0M430.1 231.0h0M440.1 223.9h0M430.6 230.2h0M430.7 228.9h0M424.1 221.3h0M426.0 222.2h0M426.6 235.4h0M449.1 239.8h0M428.5 231.4h0M463.1 235.1h0M446.9 232.8h0M436.3 223.7h0M447.1 224.5h0M446.7 231.9h0M426.8 224.7h0M424.1 220.0h0M452.1 229.3h0M427.3 230.6h0M445.3 231.5h0M445.6 225.0h0M445.5 224.1h0M441.4 234.2h0M450.1 229.8h0M435.2 234.9h0M440.7 233.1h0M438.4 237.9h0M434.7 230.3h0M452.9 232.2h0M443.0 242.0h0M450.7 235.6h0M440.3 231.3h0M447.5 234.0h0M429.3 224.7h0M430.4 231.4h0M442.9 243.3h0M432.0 238.7h0M432.6 231.8h0M437.0 235.3h0M421.0 230.7h0M439.3 228.5h0M438.5 240.8h0M433.3 231.8h0M429.6 218.4h0M451.5 239.8h0M442.1 227.8h0M426.8 230.0h0M430.2 233.3h0M422.5 225.0h0M420.4 227.7h0M417.0 232.9h0M431.5 221.6h0M443.8 222.6h0M443.6 232.9h0M436.0 229.8h0M442.3 245.4h0M440.1 238.3h0M425.3 230.8h0M429.2 228.3h0M442.6 221.9h0M445.2 226.3h0M447.1 232.8h0M423.9 228.3h0M419.8 223.3h0M454.8 237.9h0M433.0 234.2h0M447.0 230.5h0M437.8 229.2h0M425.9 222.1h0M447.4 241.9h0M444.6 221.9h0M449.2 238.9h0M441.0 237.2h0M431.4 217.6h0M437.4 228.6h0M444.1 240.0h0M432.2 224.5h0M439.6 228.8h0M447.6 234.5h0M423.4 234.7h0M432.5 233.5h0M439.7 228.2h0M448.1 226.8h0M438.7 223.0h0M429.9 231.0h0M445.9 221.4h0M432.5 226.4h0M439.8 235.7h0M442.4 225.9h0M435.8 229.0h0M445.0 233.2h0M446.5 238.8h0M427.6 220.3h0M441.7 233.2h0M435.7 230.5h0M434.2 231.0h0M440.6 223.2h0M446.9 237.5h0M437.3 226.4h0M434.4 229.7h0M427.2 223.1h0M432.3 241.2h0M437.1 231.6h0M424.8 239.9h0M435.5 227.1h0M442.0 231.3h0M447.3 243.3h0M435.3 228.6h0M454.6 239.6h0M444.3 240.5h0M445.8 232.0h0M443.9 229.6h0M438.7 230.4h0M430.0 235.0h0M436.1 233.5h0M435.8 238.5h0M439.4 230.5h0M452.3 233.5h0M457.6 231.4h0M443.0 231.5h0M447.7 231.3h0M431.6 228.9h0M421.3 220.7h0M438.0 227.4h0M440.5 230.6h0M448.7 240.8h0M460.2 236.9h0M441.1 229.3h0M447.8 240.9h0M445.5 242.0h0M440.2 230.6h0M445.7 232.6h0M444.4 223.1h0M428.4 228.2h0M414.5 232.2h0M435.9 241.8h0M444.8 238.7h0M448.2 232.1h0M431.9 232.7h0M445.4 225.4h0M432.1 229.3h0M446.1 227.4h0M431.2 229.5h0M469.6 249.3h0M443.6 241.7h0M447.3 243.2h0M408.0 220.7h0M426.1 234.1h0M464.1 247.1h0M459.8 239.3h0M446.0 248.8h0M435.3 235.1h0M434.1 241.2h0M422.4 231.5h0M450.6 239.0h0M470.1 251.7h0M434.8 231.7h0M435.7 231.4h0M458.9 239.9h0M424.8 218.6h0M413.3 218.4h0M435.0 242.9h0M439.0 222.1h0M451.5 241.9h0M430.5 240.8h0M428.1 232.4h0M445.0 242.6h0M448.5 242.6h0M459.7 249.4h0M448.6 223.4h0M438.9 238.4h0M443.0 232.4h0M440.0 233.3h0M452.1 240.3h0M433.2 238.4h0M439.3 224.7h0M415.9 232.3h0M421.4 228.2h0M436.1 233.5h0M440.5 231.8h0M448.9 233.7h0M428.9 240.3h0M446.1 239.6h0M446.7 230.8h0M468.3 241.0h0M450.5 230.8h0M419.1 227.9h0M462.6 249.3h0M425.1 238.4h0M456.8 244.8h0M441.9 243.0h0M469.0 251.7h0M450.6 247.8h0M431.2 233.7h0M434.7 234.8h0M448.1 252.0h0M431.3 236.9h0M432.9 235.1h0M445.3 222.3h0M437.3 227.1h0M454.2 236.8h0M432.6 232.4h0M442.1 240.3h0M426.4 231.0h0M407.4 219.5h0M456.3 246.6h0M459.9 248.4h0M428.6 238.4h0M444.4 246.8h0M403.2 215.2h0M443.5 230.0h0M456.2 243.1h0M436.5 217.2h0M437.3 236.5h0M446.0 225.1h0M450.1 240.7h0M461.5 248.5h0M453.6 249.7h0M451.2 227.4h0M436.8 235.2h0M452.6 236.0h0M459.4 251.9h0M459.2 248.0h0M449.7 249.7h0M443.9 227.0h0M460.4 235.6h0M425.2 222.6h0M443.8 233.3h0M433.2 221.6h0M441.6 231.3h0M420.0 212.3h0M416.7 233.2h0M463.3 242.2h0M457.2 232.6h0M464.3 248.3h0M454.8 245.5h0M460.3 241.9h0M443.5 251.9h0M467.1 252.7h0M415.4 217.3h0M437.0 241.7h0M463.6 247.5h0M458.1 249.5h0M438.4 230.8h0M461.7 241.7h0M435.9 244.5h0M424.6 219.0h0M465.6 250.3h0M436.5 232.3h0M451.7 229.0h0M413.0 217.9h0M453.1 239.8h0M432.9 232.8h0M453.6 244.4h0M447.5 238.2h0M449.6 227.1h0M443.6 235.1h0M424.0 228.6h0M445.7 251.3h0M449.2 221.9h0M454.9 239.8h0M443.2 232.9h0M463.4 250.2h0M458.1 236.9h0M431.2 233.1h0M449.0 232.3h0M414.1 218.1h0M427.0 221.3h0M465.9 251.7h0M448.2 235.0h0M435.5 235.8h0M453.3 239.8h0M440.0 232.6h0M451.4 233.8h0M406.7 220.8h0M449.3 243.1h0M437.2 234.4h0M452.8 243.7h0M434.8 239.2h0M433.8 223.6h0M420.1 221.0h0M462.2 242.6h0M418.6 233.9h0M449.4 247.4h0M442.5 230.1h0M448.2 231.3h0M444.6 244.5h0M428.4 215.9h0M447.6 247.2h0M457.3 241.8h0M440.2 237.4h0M457.9 242.7h0M425.9 219.7h0M438.4 235.6h0M451.4 240.7h0M434.5 239.2h0M465.8 252.7h0M452.0 251.5h0M429.1 235.0h0M428.4 220.1h0M440.5 242.2h0M432.6 221.6h0M437.6 228.1h0M420.5 226.8h0M461.5 238.2h0M447.9 235.7h0M445.9 246.8h0M461.6 240.2h0M448.2 228.1h0M458.3 240.1h0M453.2 241.9h0M453.5 242.1h0M424.9 220.6h0M468.7 245.5h0M431.6 219.2h0M460.5 245.4h0M417.2 221.2h0M451.6 236.4h0M443.0 233.7h0M458.6 250.8h0M432.8 225.0h0M422.4 217.5h0M429.8 233.9h0M471.0 250.9h0M426.2 231.1h0M435.3 246.6h0M468.5 249.8h0M419.8 221.3h0M461.3 244.6h0M467.3 252.3h0M417.3 222.9h0M424.2 232.0h0M454.3 250.5h0M432.1 233.2h0M420.6 230.7h0M450.9 238.2h0M427.6 228.9h0M466.6 247.1h0M448.9 235.0h0M427.6 227.1h0M444.1 234.8h0M453.0 240.6h0M454.3 228.3h0M444.8 232.4h0M410.6 218.8h0M455.7 237.8h0M451.0 246.6h0M447.3 238.5h0M441.1 242.1h0M444.8 239.6h0M434.1 236.7h0M460.6 246.3h0M435.7 232.9h0M441.2 226.1h0M450.8 242.5h0M441.3 227.2h0M447.3 223.9h0M419.9 228.0h0M466.3 254.8h0M417.2 222.3h0M469.9 247.8h0M419.9 220.3h0M433.3 235.5h0M461.6 242.5h0M447.9 236.5h0M433.3 233.4h0M414.4 232.8h0M464.7 242.2h0M446.5 230.8h0M450.3 242.8h0M439.6 234.1h0M437.7 221.7h0M456.6 242.0h0M449.9 237.3h0M467.1 244.5h0M446.4 239.6h0M414.0 225.2h0M442.0 241.6h0M435.6 240.5h0M425.7 228.7h0M448.5 233.6h0M432.7 226.0h0M445.3 244.9h0M440.4 241.5h0M422.9 230.8h0M449.8 244.5h0M447.6 245.7h0M438.3 233.9h0M405.3 218.7h0M416.2 229.6h0M437.5 234.8h0M412.5 208.3h0M436.7 240.5h0M443.1 238.5h0M458.2 237.1h0M454.2 234.9h0M430.0 224.1h0M410.0 219.5h0M428.8 234.4h0M470.3 249.0h0M415.7 215.6h0M461.9 242.0h0M412.6 222.9h0M414.7 228.6h0M443.8 239.6h0M423.5 234.9h0M444.0 220.8h0M418.9 227.2h0M444.2 239.8h0M462.6 237.9h0M412.6 224.3h0M455.1 238.0h0M453.9 231.5h0M462.4 234.8h0M458.4 248.9h0M415.8 233.4h0M434.9 239.4h0M431.9 235.8h0M425.5 219.6h0M425.7 227.1h0M428.6 227.8h0M459.6 237.2h0M440.5 224.7h0M461.2 236.8h0M441.9 245.0h0M467.2 242.7h0M413.4 229.3h0M446.7 234.3h0M437.9 243.4h0M449.9 227.0h0M450.6 236.6h0M456.3 248.2h0M445.8 236.2h0M455.4 235.0h0M431.8 243.9h0M443.8 225.3h0M432.4 224.7h0M467.6 248.4h0M436.9 223.4h0M442.8 225.9h0M463.8 245.8h0M453.8 249.7h0M445.8 246.5h0M437.0 229.9h0M434.1 239.1h0M422.6 234.2h0M428.9 237.6h0M426.8 229.3h0M420.2 222.8h0M430.8 240.8h0M457.0 241.6h0M461.5 248.6h0M435.4 242.8h0M430.3 244.1h0M439.6 235.7h0M421.5 223.4h0M450.4 243.5h0M433.1 231.2h0M441.9 238.0h0M436.4 233.8h0M451.0 243.1h0M461.5 250.3h0M432.6 241.2h0M453.5 238.2h0M437.3 246.0h0M449.4 246.3h0M453.0 238.5h0M457.9 243.7h0M424.9 221.9h0M452.3 247.2h0M428.9 231.3h0M437.6 224.1h0M450.1 236.0h0M447.2 243.4h0M445.7 235.2h0M420.5 220.4h0M450.8 244.3h0M447.5 235.5h0M418.9 233.4h0M460.5 253.5h0M439.3 222.1h0M439.0 228.9h0M440.6 234.4h0M461.2 239.0h0M443.3 242.3h0M424.4 229.1h0M436.9 238.1h0M431.1 239.1h0M439.5 232.2h0M451.5 242.6h0M455.5 229.3h0M423.7 235.3h0M449.1 241.0h0M441.8 231.8h0M439.3 226.6h0M442.3 222.4h0M444.0 240.0h0M466.3 247.7h0M457.2 246.9h0M445.8 246.1h0M466.1 250.2h0M445.1 234.6h0M445.3 250.8h0M447.9 243.0h0M446.0 239.9h0M443.7 226.8h0M458.9 239.4h0M446.7 235.2h0M437.7 236.0h0M453.4 242.4h0M426.0 227.4h0M460.0 250.5h0M439.7 231.2h0M448.8 230.4h0M443.5 235.2h0M429.2 226.7h0M431.0 240.5h0M443.0 228.4h0M448.5 227.2h0M420.5 222.2h0M438.3 236.8h0M461.6 242.5h0M442.0 228.0h0M421.1 234.7h0M457.6 231.5h0M423.1 234.6h0M468.7 253.2h0M437.2 242.9h0M444.8 237.2h0M461.0 236.5h0M465.4 245.0h0M452.0 239.2h0M410.4 219.7h0M429.9 210.2h0M435.6 233.2h0M422.3 229.4h0M423.2 237.9h0M456.3 249.5h0M410.3 219.2h0M425.0 220.5h0M442.4 233.4h0M441.2 230.7h0M455.4 247.5h0M451.6 237.6h0M447.5 243.1h0M422.3 220.4h0M451.8 245.1h0M446.3 245.5h0M445.9 233.2h0M451.9 240.8h0M434.3 225.5h0M454.3 251.2h0M440.2 233.6h0M445.6 237.2h0M426.0 235.5h0M420.6 226.3h0M440.9 239.3h0M432.5 239.5h0M450.1 233.4h0M446.8 241.0h0M427.6 236.0h0M432.0 234.3h0M439.9 236.4h0M437.7 245.4h0M465.6 244.3h0M405.4 216.7h0M455.5 235.2h0M449.9 241.9h0M468.1 255.1h0M435.6 232.8h0M441.6 220.5h0M443.6 241.1h0M429.6 236.1h0M433.7 225.7h0M430.3 229.3h0M429.5 231.1h0M424.8 222.2h0M429.8 233.2h0M426.9 230.3h0M431.8 222.2h0M424.8 205.6h0M464.7 239.5h0M437.9 244.7h0M422.1 224.6h0M459.0 235.6h0M433.3 244.6h0M438.3 240.7h0M461.0 249.1h0M426.6 230.1h0M432.0 225.5h0M445.2 239.3h0M441.8 228.2h0M450.3 249.4h0M461.8 244.0h0M463.0 243.5h0M435.8 237.4h0M442.0 230.0h0M432.6 239.5h0M468.5 242.0h0M434.1 243.8h0M424.0 232.8h0M428.0 214.6h0M462.2 234.4h0M424.7 230.5h0M452.4 234.0h0M458.9 242.7h0M462.7 246.2h0M452.4 243.4h0M444.3 236.9h0M432.4 218.8h0M455.3 230.3h0M461.2 239.9h0M444.7 235.3h0M427.4 230.9h0M453.2 248.6h0M443.3 235.2h0M444.9 233.6h0M439.0 227.0h0M420.3 225.1h0M422.8 228.2h0M449.3 243.9h0M438.0 238.7h0M446.7 253.0h0M438.5 242.6h0M459.4 249.5h0M420.3 226.8h0M427.1 220.7h0M425.1 229.6h0M444.4 232.7h0M435.4 215.9h0M449.7 240.9h0M457.7 251.0h0M426.7 232.1h0M467.1 246.7h0M450.7 234.5h0M434.9 235.7h0M413.2 232.5h0M438.5 232.3h0M445.1 230.4h0M451.8 225.4h0M421.3 226.6h0M422.4 208.8h0M437.3 242.2h0M454.7 236.9h0M460.2 250.9h0M454.4 245.4h0M413.4 229.3h0M454.2 243.3h0M430.9 229.1h0M438.1 232.3h0M433.8 242.6h0M434.1 227.8h0M462.3 247.3h0M443.5 231.0h0M468.7 243.3h0M422.6 220.6h0M439.5 243.4h0M463.1 249.2h0M459.4 244.0h0M458.7 236.0h0M448.5 239.1h0M411.4 225.6h0M411.3 227.8h0M461.8 239.8h0M429.2 234.8h0M449.9 224.3h0M456.0 243.5h0M455.4 239.2h0M435.9 235.0h0M465.0 249.9h0M446.6 227.0h0M445.9 246.8h0M411.0 216.3h0M453.7 235.9h0M430.5 236.2h0M468.6 242.0h0M423.3 231.4h0M427.4 235.2h0M415.8 231.7h0M441.0 229.7h0M432.5 221.1h0M446.7 243.2h0M429.1 232.3h0M446.2 244.0h0M455.8 232.7h0M448.6 245.7h0M451.2 239.3h0M448.3 230.3h0M428.2 226.1h0M449.6 241.4h0M414.6 224.9h0M449.6 240.7h0M443.3 233.8h0M438.1 245.0h0M443.1 237.2h0M459.2 232.3h0M428.3 217.9h0M451.1 236.1h0M465.8 244.4h0M456.4 249.4h0M435.0 239.7h0M437.6 244.4h0M449.0 250.4h0M450.4 234.7h0M463.5 245.1h0M427.3 225.4h0M435.2 246.9h0M448.1 249.1h0M438.3 244.1h0M451.4 241.8h0M426.1 230.4h0" stroke="#6e2638" stroke-width="1.3" stroke-linecap="round" fill="none" opacity="0.4"/></g>
<rect x="365.5" y="140.5" width="119.5" height="119" fill="none" stroke="#858585" stroke-width="1"/>
<g clip-path="url(#cF)"><path d="M423.9 496.5h0M443.1 508.8h0M425.5 497.4h0M446.3 492.2h0M422.5 480.7h0M428.2 487.6h0M430.8 484.5h0M385.5 448.3h0M416.7 472.1h0M392.8 465.9h0M455.1 516.4h0M405.1 462.6h0M418.8 475.5h0M413.2 478.6h0M413.3 477.0h0M464.6 522.5h0M465.9 509.5h0M430.3 490.2h0M414.5 469.9h0M408.9 469.9h0M420.6 484.4h0M431.5 485.9h0M414.7 477.8h0M397.9 456.5h0M445.6 515.7h0M439.3 501.3h0M421.7 487.9h0M459.7 521.9h0M426.9 487.7h0M467.1 527.1h0M420.1 472.8h0M423.2 486.5h0M405.6 466.2h0M436.9 510.8h0M406.7 470.8h0M423.6 498.6h0M416.6 491.7h0M400.9 463.4h0M477.8 536.3h0M447.8 509.9h0M410.8 479.3h0M441.2 504.1h0M424.9 494.8h0M410.9 469.6h0M464.9 530.4h0M437.5 507.1h0M433.0 500.4h0M432.0 497.1h0M436.0 500.8h0M437.2 504.3h0M426.9 488.8h0M422.0 491.1h0M425.7 484.0h0M373.2 453.3h0M415.5 478.8h0M453.6 512.0h0M464.1 517.6h0M428.9 485.1h0M399.9 463.4h0M447.3 507.6h0M397.0 465.6h0M396.8 454.9h0M390.1 442.9h0M468.7 530.0h0M422.4 483.1h0M401.0 460.7h0M440.9 505.1h0M404.7 464.7h0M402.2 461.9h0M438.5 495.9h0M459.6 523.8h0M400.4 462.4h0M424.6 474.6h0M392.4 459.4h0M442.9 505.2h0M424.0 489.6h0M417.3 489.8h0M404.0 456.2h0M459.4 516.9h0M415.6 470.6h0M448.2 512.3h0M453.0 510.1h0M394.5 448.7h0M408.6 482.1h0M426.6 487.3h0M391.7 454.7h0M413.6 482.2h0M422.2 494.6h0M384.2 433.8h0M410.8 474.9h0M424.6 492.4h0M404.2 473.1h0M407.4 464.0h0M386.6 443.5h0M419.1 482.5h0M424.2 486.9h0M418.0 477.6h0M454.9 514.9h0M420.1 481.3h0M410.2 469.6h0M461.2 527.6h0M438.8 497.7h0M450.1 506.9h0M452.9 513.8h0M407.8 467.6h0M392.3 460.0h0M461.6 523.6h0M399.1 475.3h0M454.6 527.4h0M401.5 466.5h0M436.5 503.0h0M400.0 461.1h0M422.3 476.0h0M437.2 505.8h0M384.6 449.8h0M429.6 509.2h0M437.2 499.8h0M403.3 475.2h0M435.2 501.5h0M418.3 473.4h0M433.7 488.9h0M403.4 472.9h0M413.0 466.4h0M390.8 449.1h0M424.9 499.3h0M418.2 473.6h0M400.8 465.8h0M453.5 531.7h0M415.1 487.9h0M413.8 481.2h0M404.9 460.9h0M436.5 512.7h0M422.1 488.0h0M399.6 460.9h0M417.8 472.3h0M442.0 490.3h0M421.3 486.4h0M450.3 511.3h0M451.3 503.5h0M470.8 542.7h0M403.2 466.1h0M421.2 479.2h0M415.7 474.7h0M412.3 478.0h0M420.0 486.0h0M414.8 470.3h0M439.0 509.0h0M390.7 449.7h0M425.1 480.6h0M436.1 498.5h0M444.7 508.8h0M415.8 486.0h0M425.5 493.0h0M429.6 476.7h0M436.8 491.5h0M413.3 480.7h0M436.9 502.2h0M456.8 514.6h0M473.2 535.3h0M406.6 479.3h0M449.4 496.9h0M422.8 494.0h0M427.1 497.4h0M411.8 469.3h0M424.4 485.1h0M433.1 498.7h0M421.0 483.9h0M409.3 473.9h0M446.4 518.8h0M426.0 484.2h0M415.1 477.0h0M419.6 485.0h0M417.0 476.0h0M402.5 463.4h0M428.2 501.3h0M422.2 470.2h0M389.3 451.5h0M447.1 507.3h0M416.1 470.0h0M386.1 444.5h0M417.1 481.8h0M400.1 466.9h0M427.4 484.7h0M389.0 453.8h0M404.8 476.3h0M379.4 440.3h0M383.8 448.8h0M420.4 486.0h0M403.6 469.4h0M460.0 518.2h0M397.5 466.9h0M422.0 487.7h0M382.1 454.9h0M452.9 523.2h0M423.6 480.1h0M378.2 446.1h0M420.4 492.5h0M403.9 472.7h0M473.0 536.7h0M447.6 508.9h0M395.8 466.2h0M439.7 497.9h0M428.3 497.4h0M410.6 473.4h0M414.0 471.4h0M414.8 474.2h0M397.9 455.1h0M425.0 491.3h0M410.0 467.1h0M417.8 479.4h0M411.9 472.1h0M400.8 464.7h0M463.2 535.5h0M432.1 484.9h0M434.7 501.0h0M419.6 480.5h0M403.1 463.5h0M372.7 443.1h0M379.9 450.3h0M436.0 497.7h0M387.0 445.5h0M419.0 484.9h0M411.3 486.3h0M463.3 523.6h0M380.5 448.4h0M446.5 507.1h0M448.3 517.9h0M430.0 486.4h0M394.3 460.0h0M450.8 513.1h0M419.6 490.7h0M439.2 493.2h0M426.3 478.1h0M442.5 516.8h0M432.1 502.9h0M396.4 458.0h0M404.3 454.2h0M396.5 463.3h0M430.5 510.8h0M436.2 497.0h0M428.3 488.4h0M417.4 473.7h0M404.3 468.8h0M428.7 491.1h0M445.6 498.8h0M441.4 500.0h0M456.4 527.7h0M466.1 523.4h0M410.4 473.7h0M454.3 523.9h0M433.9 484.4h0M427.3 494.0h0M437.6 493.1h0M414.8 462.4h0M403.0 466.1h0M427.2 478.3h0M412.3 472.2h0M433.8 500.6h0M425.3 494.2h0M411.6 473.5h0M402.2 468.6h0M435.0 505.8h0M403.9 457.9h0M391.0 462.7h0M428.0 489.5h0M425.5 488.2h0M402.6 464.8h0M402.7 461.5h0M404.0 461.8h0M426.4 492.5h0M433.0 491.5h0M438.5 504.9h0M415.0 481.8h0M400.2 456.8h0M438.8 499.7h0M459.6 523.9h0M393.2 457.7h0M439.1 501.8h0M418.4 477.9h0M418.5 478.7h0M412.7 476.3h0M396.2 464.8h0M389.2 437.3h0M432.7 492.1h0M396.9 454.6h0M409.8 465.5h0M412.6 470.7h0M418.5 488.5h0M406.2 474.3h0M418.8 476.4h0M415.0 466.5h0M425.1 490.2h0M427.4 493.1h0M460.3 516.5h0M433.4 497.6h0M405.0 468.9h0M431.9 499.2h0M444.6 504.6h0M404.9 469.4h0M407.7 467.6h0M456.0 522.0h0M421.9 488.3h0M453.4 517.6h0M384.2 442.0h0M425.1 493.4h0M401.4 459.5h0M423.5 488.1h0M393.2 470.4h0M442.8 501.7h0M417.3 469.8h0M420.0 475.3h0M433.5 494.3h0M409.9 471.1h0M419.1 465.5h0M458.0 508.6h0M415.8 482.9h0M431.1 484.0h0M430.6 498.0h0M419.2 489.6h0M444.0 486.1h0M465.4 534.1h0M447.3 511.2h0M387.9 445.4h0M399.9 460.1h0M394.3 456.7h0M401.6 453.9h0M420.3 491.9h0M428.0 498.2h0M468.7 543.8h0M402.1 465.5h0M402.8 469.9h0M419.3 494.9h0M447.6 510.9h0M416.5 474.0h0M393.7 464.0h0M437.1 508.3h0M416.8 474.9h0M460.1 521.5h0M463.9 530.8h0M465.8 533.0h0M434.4 492.1h0M436.3 510.7h0M389.3 446.4h0M428.5 496.0h0M414.8 470.3h0M447.9 507.6h0M409.2 466.7h0M414.3 477.2h0M399.6 461.5h0M464.1 530.6h0M423.1 485.6h0M392.8 459.5h0M407.6 475.3h0M390.4 447.6h0M449.2 514.2h0M448.7 515.9h0M421.6 488.8h0M425.7 491.8h0M386.1 443.7h0M459.5 522.0h0M418.8 481.4h0M468.6 537.3h0M409.8 464.0h0M435.1 491.4h0M443.0 503.9h0M439.4 503.4h0M419.7 477.4h0M448.1 509.1h0M432.6 490.0h0M419.1 484.7h0M401.8 449.0h0M451.6 515.7h0M423.4 481.1h0M431.9 494.9h0M418.0 481.3h0M439.0 481.6h0M407.4 476.4h0M459.1 534.7h0M434.1 502.5h0M424.0 492.7h0M434.8 501.6h0M394.0 465.4h0M439.5 493.6h0M418.3 479.6h0M413.1 468.4h0M400.5 467.4h0M402.8 465.6h0M426.3 500.1h0M420.2 483.3h0M401.5 461.2h0M430.9 492.5h0M426.2 483.5h0M424.8 473.2h0M455.7 519.9h0M415.3 474.1h0M389.2 446.3h0M427.7 482.5h0M395.7 456.9h0M444.0 500.4h0M433.1 497.9h0M413.4 473.4h0M433.4 494.2h0M415.9 466.7h0M407.8 471.4h0M374.0 439.1h0M412.1 469.6h0M460.5 529.5h0M388.4 453.8h0M419.6 478.7h0M394.6 473.9h0M428.2 499.4h0M394.9 465.7h0M415.9 480.6h0M428.3 493.7h0M411.1 465.8h0M417.2 477.3h0M414.6 476.7h0M430.1 497.7h0M436.8 496.5h0M440.9 498.5h0M426.3 496.9h0M395.6 456.9h0M406.7 474.5h0M431.9 495.5h0M423.1 481.2h0M440.8 504.1h0M398.0 441.6h0M395.2 462.4h0M397.8 462.3h0M422.9 493.3h0M405.4 465.0h0M391.6 465.5h0M423.7 494.5h0M416.0 465.7h0M400.0 448.5h0M428.8 493.2h0M422.0 474.6h0M431.9 493.7h0M433.9 495.6h0M406.5 465.5h0M407.5 479.2h0M414.7 480.3h0M433.6 500.9h0M417.9 481.5h0M434.2 517.8h0M402.0 472.0h0M422.0 479.4h0M448.5 516.3h0M389.0 443.9h0M390.3 449.2h0M436.3 498.9h0M442.3 496.2h0M449.3 500.4h0M443.9 499.0h0M442.3 509.5h0M417.5 460.1h0M418.1 484.2h0M440.3 488.9h0M393.8 448.7h0M391.5 447.9h0M403.2 469.2h0M443.0 506.5h0M441.4 497.2h0M391.2 447.2h0M405.4 468.2h0M402.8 471.2h0M420.4 484.3h0M424.6 486.1h0M420.5 480.8h0M392.3 463.5h0M448.2 506.3h0M445.6 506.1h0M393.7 456.4h0M411.1 481.4h0M450.6 502.6h0M424.4 493.5h0M426.6 497.0h0M408.3 471.3h0M459.7 511.0h0M396.6 452.1h0M441.7 504.1h0M460.2 526.7h0M406.3 458.7h0M452.0 514.3h0M436.8 504.9h0M406.6 463.9h0M424.6 484.7h0M454.7 515.7h0M414.3 466.0h0M410.6 469.5h0M378.2 442.7h0M413.6 469.5h0M421.2 474.1h0M435.4 494.9h0M443.4 500.7h0M464.0 532.7h0M438.3 497.5h0M435.8 503.0h0M452.1 515.6h0M400.6 462.5h0M429.4 494.8h0M439.1 509.7h0M445.8 503.1h0M407.6 473.1h0M419.0 481.4h0M390.5 450.9h0M428.6 490.4h0M397.2 454.4h0M442.3 507.2h0M426.1 488.7h0M434.6 502.3h0M429.1 502.0h0M434.3 490.3h0M432.7 509.1h0M418.2 487.6h0M386.2 438.0h0M450.7 513.7h0M403.0 463.8h0M437.8 509.1h0M436.5 492.7h0M423.3 497.4h0M427.9 482.8h0M428.1 488.1h0M427.2 485.3h0M425.1 478.7h0M421.3 475.5h0M429.3 487.8h0M435.4 496.5h0M412.3 469.5h0M429.2 485.2h0M397.7 440.2h0M402.0 460.8h0M373.0 445.1h0M408.1 480.9h0M425.0 495.4h0M437.9 498.3h0M386.7 450.1h0M441.1 500.7h0M397.6 454.9h0M410.0 472.4h0M404.8 472.9h0M458.7 519.7h0M426.4 484.2h0M469.3 534.2h0M448.4 501.8h0M411.2 478.6h0M426.0 495.5h0M447.8 519.9h0M397.2 463.1h0M411.0 468.2h0M420.2 480.6h0M416.0 471.2h0M413.1 476.8h0M452.5 531.8h0M427.2 482.9h0M410.6 476.5h0M406.4 477.1h0M392.3 445.3h0M431.7 509.3h0M407.9 464.5h0M429.6 495.1h0M403.5 470.9h0M389.1 454.7h0M410.1 469.8h0M431.9 490.1h0M414.6 460.0h0M436.7 496.3h0M432.0 503.6h0M436.1 493.6h0M430.1 497.0h0M418.1 484.9h0M404.2 466.4h0M393.2 449.6h0M384.4 440.2h0M409.8 470.8h0M442.0 493.1h0M415.1 486.5h0M399.5 452.9h0M443.5 502.7h0M399.5 455.9h0M393.8 452.1h0M395.7 458.8h0M400.3 469.4h0M417.2 480.7h0M385.5 456.3h0M383.5 440.6h0M427.6 494.9h0M423.1 490.9h0M430.4 494.1h0M435.1 502.8h0M424.6 479.8h0M456.7 530.4h0M412.2 479.4h0M417.9 481.0h0M451.4 513.1h0M426.1 494.4h0M419.9 474.4h0M416.9 484.0h0M389.2 455.8h0M426.6 506.6h0M415.0 476.2h0M425.3 497.3h0M448.5 516.9h0M443.5 495.9h0M430.5 484.2h0M430.7 489.8h0M418.9 489.0h0M454.1 528.6h0M376.6 434.2h0M407.8 472.2h0M400.1 462.5h0M438.3 484.3h0M411.8 481.0h0M417.3 489.1h0M472.5 522.4h0M429.7 485.8h0M440.2 503.0h0M410.9 471.9h0M400.5 468.7h0M392.4 460.9h0M455.2 515.7h0M392.0 457.1h0M411.4 468.4h0M474.7 538.1h0M428.2 492.5h0M419.2 485.1h0M417.1 474.6h0M386.8 460.1h0M428.2 492.3h0M443.9 507.6h0M396.8 462.8h0M411.1 468.2h0M457.5 524.3h0M420.2 465.1h0M443.6 495.2h0M474.5 537.6h0M401.9 459.5h0M419.6 479.2h0M401.4 457.8h0M446.5 518.8h0M436.0 495.6h0M410.0 478.7h0M429.4 494.8h0M410.7 463.8h0M391.4 442.2h0M405.2 466.7h0M398.8 467.1h0M400.1 454.5h0M452.2 501.8h0M396.8 464.2h0M390.5 458.8h0M425.0 485.9h0M426.9 497.1h0M451.6 530.0h0M429.3 486.1h0M389.2 446.7h0M400.3 458.5h0M438.3 509.2h0M407.5 462.8h0M432.1 492.8h0M459.0 532.6h0M382.0 448.8h0M381.0 448.0h0M418.2 473.9h0M417.5 482.7h0M442.5 502.1h0M378.9 444.8h0M432.1 498.6h0M411.5 478.1h0M380.6 439.1h0M413.3 476.2h0M429.7 495.2h0M462.4 525.9h0M403.7 467.2h0M439.6 496.3h0M392.6 444.9h0M450.6 502.9h0M422.3 483.7h0M453.7 524.0h0M386.6 449.7h0M399.7 446.9h0M378.3 440.7h0M461.3 526.5h0M409.3 469.8h0M376.0 437.0h0M400.1 465.1h0M434.7 507.4h0M430.3 502.0h0M423.1 498.9h0M386.2 450.4h0M417.5 475.5h0M368.2 436.5h0M388.2 440.0h0M430.6 499.5h0M444.0 500.8h0M416.0 474.1h0M372.3 440.1h0M398.9 455.6h0M406.7 475.6h0M454.8 523.8h0M404.7 465.1h0M382.3 447.4h0M389.3 453.9h0M398.5 460.5h0M408.7 466.0h0M410.4 478.0h0M467.7 530.9h0M405.7 466.7h0M443.9 507.1h0M400.0 462.9h0M400.1 463.3h0M404.8 468.1h0M426.2 490.0h0M417.6 489.4h0M431.9 491.8h0M412.7 471.6h0M424.9 479.0h0M401.5 446.6h0M391.6 456.8h0M403.0 467.6h0M403.5 474.7h0M383.5 433.5h0M393.0 448.3h0M450.4 510.8h0M440.1 517.2h0M454.5 525.5h0M447.1 510.0h0M440.3 503.9h0M459.2 526.2h0M438.4 494.2h0M410.3 474.3h0M416.0 470.7h0M426.7 490.2h0M427.1 494.6h0M415.0 478.9h0M413.8 470.9h0M419.4 479.7h0M397.8 464.1h0M474.7 537.0h0M436.5 490.5h0M442.3 502.4h0M400.8 460.4h0M414.4 476.2h0M421.2 481.1h0M442.3 503.5h0M415.8 484.0h0M424.7 491.1h0M413.5 481.8h0M475.0 541.2h0M420.3 479.8h0M397.7 460.5h0M393.9 444.3h0M424.2 478.8h0M406.4 473.4h0M426.0 485.1h0M432.8 491.1h0M396.2 449.2h0M420.2 485.3h0M406.9 459.9h0M399.2 468.2h0M396.8 458.6h0M420.3 470.3h0M404.8 462.3h0M406.8 461.0h0M409.7 474.7h0M387.3 450.7h0M453.2 513.9h0M437.3 496.0h0M409.5 473.8h0M429.3 487.6h0M393.1 462.4h0M424.7 482.4h0M382.5 444.4h0M425.2 474.0h0M421.5 486.1h0M413.4 470.6h0M436.5 501.3h0M397.0 465.0h0M423.6 484.5h0M441.8 487.9h0M439.5 488.6h0M419.2 481.5h0M462.6 521.0h0M442.8 498.1h0M432.1 501.6h0M403.7 462.8h0M418.7 486.8h0M404.2 471.2h0M470.1 532.4h0M428.6 491.8h0M406.1 458.8h0M439.2 504.9h0M446.5 509.6h0M401.1 472.4h0M421.4 488.9h0M480.1 544.4h0M423.5 480.7h0M429.4 490.1h0M417.5 484.0h0M388.6 455.1h0M401.8 453.9h0M427.1 482.0h0M437.6 502.5h0M403.5 455.7h0M439.8 490.5h0M416.2 475.3h0M409.8 467.5h0M400.1 458.1h0M449.0 507.9h0M414.5 479.0h0M385.8 451.1h0M393.8 458.6h0M410.2 469.2h0M386.4 443.6h0M410.0 466.2h0M449.9 508.4h0M440.9 502.6h0M444.5 506.4h0M444.2 505.8h0M423.0 486.2h0M426.1 493.8h0M380.9 435.5h0M438.9 500.0h0M433.2 499.3h0M425.1 488.3h0M428.3 484.8h0M398.4 450.5h0M406.6 471.7h0M386.1 438.2h0M407.2 470.7h0M417.4 471.9h0M398.7 470.8h0M451.3 507.8h0M394.0 466.2h0M425.4 492.5h0M420.2 491.3h0M411.6 481.2h0M431.5 497.6h0M430.3 490.7h0M402.6 479.9h0M452.7 513.8h0M416.0 478.8h0M439.4 493.3h0M395.4 455.6h0M396.2 460.5h0M426.5 484.0h0M474.6 541.0h0M390.9 448.9h0M392.8 450.6h0M399.6 464.5h0M406.6 473.6h0M424.1 481.2h0M450.7 502.8h0M414.5 479.2h0M437.9 493.5h0M422.2 481.2h0M409.3 464.9h0M405.2 472.9h0M424.4 501.5h0M426.5 484.8h0M444.5 522.7h0M424.4 487.7h0M418.6 478.1h0M389.4 456.8h0M395.7 469.0h0M429.9 490.8h0M429.0 489.3h0M453.4 530.1h0M402.7 469.4h0M445.5 489.9h0M419.3 480.0h0M395.1 451.3h0M426.3 489.4h0M413.7 471.9h0M406.2 464.4h0M439.9 517.2h0M421.0 471.8h0M427.0 490.4h0M436.9 503.8h0M414.8 466.4h0M440.0 495.4h0M400.9 453.8h0M387.2 452.7h0M450.8 507.3h0M450.0 517.2h0M442.2 497.2h0M407.0 459.4h0M411.1 475.3h0M395.7 461.5h0M403.0 454.5h0M427.3 482.6h0M408.6 471.3h0M451.5 508.6h0M387.5 439.1h0M412.0 465.7h0M390.6 452.5h0M398.5 440.9h0M459.1 535.3h0M452.5 527.2h0M426.2 496.9h0M433.8 494.9h0M437.1 495.3h0M419.6 484.8h0M436.0 494.5h0M451.0 520.2h0M441.2 501.2h0M428.3 488.8h0M431.8 488.5h0M436.4 499.8h0M403.5 468.2h0M463.9 528.5h0M414.9 473.8h0M397.8 458.2h0M460.0 532.7h0M420.2 488.0h0M426.2 491.7h0M450.8 510.1h0M474.2 536.2h0M417.4 482.2h0M423.8 483.0h0M388.9 443.8h0M415.9 486.7h0M459.7 524.7h0M400.7 462.7h0M400.1 456.4h0M378.1 439.0h0M386.3 451.3h0M387.2 448.6h0M425.3 477.1h0M428.4 487.3h0M429.4 493.2h0M447.7 518.0h0M441.4 502.3h0M401.9 461.9h0M436.7 505.6h0M407.9 468.3h0M390.1 455.6h0M392.0 439.7h0M387.3 440.2h0M408.7 475.8h0M431.7 499.5h0M373.9 437.7h0M445.0 514.5h0M400.8 453.4h0M468.1 543.7h0M426.4 494.3h0M389.5 440.9h0M447.0 501.1h0M443.3 509.0h0M381.0 435.2h0M412.0 476.4h0M454.1 515.8h0M388.2 437.2h0M433.2 489.7h0M429.4 488.8h0M467.2 531.5h0M449.1 517.8h0M412.6 469.0h0M383.7 446.0h0M412.3 471.6h0M422.7 483.4h0M427.3 473.3h0M411.1 468.4h0M401.8 452.1h0M448.4 516.2h0M406.9 474.9h0M400.4 463.5h0M418.0 493.5h0M422.4 485.8h0M416.7 483.6h0M450.2 511.2h0M394.1 456.3h0M429.9 484.9h0M445.7 506.6h0M405.4 472.9h0M423.6 485.2h0M437.0 497.2h0M433.2 494.6h0M418.8 483.6h0M385.5 454.1h0M403.5 453.4h0M420.7 481.9h0M413.5 473.5h0M413.6 472.9h0M407.4 467.8h0M376.4 438.5h0M431.0 501.2h0M400.6 448.9h0M462.5 518.4h0M444.5 497.4h0M430.1 495.2h0M407.9 462.6h0M397.1 455.9h0M414.5 467.4h0M448.0 504.8h0M411.9 491.4h0M382.2 438.7h0M434.9 507.0h0M408.4 468.6h0M438.2 505.0h0M423.4 479.3h0M399.7 463.0h0M411.1 468.1h0M448.1 491.4h0M415.7 458.4h0M453.3 515.8h0M399.1 463.5h0M457.9 516.1h0M392.1 444.0h0M396.2 451.9h0M429.2 502.3h0M463.2 514.3h0M411.0 476.1h0M435.6 505.7h0M402.7 453.3h0M399.3 452.5h0M422.4 480.8h0M474.7 534.6h0M410.6 477.6h0M381.4 440.5h0M417.0 480.4h0M430.7 500.9h0M412.6 470.7h0M426.9 482.7h0M397.9 464.1h0M444.4 519.1h0M426.5 498.9h0M383.2 447.6h0M405.3 464.4h0M446.2 514.9h0M416.7 481.8h0M409.8 470.4h0M403.3 471.0h0M434.5 488.3h0M450.2 518.7h0M409.0 463.0h0M396.6 457.6h0M413.7 474.0h0M405.4 469.4h0M418.3 476.4h0M432.2 492.2h0M381.6 437.3h0M411.7 469.5h0M469.0 524.0h0M412.9 477.8h0M422.7 480.6h0M425.0 489.6h0M397.9 458.2h0M382.5 444.8h0M471.3 540.5h0M423.0 476.0h0M393.6 452.9h0M438.6 503.0h0M410.4 466.8h0M397.4 453.2h0M404.0 467.3h0M380.3 448.4h0M391.1 454.8h0M437.2 505.0h0M419.3 483.4h0M404.4 478.5h0M449.3 513.4h0M431.8 500.7h0M396.2 479.9h0M380.4 442.3h0M404.5 465.3h0M454.1 507.4h0M400.5 449.9h0M462.8 542.3h0M412.2 474.0h0M387.6 441.2h0M408.3 466.0h0M456.7 513.2h0M402.6 463.3h0M430.9 489.0h0M433.7 500.5h0M398.9 469.8h0M441.8 508.5h0M452.2 516.6h0M437.0 500.2h0M369.9 438.1h0M429.8 483.2h0M439.1 495.6h0M441.6 501.1h0M466.7 523.4h0M423.4 489.1h0M420.5 479.8h0M387.6 451.2h0M445.9 508.9h0M388.5 451.3h0M412.2 473.6h0M378.7 434.3h0M414.6 468.8h0M386.5 449.5h0M432.6 488.9h0M412.4 481.0h0M425.5 489.6h0M380.4 439.6h0M415.6 471.7h0M432.8 507.0h0M400.8 465.3h0M417.5 474.9h0M433.7 504.6h0M430.8 496.4h0M429.3 499.2h0M423.0 491.0h0M437.2 499.5h0M416.8 472.6h0M414.7 476.9h0M391.2 447.0h0M413.9 473.0h0M405.5 478.5h0M452.3 523.1h0M389.3 451.7h0M421.8 488.8h0M407.6 475.3h0M418.2 482.0h0M444.4 508.0h0M415.8 478.8h0M393.6 457.7h0M413.4 489.6h0M445.6 501.9h0M425.6 488.9h0M437.1 497.1h0M376.6 452.7h0M442.8 503.2h0M402.0 472.1h0M386.6 451.3h0M424.4 490.7h0M379.5 446.9h0M423.6 489.4h0M458.2 521.3h0M398.2 472.5h0M400.6 454.1h0M452.0 504.0h0M437.0 495.5h0M437.2 505.8h0M397.4 459.4h0M460.7 532.5h0M395.8 461.8h0M405.8 470.5h0M417.6 487.8h0M423.5 486.9h0M410.0 479.7h0M426.5 500.2h0M386.0 454.3h0M441.5 506.4h0M444.8 517.5h0M388.1 455.4h0M418.7 487.5h0M457.0 525.0h0M464.3 522.5h0M443.7 505.0h0M402.6 471.0h0M424.3 496.6h0M446.0 512.6h0M449.0 518.1h0M440.7 510.5h0M444.9 516.1h0M464.3 524.3h0M452.1 519.0h0M462.8 524.2h0M467.8 532.0h0M445.7 510.0h0M455.9 525.4h0M459.3 525.0h0M460.9 525.4h0M459.6 534.3h0M463.3 532.7h0M468.1 520.7h0M449.7 517.2h0M466.4 530.1h0M469.2 540.6h0M447.6 517.3h0M451.0 527.3h0M460.9 524.6h0M452.1 523.1h0M459.5 524.3h0M461.6 523.3h0M470.0 526.6h0M454.3 521.5h0M451.6 526.4h0M470.9 536.6h0M461.0 534.3h0M454.1 520.0h0M446.7 516.7h0M457.6 522.2h0M459.1 528.7h0M459.1 518.3h0M445.7 515.1h0M442.7 519.5h0M449.0 521.2h0M458.9 521.2h0M465.1 519.1h0M463.8 531.6h0M456.0 513.9h0M451.7 516.0h0M442.0 512.7h0M457.5 508.1h0M455.9 519.8h0M455.2 519.6h0M452.8 523.0h0M456.5 525.0h0M448.4 524.5h0M445.5 512.9h0M455.4 525.7h0M465.6 518.7h0M451.2 516.3h0M479.3 545.4h0M440.0 503.5h0M442.8 514.0h0M456.7 514.1h0M461.2 510.0h0M444.1 520.7h0M458.5 523.3h0M465.1 529.2h0M455.2 530.4h0M455.1 526.1h0M466.2 534.3h0M445.2 511.8h0M452.6 522.9h0M459.9 519.9h0M453.7 520.0h0M448.4 527.3h0M452.9 522.2h0M450.9 518.2h0M441.6 519.3h0M448.1 514.8h0M448.5 524.6h0M457.7 526.0h0M460.2 525.2h0M459.6 528.7h0M438.8 504.9h0M454.5 511.0h0M441.2 519.5h0M454.1 523.4h0M448.6 528.6h0M455.6 516.6h0M463.7 528.0h0M456.9 514.5h0M457.2 522.2h0M457.3 527.7h0M452.0 531.6h0M455.2 518.0h0M466.1 531.0h0M457.3 530.1h0M460.5 530.5h0M459.6 521.6h0M458.7 521.9h0M452.9 514.0h0M438.9 511.2h0M450.2 511.6h0M446.6 509.2h0M451.6 525.0h0M448.1 509.2h0M448.9 521.0h0M454.4 510.5h0M458.0 519.8h0M449.9 524.5h0M463.0 533.7h0M464.9 525.6h0M470.2 529.7h0M462.1 517.5h0M442.8 509.5h0M463.3 528.2h0M467.9 537.1h0M453.5 518.5h0M456.0 540.7h0M450.6 524.3h0M461.9 518.0h0M454.3 521.6h0M456.1 513.5h0M452.1 519.0h0M445.3 507.9h0M456.2 523.6h0M458.0 521.7h0M467.7 520.6h0M453.6 523.2h0M465.0 519.2h0M474.0 535.5h0M465.1 526.8h0M454.5 521.2h0M461.8 519.9h0M456.7 521.3h0M464.3 531.5h0M446.1 523.8h0M465.3 527.5h0M457.8 525.6h0M436.1 504.2h0M459.7 524.6h0M451.5 518.1h0M446.5 517.9h0M458.1 519.6h0M467.7 515.2h0M473.2 539.0h0M455.4 523.1h0M448.4 516.8h0M453.4 522.4h0M455.1 528.8h0M449.4 515.0h0M456.4 518.1h0M449.0 506.3h0M452.1 508.5h0M449.8 521.4h0M462.9 525.3h0M452.7 512.5h0M445.2 519.9h0M459.8 516.9h0M446.3 516.8h0M455.7 514.5h0M451.6 513.2h0M469.2 532.8h0M451.5 519.3h0M466.4 530.8h0M453.7 525.4h0M469.9 532.8h0M443.1 520.0h0M458.5 521.7h0M446.2 498.2h0M467.9 528.2h0M463.4 523.2h0M452.6 519.8h0M474.2 532.3h0M471.2 546.4h0M469.3 530.0h0M468.4 531.8h0M452.7 525.3h0M457.9 509.0h0M438.8 516.9h0M466.1 526.7h0M450.1 501.7h0M449.6 524.8h0M468.2 533.6h0M464.6 518.7h0M445.5 514.2h0M444.8 520.2h0M459.0 536.1h0M446.9 515.6h0M456.4 515.1h0M448.5 509.5h0M452.8 523.7h0M450.3 518.4h0M463.9 528.3h0M444.4 518.8h0M457.6 514.4h0M434.5 509.0h0M468.6 527.9h0M465.9 529.0h0M454.5 519.2h0M454.3 525.2h0M454.8 528.7h0M468.6 524.6h0M448.2 506.4h0M452.4 512.7h0M471.7 538.0h0M466.6 527.7h0M463.8 522.5h0M451.0 526.6h0M459.2 530.1h0M461.9 528.3h0M458.7 531.1h0M449.7 513.0h0M461.6 516.9h0M465.2 518.7h0M456.0 525.9h0M449.3 513.7h0M454.9 519.7h0M453.1 511.2h0M452.7 519.0h0M456.7 524.1h0M455.1 530.3h0M455.5 530.1h0M465.0 527.3h0M450.6 528.7h0M444.4 515.3h0M451.1 527.0h0M453.6 517.9h0M441.0 512.3h0M457.3 512.1h0M454.6 528.6h0M465.5 527.1h0M453.7 522.2h0M449.0 509.2h0M455.6 521.4h0M450.8 516.5h0M469.0 527.0h0M447.0 512.8h0M458.3 531.2h0M454.1 520.3h0M454.5 528.3h0M443.1 523.7h0M459.0 526.0h0M451.0 526.1h0M454.0 521.0h0M452.7 510.1h0M449.4 520.1h0M447.5 503.8h0M459.2 525.8h0M445.9 526.8h0M468.4 530.6h0M449.7 506.9h0M467.8 532.4h0M457.5 526.5h0M449.9 521.0h0M461.3 523.6h0M449.6 510.3h0M444.6 513.4h0M464.4 530.6h0M438.9 510.0h0M458.9 519.3h0M460.2 536.4h0M455.8 523.5h0M465.1 531.6h0M460.2 515.0h0M452.6 515.7h0M464.2 530.2h0M458.0 532.0h0M454.8 521.7h0M468.9 529.0h0M453.2 508.9h0M459.9 532.4h0M457.4 515.1h0M451.4 529.0h0M455.8 523.4h0M459.1 521.6h0M462.5 523.2h0M460.7 536.8h0M466.1 531.9h0M456.1 523.1h0M463.6 516.0h0M449.0 515.0h0M470.9 531.0h0M470.4 521.6h0M452.8 516.5h0M457.9 522.8h0M470.7 529.2h0M441.6 525.6h0M462.2 520.3h0M459.3 519.0h0M453.3 520.6h0M455.6 523.5h0M441.8 507.9h0M463.8 528.4h0M447.7 523.4h0M459.9 520.2h0M453.3 505.5h0M475.5 535.9h0M460.6 525.7h0M442.9 507.6h0M445.0 523.6h0M454.2 519.0h0M451.2 513.0h0M448.9 509.9h0M450.2 509.3h0M447.8 517.6h0M461.4 519.1h0M452.8 527.8h0M468.0 528.2h0M457.3 518.3h0M440.7 505.0h0M460.8 515.3h0M462.9 530.2h0M448.1 512.7h0M452.5 527.2h0M455.6 526.4h0M457.7 506.3h0M453.3 521.2h0M452.7 510.8h0M469.2 529.3h0M463.4 523.8h0M449.3 528.4h0M462.2 525.4h0M460.5 526.7h0M447.0 518.1h0M440.7 517.6h0M447.7 509.7h0M447.0 512.6h0M460.6 528.5h0M463.1 530.1h0M467.0 532.3h0M451.1 508.0h0M457.8 519.9h0M467.1 528.2h0M471.6 531.7h0M455.7 517.4h0M453.8 518.6h0M455.8 516.6h0M460.4 523.6h0M458.3 530.4h0M460.1 531.3h0M456.5 515.1h0M472.3 526.7h0M440.4 522.2h0M461.0 525.7h0M459.0 537.3h0M463.8 529.8h0M452.8 530.6h0M452.0 520.2h0M455.9 520.9h0M453.3 514.5h0M452.2 516.1h0M452.7 511.4h0M462.5 530.9h0M448.4 512.8h0M449.6 518.2h0M463.3 533.5h0M462.7 521.2h0M466.7 535.6h0M466.6 533.6h0M455.4 528.4h0M457.9 535.3h0M450.2 512.2h0M465.4 517.0h0M468.3 534.8h0M459.7 525.2h0M461.9 521.0h0M473.2 543.5h0M462.8 527.3h0M444.5 513.3h0M468.7 526.6h0M438.7 504.1h0M460.6 525.1h0M459.9 524.2h0M450.0 521.7h0M453.4 514.3h0M455.1 517.6h0M472.2 544.8h0M454.5 509.0h0M448.7 518.2h0M457.8 518.4h0M462.0 511.8h0M463.2 539.4h0M453.1 529.7h0M455.3 521.2h0M465.3 524.4h0M465.0 518.8h0M454.4 521.7h0M449.3 524.6h0M461.1 516.2h0M456.0 520.8h0M448.5 523.9h0M453.6 524.1h0M466.0 531.0h0M441.1 519.2h0M463.9 520.9h0M459.9 529.2h0M452.5 524.7h0M461.3 517.5h0M466.2 529.0h0M455.5 517.6h0M451.0 535.3h0M460.7 525.9h0M458.5 523.2h0M460.2 521.9h0M453.3 536.4h0M459.5 539.3h0M452.7 511.4h0M466.4 527.4h0M450.1 518.9h0M450.1 516.2h0M456.6 524.7h0M460.5 521.2h0M451.5 503.4h0M467.1 534.7h0M457.0 515.7h0M452.1 535.5h0M458.6 525.7h0M459.8 527.5h0M455.7 524.1h0M460.9 522.5h0M456.4 523.4h0M458.2 516.1h0M464.1 530.5h0M456.0 524.9h0M458.9 524.9h0M462.7 509.1h0M450.3 519.3h0M460.5 521.0h0M443.8 514.8h0M465.9 533.1h0M454.1 519.3h0M452.8 521.3h0M455.6 516.4h0M457.3 523.3h0M461.3 524.9h0M459.3 529.2h0M448.9 520.1h0M452.0 511.3h0M457.2 519.8h0M458.5 518.7h0M445.2 522.4h0M467.4 528.8h0M449.9 514.3h0M451.5 514.9h0M466.0 526.1h0M451.9 520.9h0M456.1 519.8h0M447.1 519.1h0M451.4 510.0h0M450.3 517.7h0M437.3 516.5h0M458.0 530.2h0M458.3 524.1h0M465.7 538.8h0M460.0 517.6h0M451.0 519.5h0M461.7 530.6h0M451.0 519.8h0M461.0 531.0h0M450.5 520.6h0M446.4 506.8h0M455.9 517.8h0M457.9 516.4h0M458.0 527.4h0M459.6 513.0h0M458.4 523.4h0M460.8 521.1h0M449.8 516.1h0M441.1 520.7h0M453.2 514.7h0M441.7 513.3h0M451.9 526.8h0M464.4 523.0h0M454.7 518.9h0M451.1 517.9h0M451.4 510.5h0M461.9 525.1h0M464.0 528.8h0M441.4 506.4h0M471.5 535.0h0M462.4 536.6h0M450.8 519.6h0M456.4 521.5h0M456.2 523.8h0M464.7 519.3h0M459.0 514.4h0M463.5 520.5h0M459.7 527.0h0M467.1 544.2h0M457.4 519.7h0M455.9 513.5h0M466.0 526.1h0M455.3 522.2h0M461.7 518.8h0M459.9 519.6h0M451.6 521.2h0M449.0 522.3h0M452.7 518.6h0M451.3 516.1h0M454.4 517.5h0M466.2 536.8h0M465.8 512.2h0M450.4 516.6h0M449.0 515.1h0M465.2 529.3h0M453.5 516.2h0M455.9 524.1h0M446.6 507.7h0M440.5 508.6h0M460.5 521.0h0M443.9 510.8h0M454.5 526.0h0M465.3 524.7h0M447.3 518.7h0M451.5 519.2h0M452.3 519.2h0M447.0 520.5h0M452.0 520.0h0M456.3 515.7h0M452.4 521.9h0M452.5 525.5h0M460.6 524.2h0M459.9 524.1h0M457.3 521.1h0M452.6 514.5h0M462.0 522.6h0M458.6 529.6h0M453.2 526.0h0M458.1 514.9h0M470.4 536.5h0M442.7 504.6h0M457.6 528.3h0M453.9 526.5h0M464.3 533.6h0M463.9 538.4h0M457.0 529.1h0M450.9 520.5h0M458.0 527.3h0M445.0 516.8h0M458.4 520.7h0M455.0 512.8h0M456.3 527.9h0M441.6 512.1h0M448.3 524.4h0M457.6 522.9h0M458.5 516.6h0M452.5 520.5h0M446.3 520.8h0M456.5 518.2h0M465.9 531.7h0M454.2 515.9h0M453.0 507.9h0M445.4 518.1h0M454.7 517.3h0M455.0 531.6h0M455.8 518.6h0M467.0 521.9h0M468.1 528.7h0M453.8 512.5h0M460.0 521.2h0M455.0 518.9h0M463.3 527.1h0M455.8 532.6h0M466.2 517.5h0M452.4 510.6h0M453.5 519.5h0M453.0 523.3h0M455.2 521.4h0M452.2 517.1h0M455.9 525.0h0M459.5 524.1h0M459.1 523.0h0M449.8 517.2h0M458.5 514.3h0M448.6 513.3h0M454.1 514.0h0M459.1 526.7h0M455.4 519.4h0M450.7 524.1h0M461.1 530.8h0M451.4 518.4h0M458.8 519.2h0M444.8 512.8h0M469.2 521.5h0M451.9 523.0h0M458.3 529.8h0M460.3 527.6h0M453.5 523.3h0M464.4 521.2h0M448.5 509.8h0M455.7 515.0h0M441.9 509.8h0M460.4 530.3h0M454.6 530.7h0M468.7 528.5h0M467.7 528.4h0M464.7 534.0h0M457.0 518.4h0M448.9 509.0h0M451.5 520.7h0M469.5 536.5h0M461.6 523.8h0M460.0 533.3h0M461.5 526.8h0M464.7 521.5h0M454.8 518.7h0M449.0 513.6h0M464.2 525.9h0M446.8 518.3h0M465.8 534.3h0M457.4 527.8h0M457.5 529.2h0M457.2 521.1h0M445.9 508.9h0M450.1 515.7h0M463.5 527.4h0M443.1 517.1h0M451.2 510.5h0M470.2 528.4h0M440.7 508.5h0M456.1 520.6h0M463.1 520.1h0M466.3 538.1h0M460.3 531.8h0M461.7 522.4h0M448.6 505.7h0M451.5 522.4h0M442.5 511.7h0M455.1 526.2h0M448.0 510.9h0M459.5 531.6h0M454.4 531.5h0M449.9 520.3h0M456.3 527.0h0M453.4 527.0h0M454.9 524.3h0M455.9 522.1h0M459.4 528.4h0M453.0 525.5h0M452.3 520.3h0M455.9 526.8h0M452.6 515.8h0M464.1 530.6h0M466.1 523.5h0M439.6 509.9h0M452.8 521.0h0M458.5 518.0h0M453.8 522.9h0M461.7 523.1h0M462.7 533.1h0M459.0 538.5h0M442.8 508.4h0M464.0 526.1h0M445.2 507.1h0M461.8 530.2h0M460.2 523.9h0M448.5 518.1h0M459.1 512.7h0M448.1 522.6h0M464.3 530.2h0M452.4 517.6h0M448.9 522.8h0M455.3 527.7h0M472.6 528.3h0M456.8 513.4h0M454.8 526.4h0M452.6 515.3h0M465.7 526.4h0M445.8 515.8h0M459.0 524.1h0M457.3 525.9h0M456.3 516.5h0M465.1 528.6h0M468.9 534.6h0M455.2 522.6h0M454.8 527.2h0M462.8 518.2h0M466.5 527.8h0M463.9 525.3h0M456.3 522.6h0M458.2 519.0h0M451.0 516.4h0M450.7 523.1h0M455.8 522.2h0M463.0 537.4h0M461.9 527.8h0M448.3 500.8h0M452.9 517.8h0M463.1 531.3h0M465.7 527.8h0M445.1 508.4h0M451.2 524.7h0M464.8 534.4h0M455.1 513.2h0M457.7 514.8h0M454.5 524.2h0M447.5 516.0h0M467.0 525.7h0M458.0 522.3h0M457.1 523.2h0M448.4 519.7h0M460.2 531.6h0M446.0 526.2h0M453.2 513.8h0M461.0 515.0h0M447.8 511.7h0M448.9 520.5h0M474.8 534.8h0M454.5 512.6h0M449.4 515.8h0M456.0 521.7h0M453.8 527.8h0M460.4 523.1h0M448.8 531.3h0M442.2 512.2h0M450.0 520.9h0M446.0 501.6h0M459.0 528.1h0M452.5 530.1h0M462.3 526.8h0M439.9 515.8h0M440.0 509.3h0M452.3 525.8h0M448.0 515.6h0M444.7 516.1h0M456.4 510.2h0M446.4 509.9h0M445.4 506.8h0M457.9 524.3h0M459.3 522.4h0M465.1 523.2h0M456.6 524.9h0M455.4 523.0h0M458.8 524.6h0M450.7 522.0h0M457.9 521.1h0M451.6 523.0h0M438.4 507.3h0M461.3 521.4h0M464.3 536.4h0M466.8 531.6h0M453.2 520.8h0M459.6 522.7h0M452.8 527.0h0M465.7 535.5h0M475.8 525.5h0M454.2 513.0h0M455.2 511.9h0M453.9 517.2h0M449.7 519.2h0M465.8 532.8h0M449.3 502.2h0M455.8 506.8h0M446.7 511.1h0M452.5 515.7h0M457.2 528.5h0M447.0 515.3h0M460.4 528.0h0M462.1 537.7h0M455.9 523.8h0M461.5 532.4h0M456.1 518.4h0M457.0 525.3h0M448.4 524.7h0M467.1 526.1h0M396.3 440.6h0M404.0 448.4h0M412.4 470.9h0M406.2 456.4h0M401.1 446.0h0M409.0 464.1h0M409.5 450.9h0M406.3 455.0h0M390.8 444.5h0M389.9 435.1h0M412.3 458.0h0M404.6 446.1h0M414.4 461.1h0M422.5 478.6h0M412.3 465.6h0M390.8 446.9h0M409.5 457.3h0M392.4 457.3h0M413.1 454.8h0M416.7 462.6h0M408.6 447.0h0M409.5 463.3h0M406.0 458.5h0M404.0 467.1h0M414.9 463.5h0M406.0 454.7h0M425.9 458.4h0M424.4 463.0h0M396.8 447.7h0M406.0 452.8h0M403.6 457.5h0M389.6 434.2h0M395.7 448.1h0M417.2 469.6h0M415.9 457.5h0M404.3 458.8h0M404.2 461.6h0M414.4 466.3h0M391.8 446.7h0M418.0 473.0h0M400.6 450.0h0M399.8 454.4h0M390.1 451.0h0M411.4 456.6h0M395.9 448.9h0M405.6 454.3h0M396.6 447.2h0M417.4 466.8h0M418.9 468.2h0M397.5 449.0h0M393.7 441.2h0M391.8 444.2h0M418.6 458.3h0M390.0 445.4h0M398.2 445.6h0M406.1 453.4h0M416.2 473.9h0M403.3 458.9h0M400.5 455.2h0M409.8 464.7h0M388.0 439.9h0M397.3 442.6h0M412.6 467.5h0M414.4 468.3h0M408.6 463.5h0M409.4 459.8h0M402.8 452.8h0M404.8 451.9h0M418.1 477.7h0M397.6 444.4h0M415.8 470.5h0M405.9 454.6h0M393.3 437.6h0M411.2 461.2h0M401.4 444.4h0M409.9 459.5h0M408.7 459.8h0M430.0 477.1h0M400.4 449.4h0M385.7 436.9h0M409.2 460.4h0M414.7 459.6h0M402.4 454.2h0M400.1 446.9h0M412.5 458.8h0M412.6 462.6h0M402.3 451.1h0M411.0 466.9h0M405.3 457.4h0M405.8 454.3h0M387.6 450.2h0M395.3 453.1h0M417.6 457.2h0M421.5 464.8h0M419.2 464.9h0M401.1 458.7h0M407.0 451.7h0M397.1 447.7h0M398.4 447.7h0M398.4 456.0h0M415.6 464.9h0M415.4 469.5h0M409.1 459.5h0M406.8 465.7h0M394.6 448.4h0M401.2 456.6h0M412.7 462.6h0M406.0 456.7h0M407.8 465.1h0M387.1 448.7h0M420.0 471.3h0M400.6 454.7h0M401.8 447.4h0M401.7 461.7h0M400.5 454.4h0M423.0 477.7h0M401.6 448.6h0M417.4 462.7h0M389.1 439.3h0M388.6 445.1h0M393.6 436.7h0M419.4 469.1h0M408.3 458.8h0M400.4 444.9h0M412.9 461.4h0M394.7 445.5h0M400.5 447.6h0M406.5 462.2h0M385.0 442.1h0M381.9 439.3h0M424.8 476.2h0M407.2 455.9h0M407.7 463.4h0M402.2 459.3h0M410.0 458.6h0M405.3 456.4h0M409.7 459.9h0M390.9 446.1h0M405.2 443.4h0M418.4 473.7h0M396.1 452.5h0M386.7 438.6h0M417.5 474.1h0M415.3 466.8h0M403.0 447.1h0M411.4 465.1h0M411.6 460.6h0M396.6 440.5h0M413.8 471.7h0M411.6 462.8h0M417.7 453.3h0M414.3 469.3h0M386.3 437.3h0M405.5 454.1h0M421.5 471.0h0M416.2 470.8h0M389.1 443.6h0M409.4 464.9h0M395.6 453.3h0M410.8 458.7h0M393.2 453.4h0M410.8 477.9h0M425.3 478.3h0M414.3 468.9h0M414.5 469.3h0M403.8 462.6h0M407.5 451.8h0M417.0 475.3h0M415.6 464.4h0M408.5 460.4h0M398.3 452.1h0M393.1 447.9h0M414.7 465.6h0M412.8 467.3h0M402.6 460.7h0M406.0 459.1h0M388.1 446.5h0M399.6 449.6h0M402.0 442.2h0M411.5 462.5h0M404.1 455.2h0M405.9 457.2h0M403.2 445.5h0M410.5 454.3h0M391.1 439.4h0M422.8 474.9h0M406.9 457.0h0M407.2 465.5h0M408.7 463.1h0M397.0 449.5h0M419.9 470.4h0M412.0 454.8h0M403.5 456.8h0M416.8 466.8h0M396.2 449.3h0M407.0 469.1h0M423.1 475.1h0M395.5 458.2h0M412.0 460.4h0M394.9 442.5h0M411.3 457.1h0M408.4 460.7h0M396.1 435.3h0M421.1 474.4h0M424.6 479.2h0M385.6 440.6h0M409.2 462.7h0M399.8 455.4h0M401.6 456.8h0M409.8 461.7h0M405.7 458.8h0M405.4 454.0h0M409.3 459.7h0M397.9 457.5h0M411.4 456.4h0M396.2 453.7h0M412.2 468.5h0M429.8 473.3h0M410.8 453.2h0M404.6 452.7h0M418.0 472.0h0M387.9 436.4h0M402.1 457.5h0M395.4 445.3h0M404.3 447.9h0M394.1 447.9h0M400.8 456.5h0M418.4 468.7h0M398.2 447.9h0M407.6 451.1h0M414.4 470.7h0M405.9 466.9h0M412.6 464.8h0M408.5 452.0h0M404.5 448.1h0M401.5 452.3h0M405.6 449.5h0M394.5 442.2h0M400.1 452.0h0M411.1 455.8h0M397.3 453.8h0M411.7 472.0h0M412.4 472.6h0M410.7 453.4h0M398.6 456.9h0M408.6 462.4h0M398.6 453.4h0M401.8 456.0h0M395.1 450.3h0M397.7 451.5h0M410.3 463.2h0M401.5 452.5h0M411.9 460.1h0M402.3 459.9h0M406.4 457.3h0M409.6 459.2h0M381.5 437.2h0M399.9 453.9h0M408.6 459.5h0M419.5 471.4h0M415.9 456.9h0M433.3 479.3h0M419.2 468.9h0M406.1 459.2h0M392.0 445.1h0M406.2 450.6h0M404.8 453.4h0M405.8 458.4h0M406.8 463.1h0M394.9 441.6h0M412.9 459.6h0M406.5 450.5h0M399.3 450.0h0M392.2 444.8h0M404.7 461.6h0M401.2 451.0h0M381.0 436.8h0M405.9 457.7h0M402.8 455.4h0M392.9 436.7h0M406.6 467.8h0M403.2 453.4h0M405.6 463.9h0M391.4 446.1h0M400.9 450.4h0M410.5 458.7h0M409.6 465.4h0M400.2 448.0h0M409.6 456.5h0M405.4 452.1h0M420.6 468.6h0M391.2 450.3h0M409.5 461.4h0M387.7 444.8h0M406.8 460.7h0M402.0 452.5h0M408.3 457.7h0M407.5 452.9h0M402.6 455.5h0M420.2 472.3h0M416.5 468.3h0M405.6 456.2h0M394.7 448.7h0M398.8 446.8h0M419.1 463.7h0M407.4 455.2h0M403.2 444.3h0M398.0 450.3h0M414.0 474.5h0M407.7 456.4h0M393.9 450.3h0M414.2 477.2h0M409.5 459.6h0M390.2 444.0h0M391.0 445.9h0M403.6 464.0h0M396.8 450.1h0M402.9 450.2h0M424.3 473.2h0M426.9 473.6h0M423.3 474.2h0M408.0 463.2h0M406.2 461.0h0M395.7 443.8h0M392.2 446.4h0M411.2 453.1h0M407.0 458.0h0M410.9 469.9h0M413.7 464.7h0M411.2 460.4h0M407.9 466.5h0M404.1 463.1h0M418.0 470.2h0M400.6 440.2h0M422.7 478.8h0M405.9 468.0h0M394.8 441.0h0M401.5 466.1h0M424.6 471.9h0M396.4 453.8h0M407.7 465.0h0M402.4 458.5h0M421.8 469.7h0M405.3 461.6h0M403.4 446.9h0M409.8 461.6h0M410.1 461.7h0M406.2 458.3h0M403.3 448.3h0M393.8 440.8h0M410.1 451.7h0M384.5 445.6h0M396.3 449.0h0M408.0 455.9h0M415.0 468.5h0M414.0 465.9h0M383.8 443.7h0M416.4 465.2h0M381.9 439.3h0M411.5 455.1h0M406.6 457.6h0M412.5 467.2h0M407.7 458.1h0M412.7 470.3h0M399.0 451.4h0M405.9 454.2h0M415.2 464.4h0M396.4 455.3h0M400.1 451.5h0M407.0 456.8h0M394.9 437.1h0M407.2 450.7h0M398.2 444.1h0M417.9 473.4h0M414.3 472.8h0M414.1 462.2h0M420.8 484.7h0M406.8 459.7h0M401.4 453.7h0M408.0 461.1h0M410.7 457.9h0M399.8 456.9h0M408.4 461.1h0M391.8 446.7h0M400.5 442.8h0M411.9 456.1h0M391.1 446.9h0M412.0 472.2h0M410.1 460.7h0M400.2 450.3h0M416.3 468.0h0M409.1 458.1h0M424.6 470.6h0M406.5 452.0h0M396.4 455.3h0M411.2 459.9h0M393.2 448.8h0M419.7 463.2h0M407.4 462.4h0M405.8 455.8h0M404.2 461.8h0M392.4 445.4h0M395.2 460.5h0M402.5 453.0h0M386.5 436.3h0M410.6 456.6h0M404.9 456.0h0M396.3 452.0h0M403.2 450.6h0M401.6 461.0h0M417.2 466.2h0M408.8 462.1h0M398.6 458.0h0M403.1 451.6h0M399.7 452.3h0M415.0 465.8h0M410.7 458.3h0M398.4 453.2h0M424.3 464.5h0M415.8 462.1h0M397.3 448.1h0M409.4 463.0h0M409.5 456.5h0M412.6 457.1h0M407.5 468.6h0M400.3 455.2h0M398.5 453.4h0M394.1 446.3h0M404.8 463.1h0M403.5 457.0h0M392.1 435.9h0M405.5 457.3h0M406.1 463.6h0M411.5 454.1h0M404.1 452.4h0M412.1 464.5h0M399.7 451.3h0M392.5 440.3h0M419.2 472.6h0M390.2 443.5h0M402.7 465.0h0M424.7 472.5h0M400.8 452.1h0M420.1 466.2h0M400.0 457.9h0M401.7 455.5h0M386.6 441.0h0M410.4 464.9h0M394.1 455.6h0M413.6 463.7h0M396.1 449.0h0M405.0 459.8h0M409.9 455.6h0M422.8 466.1h0M411.0 467.6h0M393.8 445.8h0M412.2 468.7h0M404.3 455.8h0M399.3 449.6h0M401.5 451.8h0M414.1 467.3h0M390.8 440.0h0M401.7 451.0h0M391.1 449.5h0M402.4 460.0h0M402.6 454.1h0M389.3 449.7h0M404.2 453.1h0M400.5 457.4h0M398.6 456.3h0M406.7 457.2h0M411.5 473.0h0M408.1 453.6h0M405.6 457.2h0M412.6 461.5h0M398.6 458.4h0M401.8 455.4h0M401.2 448.7h0M398.9 449.7h0M399.9 447.4h0M403.3 461.3h0M402.4 449.6h0M405.3 459.3h0M415.8 465.3h0M418.0 471.6h0M389.5 441.4h0M399.6 448.3h0M407.7 451.1h0M393.8 433.1h0M397.4 449.5h0M406.8 456.7h0M400.6 455.1h0M386.3 438.3h0M411.7 463.2h0M396.8 446.2h0M402.4 458.7h0M408.6 450.7h0M411.6 466.0h0M414.0 465.0h0M415.3 462.7h0M411.0 459.8h0M393.8 449.4h0M389.9 443.3h0M417.7 470.4h0M397.4 438.9h0M393.1 449.7h0M413.6 461.4h0M403.9 458.6h0M415.8 470.5h0M405.2 447.2h0M418.8 463.0h0M436.7 480.6h0M401.8 447.4h0M402.5 457.5h0M396.2 453.9h0M402.5 455.3h0M400.9 451.1h0M413.9 461.6h0M409.4 469.6h0M407.2 458.7h0M415.2 462.3h0M395.5 446.7h0M407.5 462.3h0M400.6 449.5h0M416.7 465.9h0M412.9 455.9h0M385.2 438.8h0M407.0 454.3h0M390.7 445.2h0M401.7 453.8h0M414.2 467.1h0M426.4 474.9h0M408.2 462.3h0M413.0 458.2h0M409.7 462.2h0M398.6 458.5h0M380.7 443.9h0M416.2 462.0h0M405.9 460.2h0M405.1 456.8h0M409.2 458.8h0M407.4 463.4h0M410.0 454.3h0M413.3 468.3h0M407.3 453.8h0M412.3 471.7h0M401.2 454.2h0M394.5 459.7h0M391.4 449.5h0M396.7 449.1h0M400.0 437.6h0M402.0 454.6h0M414.7 464.8h0M393.9 450.6h0M404.2 450.8h0M403.1 455.0h0M406.5 454.2h0M385.3 438.3h0M398.9 452.2h0M429.4 473.5h0M414.1 466.0h0M395.6 453.0h0M405.8 459.5h0M410.8 469.7h0M405.3 452.3h0M415.7 457.8h0M408.7 455.9h0M400.7 445.3h0M401.1 461.8h0M393.5 445.4h0M401.9 458.4h0M403.8 464.1h0M399.2 451.9h0M415.5 455.6h0M413.8 452.7h0M403.5 459.0h0M398.3 454.3h0M400.5 445.6h0M405.2 459.4h0M404.8 459.6h0M414.1 466.6h0M391.6 435.2h0M404.5 462.6h0M405.1 450.8h0M399.4 453.5h0M397.4 440.4h0M429.0 476.2h0M409.4 465.7h0M408.5 454.2h0M414.2 457.1h0M390.3 440.5h0M404.5 454.8h0M410.4 455.5h0M403.9 457.2h0M390.5 444.7h0M401.2 453.7h0M416.4 477.7h0M416.1 464.6h0M405.3 464.1h0M411.4 462.3h0M434.1 478.7h0M414.1 458.2h0M404.4 446.7h0M395.0 434.7h0M405.5 458.6h0M410.0 451.7h0M388.0 436.6h0M400.6 452.1h0M405.1 454.8h0M399.2 455.1h0M427.3 500.7h0M459.3 524.5h0M449.3 532.9h0M441.6 510.0h0M436.8 489.0h0M428.2 504.1h0M455.0 519.3h0M467.4 535.7h0M431.8 503.3h0M448.4 500.7h0M436.6 490.5h0M451.5 531.5h0M451.9 504.4h0M455.6 510.8h0M441.4 494.2h0M466.5 521.5h0M453.3 515.3h0M459.9 521.6h0M445.5 500.7h0M438.5 498.0h0M447.5 516.4h0M458.3 504.1h0M462.8 525.4h0M461.3 526.0h0M435.8 483.4h0M413.5 488.0h0M460.0 528.0h0M439.6 503.0h0M435.8 505.7h0M452.2 521.2h0M447.5 510.4h0M446.4 509.2h0M456.3 511.0h0M438.2 506.9h0M442.0 508.9h0M443.5 498.7h0M445.7 517.0h0M430.0 508.7h0M470.6 525.5h0M441.8 524.4h0M437.7 514.4h0M452.9 528.9h0M449.9 514.4h0M447.6 530.0h0M453.9 517.6h0M424.3 494.4h0M463.2 524.9h0M464.3 519.1h0M436.9 508.1h0M434.0 486.3h0M459.2 525.6h0M444.4 503.6h0M448.8 505.5h0M458.9 521.9h0M454.2 530.3h0M449.2 529.2h0M424.4 493.2h0M459.1 527.0h0M432.8 504.7h0M447.3 504.6h0M446.6 514.5h0M429.0 488.8h0M459.1 528.4h0M450.6 500.4h0M427.8 497.2h0M437.8 500.6h0M427.0 493.5h0M428.2 495.1h0M443.3 522.5h0M453.3 516.9h0M470.1 522.7h0M452.5 527.2h0M415.2 473.7h0M449.6 526.1h0M443.9 520.0h0M460.0 515.6h0M461.8 520.1h0M453.8 508.4h0M450.5 532.2h0M463.9 513.7h0M479.2 538.0h0M435.0 503.6h0M426.6 502.2h0M437.3 513.5h0M414.9 484.9h0M437.2 513.1h0M427.7 496.9h0M445.0 508.9h0M449.6 518.2h0M429.6 500.2h0M458.9 532.1h0M471.8 541.7h0M443.1 500.8h0M456.8 524.4h0M429.8 501.0h0M436.1 490.9h0M459.2 519.1h0M453.5 524.3h0M427.1 498.2h0M454.8 519.4h0M465.7 531.0h0M437.2 503.4h0M426.1 486.5h0M451.7 513.5h0M468.1 518.5h0M446.2 510.1h0M445.5 527.3h0M441.3 500.4h0M451.6 512.5h0M439.4 509.5h0M444.2 517.4h0M444.2 531.7h0M446.7 508.4h0M441.1 511.6h0M429.3 484.1h0M423.6 479.9h0M440.7 499.7h0M445.0 510.3h0M437.4 507.5h0M443.9 512.4h0M444.7 502.6h0M438.8 504.5h0M442.0 496.7h0M446.3 506.6h0M460.1 515.9h0M442.2 505.5h0M421.0 488.5h0M422.9 507.9h0M436.2 494.7h0M443.6 514.9h0M457.0 526.3h0M409.0 469.5h0M437.7 496.8h0M440.7 495.5h0M474.0 543.4h0M438.3 497.3h0M452.2 518.1h0M461.1 536.9h0M445.8 496.7h0M435.7 514.8h0M447.4 506.8h0M444.7 516.4h0M431.9 500.6h0M447.3 511.8h0M435.2 504.9h0M428.6 506.1h0M464.6 532.5h0M419.3 493.7h0M448.5 533.4h0M441.5 508.4h0M447.8 506.0h0M437.8 499.5h0M444.8 514.4h0M448.2 523.7h0M439.3 486.7h0M453.2 518.1h0M419.0 477.3h0M424.8 505.7h0M431.0 487.0h0M437.8 508.9h0M452.5 519.8h0M430.1 503.5h0M439.8 522.1h0M443.4 506.6h0M467.9 523.1h0M413.0 489.8h0M423.9 481.7h0M439.7 506.8h0M414.2 484.6h0M453.1 505.2h0M449.3 510.0h0M430.4 497.5h0M436.0 495.2h0M438.7 521.7h0M455.8 509.9h0M436.7 510.0h0M454.8 515.9h0M434.6 500.5h0M450.8 510.2h0M456.7 528.2h0M452.4 529.6h0M428.2 498.1h0M433.5 497.7h0M443.9 488.0h0M445.8 513.9h0M459.7 507.5h0M422.8 496.6h0M432.9 487.5h0M455.4 504.3h0M419.8 468.4h0M456.6 523.4h0M447.5 505.3h0M432.3 497.8h0M463.5 518.3h0M440.1 512.7h0M427.8 506.8h0M473.9 542.4h0M448.8 505.0h0M451.7 505.2h0M452.7 511.1h0M437.7 513.1h0M455.0 515.1h0M445.4 495.9h0M443.7 534.3h0M439.4 519.9h0M439.2 518.6h0M461.4 521.7h0M425.1 496.8h0M449.0 506.0h0M455.9 517.5h0M454.8 527.0h0M447.0 501.7h0M436.5 501.2h0M462.9 517.0h0M416.2 488.2h0M461.3 524.1h0M420.0 485.2h0M429.7 496.2h0M461.5 520.0h0M446.9 506.6h0M436.4 493.4h0M473.3 516.7h0M448.2 515.5h0M432.7 505.9h0M447.5 523.6h0M450.1 515.3h0M437.9 510.8h0M459.4 517.1h0M452.7 516.2h0M435.5 481.4h0M451.0 510.7h0M446.7 516.8h0M458.9 510.5h0M433.2 497.0h0M446.7 535.2h0M420.3 492.5h0M437.7 503.9h0M434.4 511.7h0M441.9 514.7h0M444.6 505.4h0M433.1 526.5h0M447.0 522.5h0M466.5 543.5h0M434.4 510.0h0M457.8 516.5h0M442.4 506.7h0M440.3 513.6h0M435.8 498.0h0M438.3 504.2h0M464.9 527.5h0M446.3 507.5h0M443.1 520.5h0M430.5 491.3h0M445.1 524.8h0M448.6 521.0h0M457.3 509.5h0M463.5 522.9h0M448.7 508.2h0M430.4 508.6h0M452.7 516.7h0M446.7 521.1h0M462.5 542.0h0M438.2 506.6h0M450.6 509.6h0M462.8 531.4h0M439.8 513.4h0M476.3 543.8h0M471.4 546.7h0M449.9 509.8h0M461.5 515.6h0M460.7 523.0h0M436.0 503.7h0M441.7 492.5h0M460.8 530.1h0M461.3 522.6h0M447.6 499.0h0M435.7 503.6h0M422.6 500.6h0M432.8 483.8h0M445.5 535.1h0M450.0 517.1h0M447.6 505.4h0M424.9 492.1h0M442.8 490.5h0M446.7 514.2h0M428.1 493.1h0M458.0 500.8h0M447.4 493.1h0M417.0 468.8h0M454.5 515.9h0M433.9 500.9h0M418.4 478.2h0M446.1 501.9h0M422.4 491.1h0M454.6 524.2h0M439.5 503.7h0M445.5 505.6h0M464.8 519.5h0M422.5 483.7h0M439.4 518.5h0M455.5 526.1h0M446.9 522.6h0M438.6 488.8h0M449.1 516.7h0M474.3 529.2h0M430.1 499.1h0M435.9 503.6h0M452.0 521.1h0M439.0 515.7h0M444.2 505.5h0M462.7 540.7h0M435.3 501.0h0M460.3 520.3h0M429.5 490.7h0M402.4 471.9h0M447.1 506.9h0M451.8 524.4h0M437.8 504.9h0M470.8 531.7h0M458.1 499.5h0M453.5 519.2h0M444.8 518.9h0M433.6 492.9h0M458.2 532.1h0M468.8 527.1h0M458.2 535.8h0M453.9 536.0h0M461.7 531.0h0M455.1 526.3h0M469.0 523.3h0M442.4 522.2h0M438.9 497.4h0M448.9 521.1h0M448.2 534.3h0M433.2 502.0h0M443.3 511.9h0M458.2 529.8h0M443.1 503.1h0M483.3 546.1h0M447.9 525.7h0M466.6 527.0h0M459.3 523.0h0M467.5 521.8h0M447.4 515.3h0M440.9 496.6h0M428.5 491.3h0M426.2 488.0h0M434.5 499.0h0M423.1 480.5h0M442.5 505.4h0M426.2 501.7h0M431.6 505.6h0M431.0 501.7h0M452.9 524.5h0M444.1 494.1h0M435.3 498.4h0M465.6 535.8h0M439.3 507.4h0M461.8 534.5h0M445.5 499.0h0M440.5 510.2h0M451.0 512.0h0M424.7 492.0h0M457.7 540.7h0M465.9 538.7h0M439.4 504.5h0M464.4 523.3h0M443.9 519.0h0M448.2 495.4h0M471.2 531.3h0M443.0 485.1h0M445.4 509.4h0M462.4 521.7h0M444.7 505.2h0M456.4 513.0h0M418.1 500.9h0M438.6 511.6h0M443.1 515.8h0M431.2 489.3h0M430.0 502.2h0M436.6 501.4h0M443.1 505.4h0M455.3 506.9h0M440.2 506.4h0M435.3 475.2h0M449.6 508.0h0M473.9 519.6h0M443.5 512.7h0M437.3 507.7h0M440.8 514.4h0M460.2 513.4h0M421.5 495.5h0M457.3 542.8h0M443.7 504.0h0M475.6 534.5h0M438.9 498.1h0M434.7 493.7h0M443.8 517.6h0M461.7 522.6h0M450.1 519.8h0M448.2 513.7h0M454.2 511.1h0M448.2 514.2h0M460.3 527.1h0M444.1 510.8h0M453.4 522.2h0M439.5 501.4h0M441.3 510.5h0M443.7 492.2h0M444.3 504.6h0M432.4 509.2h0M423.6 490.5h0M460.4 524.0h0M454.5 513.0h0M456.2 516.3h0M477.5 543.7h0M426.7 473.0h0M453.1 515.3h0M448.6 512.0h0M471.1 517.5h0M446.2 494.6h0M439.7 503.3h0M432.6 493.7h0M446.3 529.4h0M461.5 547.5h0M449.8 486.5h0M451.1 510.1h0M443.5 520.0h0M435.2 503.0h0M412.1 488.9h0M451.8 529.6h0M423.4 485.9h0M454.9 531.9h0M428.0 491.5h0M464.5 519.3h0M462.4 530.5h0M432.3 509.4h0M425.6 497.8h0M445.0 506.8h0M438.1 517.0h0M422.7 499.7h0M434.6 512.5h0M466.4 515.3h0M457.5 515.9h0M464.2 525.1h0M428.4 486.0h0M443.5 488.6h0M446.4 506.4h0M437.6 513.6h0M461.7 518.5h0M417.5 501.9h0M471.2 528.9h0M458.1 528.4h0M456.1 520.4h0M446.6 500.5h0M422.7 488.9h0M425.2 490.8h0M406.8 502.0h0M438.7 517.8h0M427.9 513.1h0M393.0 466.5h0M442.1 519.0h0M390.1 489.3h0M393.0 455.6h0M424.3 517.5h0M436.8 517.6h0M402.0 480.4h0M418.5 497.2h0M408.1 481.7h0M424.9 510.7h0M421.8 477.6h0M424.4 499.2h0M394.4 474.9h0M413.3 517.7h0M415.7 499.7h0M460.1 544.8h0M430.0 529.4h0M403.6 489.8h0M402.7 468.2h0M430.7 509.1h0M409.5 475.6h0M419.8 518.8h0M438.5 513.8h0M445.8 522.3h0M437.5 529.1h0M428.0 527.2h0M419.0 495.3h0M410.2 501.3h0M426.9 495.9h0M435.6 534.0h0M408.7 492.1h0M415.4 498.9h0M442.2 504.7h0M390.8 479.5h0M409.4 491.1h0M414.9 500.2h0M416.0 485.2h0M398.4 494.8h0M424.2 504.2h0M398.4 481.9h0M424.8 508.5h0M412.4 490.9h0M386.7 470.3h0M369.4 446.1h0M391.1 484.1h0M425.2 504.5h0M406.9 498.3h0M412.0 482.0h0M413.2 497.2h0M431.1 497.3h0M410.7 492.9h0M400.4 477.5h0M439.5 520.8h0M418.3 493.8h0M422.9 506.1h0M398.0 491.5h0M417.9 500.9h0M433.8 484.9h0M450.9 479.2h0M466.7 497.4h0M469.8 484.3h0M461.9 471.9h0M403.2 454.7h0M446.8 492.8h0M433.0 461.7h0M443.4 490.3h0M425.2 465.3h0M459.3 476.8h0M427.9 475.9h0M427.6 474.6h0M439.5 486.1h0M417.8 449.2h0M470.0 486.9h0M436.2 480.7h0M429.2 484.4h0M399.8 487.9h0M465.1 474.6h0M422.3 457.3h0M452.7 503.5h0M419.5 468.7h0M433.1 487.4h0M433.9 456.5h0M448.0 470.0h0M449.1 496.6h0M441.4 452.8h0M420.8 455.0h0M445.3 462.6h0M423.1 465.9h0M444.5 479.9h0M406.2 469.1h0M430.6 467.2h0M443.4 500.6h0M439.4 483.1h0M422.0 458.5h0M442.6 462.0h0M438.4 485.7h0M456.5 486.2h0M409.1 475.6h0M442.0 479.9h0M418.0 466.8h0M404.9 457.0h0M474.3 476.4h0M454.3 483.7h0M450.0 490.8h0M452.1 496.9h0M434.6 473.8h0M453.0 511.3h0M447.6 548.8h0M450.3 543.8h0M428.6 539.0h0M447.6 542.3h0M446.1 547.7h0M445.0 543.2h0M436.9 542.3h0M455.8 547.9h0M437.1 536.5h0M431.6 545.2h0M439.6 541.0h0M426.7 537.7h0" stroke="#4878b0" stroke-width="1.35" stroke-linecap="round" fill="none" opacity="0.9"/><g opacity="0.72"><ellipse cx="421" cy="483" rx="78" ry="12" transform="rotate(46.8 421 483)" fill="#fcd3c1" opacity="0.95" filter="url(#k3)"/><ellipse cx="449" cy="515" rx="27" ry="12.5" transform="rotate(47 449 515)" fill="#fcc4ad" opacity="0.85" filter="url(#k3)"/><ellipse cx="404" cy="456" rx="30" ry="6.6" transform="rotate(46 404 456)" fill="#f5876a" opacity="0.85" filter="url(#k2)"/><ellipse cx="436" cy="496" rx="28" ry="6.5" transform="rotate(47 436 496)" fill="#f7a083" opacity="0.65" filter="url(#k2)"/><ellipse cx="404.5" cy="456.5" rx="19" ry="4.2" transform="rotate(46 404.5 456.5)" fill="#b82a2a" opacity="0.7" filter="url(#k2)"/><ellipse cx="455.5" cy="521.5" rx="18" ry="8.4" transform="rotate(48 455.5 521.5)" fill="#a8141c" opacity="0.95" filter="url(#k2)"/><ellipse cx="456" cy="522" rx="12" ry="5.4" transform="rotate(48 456 522)" fill="#4d0618" opacity="0.97" filter="url(#k2)"/></g><path d="M423.9 496.5h0M443.1 508.8h0M425.5 497.4h0M446.3 492.2h0M422.5 480.7h0M428.2 487.6h0M430.8 484.5h0M385.5 448.3h0M416.7 472.1h0M392.8 465.9h0M455.1 516.4h0M405.1 462.6h0M418.8 475.5h0M413.2 478.6h0M413.3 477.0h0M464.6 522.5h0M430.3 490.2h0M414.5 469.9h0M408.9 469.9h0M420.6 484.4h0M431.5 485.9h0M414.7 477.8h0M397.9 456.5h0M445.6 515.7h0M439.3 501.3h0M421.7 487.9h0M459.7 521.9h0M426.9 487.7h0M467.1 527.1h0M420.1 472.8h0M423.2 486.5h0M405.6 466.2h0M436.9 510.8h0M406.7 470.8h0M423.6 498.6h0M400.9 463.4h0M447.8 509.9h0M410.8 479.3h0M441.2 504.1h0M424.9 494.8h0M410.9 469.6h0M464.9 530.4h0M437.5 507.1h0M433.0 500.4h0M432.0 497.1h0M436.0 500.8h0M437.2 504.3h0M426.9 488.8h0M422.0 491.1h0M425.7 484.0h0M415.5 478.8h0M453.6 512.0h0M464.1 517.6h0M428.9 485.1h0M399.9 463.4h0M447.3 507.6h0M397.0 465.6h0M396.8 454.9h0M390.1 442.9h0M468.7 530.0h0M422.4 483.1h0M401.0 460.7h0M440.9 505.1h0M404.7 464.7h0M402.2 461.9h0M438.5 495.9h0M459.6 523.8h0M400.4 462.4h0M424.6 474.6h0M392.4 459.4h0M442.9 505.2h0M424.0 489.6h0M417.3 489.8h0M404.0 456.2h0M459.4 516.9h0M415.6 470.6h0M448.2 512.3h0M453.0 510.1h0M394.5 448.7h0M426.6 487.3h0M391.7 454.7h0M413.6 482.2h0M422.2 494.6h0M410.8 474.9h0M424.6 492.4h0M404.2 473.1h0M407.4 464.0h0M386.6 443.5h0M419.1 482.5h0M424.2 486.9h0M418.0 477.6h0M454.9 514.9h0M420.1 481.3h0M410.2 469.6h0M461.2 527.6h0M438.8 497.7h0M450.1 506.9h0M452.9 513.8h0M407.8 467.6h0M392.3 460.0h0M461.6 523.6h0M454.6 527.4h0M401.5 466.5h0M436.5 503.0h0M400.0 461.1h0M422.3 476.0h0M437.2 505.8h0M384.6 449.8h0M429.6 509.2h0M437.2 499.8h0M403.3 475.2h0M435.2 501.5h0M418.3 473.4h0M433.7 488.9h0M403.4 472.9h0M413.0 466.4h0M390.8 449.1h0M424.9 499.3h0M418.2 473.6h0M400.8 465.8h0M453.5 531.7h0M415.1 487.9h0M413.8 481.2h0M404.9 460.9h0M436.5 512.7h0M422.1 488.0h0M399.6 460.9h0M417.8 472.3h0M442.0 490.3h0M421.3 486.4h0M450.3 511.3h0M451.3 503.5h0M470.8 542.7h0M403.2 466.1h0M421.2 479.2h0M415.7 474.7h0M412.3 478.0h0M420.0 486.0h0M414.8 470.3h0M439.0 509.0h0M390.7 449.7h0M425.1 480.6h0M436.1 498.5h0M444.7 508.8h0M415.8 486.0h0M425.5 493.0h0M436.8 491.5h0M413.3 480.7h0M436.9 502.2h0M456.8 514.6h0M473.2 535.3h0M406.6 479.3h0M422.8 494.0h0M427.1 497.4h0M411.8 469.3h0M424.4 485.1h0M433.1 498.7h0M421.0 483.9h0M409.3 473.9h0M446.4 518.8h0M426.0 484.2h0M415.1 477.0h0M419.6 485.0h0M417.0 476.0h0M402.5 463.4h0M428.2 501.3h0M422.2 470.2h0M389.3 451.5h0M447.1 507.3h0M416.1 470.0h0M386.1 444.5h0M417.1 481.8h0M400.1 466.9h0M427.4 484.7h0M389.0 453.8h0M404.8 476.3h0M379.4 440.3h0M383.8 448.8h0M420.4 486.0h0M403.6 469.4h0M460.0 518.2h0M397.5 466.9h0M422.0 487.7h0M452.9 523.2h0M423.6 480.1h0M420.4 492.5h0M403.9 472.7h0M473.0 536.7h0M447.6 508.9h0M395.8 466.2h0M439.7 497.9h0M428.3 497.4h0M410.6 473.4h0M414.0 471.4h0M414.8 474.2h0M397.9 455.1h0M425.0 491.3h0M410.0 467.1h0M417.8 479.4h0M411.9 472.1h0M400.8 464.7h0M463.2 535.5h0M432.1 484.9h0M434.7 501.0h0M419.6 480.5h0M403.1 463.5h0M436.0 497.7h0M387.0 445.5h0M419.0 484.9h0M463.3 523.6h0M380.5 448.4h0M446.5 507.1h0M448.3 517.9h0M430.0 486.4h0M394.3 460.0h0M450.8 513.1h0M419.6 490.7h0M439.2 493.2h0M426.3 478.1h0M442.5 516.8h0M432.1 502.9h0M396.4 458.0h0M404.3 454.2h0M396.5 463.3h0M430.5 510.8h0M436.2 497.0h0M428.3 488.4h0M417.4 473.7h0M404.3 468.8h0M428.7 491.1h0M445.6 498.8h0M441.4 500.0h0M456.4 527.7h0M466.1 523.4h0M410.4 473.7h0M454.3 523.9h0M433.9 484.4h0M427.3 494.0h0M437.6 493.1h0M414.8 462.4h0M403.0 466.1h0M427.2 478.3h0M412.3 472.2h0M433.8 500.6h0M425.3 494.2h0M411.6 473.5h0M402.2 468.6h0M435.0 505.8h0M403.9 457.9h0M428.0 489.5h0M425.5 488.2h0M402.6 464.8h0M402.7 461.5h0M404.0 461.8h0M426.4 492.5h0M433.0 491.5h0M438.5 504.9h0M415.0 481.8h0M400.2 456.8h0M438.8 499.7h0M459.6 523.9h0M393.2 457.7h0M439.1 501.8h0M418.4 477.9h0M418.5 478.7h0M412.7 476.3h0M396.2 464.8h0M389.2 437.3h0M432.7 492.1h0M396.9 454.6h0M409.8 465.5h0M412.6 470.7h0M418.5 488.5h0M406.2 474.3h0M418.8 476.4h0M415.0 466.5h0M425.1 490.2h0M427.4 493.1h0M460.3 516.5h0M433.4 497.6h0M405.0 468.9h0M431.9 499.2h0M444.6 504.6h0M404.9 469.4h0M407.7 467.6h0M456.0 522.0h0M421.9 488.3h0M453.4 517.6h0M384.2 442.0h0M425.1 493.4h0M401.4 459.5h0M423.5 488.1h0M442.8 501.7h0M417.3 469.8h0M420.0 475.3h0M433.5 494.3h0M409.9 471.1h0M419.1 465.5h0M458.0 508.6h0M415.8 482.9h0M431.1 484.0h0M430.6 498.0h0M419.2 489.6h0M465.4 534.1h0M447.3 511.2h0M387.9 445.4h0M399.9 460.1h0M394.3 456.7h0M401.6 453.9h0M420.3 491.9h0M428.0 498.2h0M402.1 465.5h0M402.8 469.9h0M419.3 494.9h0M447.6 510.9h0M416.5 474.0h0M393.7 464.0h0M437.1 508.3h0M416.8 474.9h0M460.1 521.5h0M463.9 530.8h0M465.8 533.0h0M434.4 492.1h0M436.3 510.7h0M389.3 446.4h0M428.5 496.0h0M414.8 470.3h0M447.9 507.6h0M409.2 466.7h0M414.3 477.2h0M399.6 461.5h0M464.1 530.6h0M423.1 485.6h0M392.8 459.5h0M407.6 475.3h0M390.4 447.6h0M449.2 514.2h0M448.7 515.9h0M421.6 488.8h0M425.7 491.8h0M386.1 443.7h0M459.5 522.0h0M418.8 481.4h0M468.6 537.3h0M409.8 464.0h0M435.1 491.4h0M443.0 503.9h0M439.4 503.4h0M419.7 477.4h0M448.1 509.1h0M432.6 490.0h0M419.1 484.7h0M401.8 449.0h0M451.6 515.7h0M423.4 481.1h0M431.9 494.9h0M418.0 481.3h0M407.4 476.4h0M459.1 534.7h0M434.1 502.5h0M424.0 492.7h0M434.8 501.6h0M394.0 465.4h0M439.5 493.6h0M418.3 479.6h0M413.1 468.4h0M400.5 467.4h0M402.8 465.6h0M426.3 500.1h0M420.2 483.3h0M401.5 461.2h0M430.9 492.5h0M426.2 483.5h0M424.8 473.2h0M455.7 519.9h0M415.3 474.1h0M389.2 446.3h0M427.7 482.5h0M395.7 456.9h0M444.0 500.4h0M433.1 497.9h0M413.4 473.4h0M433.4 494.2h0M415.9 466.7h0M407.8 471.4h0M412.1 469.6h0M460.5 529.5h0M388.4 453.8h0M419.6 478.7h0M428.2 499.4h0M394.9 465.7h0M415.9 480.6h0M428.3 493.7h0M411.1 465.8h0M417.2 477.3h0M414.6 476.7h0M430.1 497.7h0M436.8 496.5h0M440.9 498.5h0M426.3 496.9h0M395.6 456.9h0M406.7 474.5h0M431.9 495.5h0M423.1 481.2h0M440.8 504.1h0M398.0 441.6h0M395.2 462.4h0M397.8 462.3h0M422.9 493.3h0M405.4 465.0h0M391.6 465.5h0M423.7 494.5h0M416.0 465.7h0M400.0 448.5h0M428.8 493.2h0M422.0 474.6h0M431.9 493.7h0M433.9 495.6h0M406.5 465.5h0M407.5 479.2h0M414.7 480.3h0M433.6 500.9h0M417.9 481.5h0M402.0 472.0h0M422.0 479.4h0M448.5 516.3h0M389.0 443.9h0M390.3 449.2h0M436.3 498.9h0M442.3 496.2h0M449.3 500.4h0M443.9 499.0h0M442.3 509.5h0M417.5 460.1h0M418.1 484.2h0M440.3 488.9h0M393.8 448.7h0M391.5 447.9h0M403.2 469.2h0M443.0 506.5h0M441.4 497.2h0M391.2 447.2h0M405.4 468.2h0M402.8 471.2h0M420.4 484.3h0M424.6 486.1h0M420.5 480.8h0M392.3 463.5h0M448.2 506.3h0M445.6 506.1h0M393.7 456.4h0M411.1 481.4h0M450.6 502.6h0M424.4 493.5h0M426.6 497.0h0M408.3 471.3h0M459.7 511.0h0M396.6 452.1h0M441.7 504.1h0M460.2 526.7h0M406.3 458.7h0M452.0 514.3h0M436.8 504.9h0M406.6 463.9h0M424.6 484.7h0M454.7 515.7h0M414.3 466.0h0M410.6 469.5h0M413.6 469.5h0M421.2 474.1h0M435.4 494.9h0M443.4 500.7h0M464.0 532.7h0M438.3 497.5h0M435.8 503.0h0M452.1 515.6h0M400.6 462.5h0M429.4 494.8h0M439.1 509.7h0M445.8 503.1h0M407.6 473.1h0M419.0 481.4h0M390.5 450.9h0M428.6 490.4h0M397.2 454.4h0M442.3 507.2h0M426.1 488.7h0M434.6 502.3h0M429.1 502.0h0M434.3 490.3h0M432.7 509.1h0M418.2 487.6h0M386.2 438.0h0M450.7 513.7h0M403.0 463.8h0M437.8 509.1h0M436.5 492.7h0M423.3 497.4h0M427.9 482.8h0M428.1 488.1h0M427.2 485.3h0M425.1 478.7h0M421.3 475.5h0M429.3 487.8h0M435.4 496.5h0M412.3 469.5h0M429.2 485.2h0M397.7 440.2h0M402.0 460.8h0M408.1 480.9h0M425.0 495.4h0M437.9 498.3h0M386.7 450.1h0M441.1 500.7h0M397.6 454.9h0M410.0 472.4h0M404.8 472.9h0M458.7 519.7h0M426.4 484.2h0M469.3 534.2h0M448.4 501.8h0M411.2 478.6h0M426.0 495.5h0M447.8 519.9h0M397.2 463.1h0M411.0 468.2h0M420.2 480.6h0M416.0 471.2h0M413.1 476.8h0M452.5 531.8h0M427.2 482.9h0M410.6 476.5h0M406.4 477.1h0M392.3 445.3h0M431.7 509.3h0M407.9 464.5h0M429.6 495.1h0M403.5 470.9h0M389.1 454.7h0M410.1 469.8h0M431.9 490.1h0M414.6 460.0h0M436.7 496.3h0M432.0 503.6h0M436.1 493.6h0M430.1 497.0h0M418.1 484.9h0M404.2 466.4h0M393.2 449.6h0M384.4 440.2h0M409.8 470.8h0M442.0 493.1h0M415.1 486.5h0M399.5 452.9h0M443.5 502.7h0M399.5 455.9h0M393.8 452.1h0M395.7 458.8h0M400.3 469.4h0M417.2 480.7h0M383.5 440.6h0M427.6 494.9h0M423.1 490.9h0M430.4 494.1h0M435.1 502.8h0M424.6 479.8h0M456.7 530.4h0M412.2 479.4h0M417.9 481.0h0M451.4 513.1h0M426.1 494.4h0M419.9 474.4h0M416.9 484.0h0M389.2 455.8h0M426.6 506.6h0M415.0 476.2h0M425.3 497.3h0M448.5 516.9h0M443.5 495.9h0M430.5 484.2h0M430.7 489.8h0M418.9 489.0h0M454.1 528.6h0M407.8 472.2h0M400.1 462.5h0M438.3 484.3h0M411.8 481.0h0M417.3 489.1h0M429.7 485.8h0M440.2 503.0h0M410.9 471.9h0M400.5 468.7h0M392.4 460.9h0M455.2 515.7h0M392.0 457.1h0M411.4 468.4h0M474.7 538.1h0M428.2 492.5h0M419.2 485.1h0M417.1 474.6h0M428.2 492.3h0M443.9 507.6h0M396.8 462.8h0M411.1 468.2h0M457.5 524.3h0M420.2 465.1h0M443.6 495.2h0M474.5 537.6h0M401.9 459.5h0M419.6 479.2h0M401.4 457.8h0M446.5 518.8h0M436.0 495.6h0M410.0 478.7h0M429.4 494.8h0M410.7 463.8h0M391.4 442.2h0M405.2 466.7h0M398.8 467.1h0M400.1 454.5h0M452.2 501.8h0M396.8 464.2h0M390.5 458.8h0M425.0 485.9h0M426.9 497.1h0M451.6 530.0h0M429.3 486.1h0M389.2 446.7h0M400.3 458.5h0M438.3 509.2h0M407.5 462.8h0M432.1 492.8h0M459.0 532.6h0M382.0 448.8h0M381.0 448.0h0M418.2 473.9h0M417.5 482.7h0M442.5 502.1h0M432.1 498.6h0M411.5 478.1h0M380.6 439.1h0M413.3 476.2h0M429.7 495.2h0M462.4 525.9h0M403.7 467.2h0M439.6 496.3h0M392.6 444.9h0M450.6 502.9h0M422.3 483.7h0M453.7 524.0h0M386.6 449.7h0M399.7 446.9h0M378.3 440.7h0M461.3 526.5h0M409.3 469.8h0M400.1 465.1h0M434.7 507.4h0M430.3 502.0h0M423.1 498.9h0M386.2 450.4h0M417.5 475.5h0M388.2 440.0h0M430.6 499.5h0M444.0 500.8h0M416.0 474.1h0M398.9 455.6h0M406.7 475.6h0M454.8 523.8h0M404.7 465.1h0M382.3 447.4h0M389.3 453.9h0M398.5 460.5h0M408.7 466.0h0M410.4 478.0h0M467.7 530.9h0M405.7 466.7h0M443.9 507.1h0M400.0 462.9h0M400.1 463.3h0M404.8 468.1h0M426.2 490.0h0M417.6 489.4h0M431.9 491.8h0M412.7 471.6h0M424.9 479.0h0M401.5 446.6h0M391.6 456.8h0M403.0 467.6h0M403.5 474.7h0M393.0 448.3h0M450.4 510.8h0M440.1 517.2h0M454.5 525.5h0M447.1 510.0h0M440.3 503.9h0M459.2 526.2h0M438.4 494.2h0M410.3 474.3h0M416.0 470.7h0M426.7 490.2h0M427.1 494.6h0M415.0 478.9h0M413.8 470.9h0M419.4 479.7h0M397.8 464.1h0M474.7 537.0h0M436.5 490.5h0M442.3 502.4h0M400.8 460.4h0M414.4 476.2h0M421.2 481.1h0M442.3 503.5h0M415.8 484.0h0M424.7 491.1h0M413.5 481.8h0M475.0 541.2h0M420.3 479.8h0M397.7 460.5h0M393.9 444.3h0M424.2 478.8h0M406.4 473.4h0M426.0 485.1h0M432.8 491.1h0M396.2 449.2h0M420.2 485.3h0M406.9 459.9h0M399.2 468.2h0M396.8 458.6h0M420.3 470.3h0M404.8 462.3h0M406.8 461.0h0M409.7 474.7h0M387.3 450.7h0M453.2 513.9h0M437.3 496.0h0M409.5 473.8h0M429.3 487.6h0M393.1 462.4h0M424.7 482.4h0M382.5 444.4h0M425.2 474.0h0M421.5 486.1h0M413.4 470.6h0M436.5 501.3h0M397.0 465.0h0M423.6 484.5h0M441.8 487.9h0M439.5 488.6h0M419.2 481.5h0M462.6 521.0h0M442.8 498.1h0M432.1 501.6h0M403.7 462.8h0M418.7 486.8h0M404.2 471.2h0M470.1 532.4h0M428.6 491.8h0M406.1 458.8h0M439.2 504.9h0M446.5 509.6h0M401.1 472.4h0M421.4 488.9h0M423.5 480.7h0M429.4 490.1h0M417.5 484.0h0M388.6 455.1h0M401.8 453.9h0M427.1 482.0h0M437.6 502.5h0M403.5 455.7h0M439.8 490.5h0M416.2 475.3h0M409.8 467.5h0M400.1 458.1h0M449.0 507.9h0M414.5 479.0h0M385.8 451.1h0M393.8 458.6h0M410.2 469.2h0M386.4 443.6h0M410.0 466.2h0M449.9 508.4h0M440.9 502.6h0M444.5 506.4h0M444.2 505.8h0M423.0 486.2h0M426.1 493.8h0M438.9 500.0h0M433.2 499.3h0M425.1 488.3h0M428.3 484.8h0M398.4 450.5h0M406.6 471.7h0M386.1 438.2h0M407.2 470.7h0M417.4 471.9h0M398.7 470.8h0M451.3 507.8h0M394.0 466.2h0M425.4 492.5h0M420.2 491.3h0M411.6 481.2h0M431.5 497.6h0M430.3 490.7h0M452.7 513.8h0M416.0 478.8h0M439.4 493.3h0M395.4 455.6h0M396.2 460.5h0M426.5 484.0h0M474.6 541.0h0M390.9 448.9h0M392.8 450.6h0M399.6 464.5h0M406.6 473.6h0M424.1 481.2h0M450.7 502.8h0M414.5 479.2h0M437.9 493.5h0M422.2 481.2h0M409.3 464.9h0M405.2 472.9h0M424.4 501.5h0M426.5 484.8h0M444.5 522.7h0M424.4 487.7h0M418.6 478.1h0M389.4 456.8h0M429.9 490.8h0M429.0 489.3h0M453.4 530.1h0M402.7 469.4h0M445.5 489.9h0M419.3 480.0h0M395.1 451.3h0M426.3 489.4h0M413.7 471.9h0M406.2 464.4h0M439.9 517.2h0M421.0 471.8h0M427.0 490.4h0M436.9 503.8h0M414.8 466.4h0M440.0 495.4h0M400.9 453.8h0M387.2 452.7h0M450.8 507.3h0M450.0 517.2h0M442.2 497.2h0M407.0 459.4h0M411.1 475.3h0M395.7 461.5h0M403.0 454.5h0M427.3 482.6h0M408.6 471.3h0M451.5 508.6h0M387.5 439.1h0M412.0 465.7h0M390.6 452.5h0M398.5 440.9h0M459.1 535.3h0M452.5 527.2h0M426.2 496.9h0M433.8 494.9h0M437.1 495.3h0M419.6 484.8h0M436.0 494.5h0M451.0 520.2h0M441.2 501.2h0M428.3 488.8h0M431.8 488.5h0M436.4 499.8h0M403.5 468.2h0M463.9 528.5h0M414.9 473.8h0M397.8 458.2h0M460.0 532.7h0M420.2 488.0h0M426.2 491.7h0M450.8 510.1h0M474.2 536.2h0M417.4 482.2h0M423.8 483.0h0M388.9 443.8h0M415.9 486.7h0M459.7 524.7h0M400.7 462.7h0M400.1 456.4h0M378.1 439.0h0M386.3 451.3h0M387.2 448.6h0M425.3 477.1h0M428.4 487.3h0M429.4 493.2h0M447.7 518.0h0M441.4 502.3h0M401.9 461.9h0M436.7 505.6h0M407.9 468.3h0M390.1 455.6h0M392.0 439.7h0M387.3 440.2h0M408.7 475.8h0M431.7 499.5h0M445.0 514.5h0M400.8 453.4h0M426.4 494.3h0M389.5 440.9h0M447.0 501.1h0M443.3 509.0h0M412.0 476.4h0M454.1 515.8h0M388.2 437.2h0M433.2 489.7h0M429.4 488.8h0M467.2 531.5h0M449.1 517.8h0M412.6 469.0h0M383.7 446.0h0M412.3 471.6h0M422.7 483.4h0M427.3 473.3h0M411.1 468.4h0M401.8 452.1h0M448.4 516.2h0M406.9 474.9h0M400.4 463.5h0M418.0 493.5h0M422.4 485.8h0M416.7 483.6h0M450.2 511.2h0M394.1 456.3h0M429.9 484.9h0M445.7 506.6h0M405.4 472.9h0M423.6 485.2h0M437.0 497.2h0M433.2 494.6h0M418.8 483.6h0M385.5 454.1h0M403.5 453.4h0M420.7 481.9h0M413.5 473.5h0M413.6 472.9h0M407.4 467.8h0M431.0 501.2h0M400.6 448.9h0M462.5 518.4h0M444.5 497.4h0M430.1 495.2h0M407.9 462.6h0M397.1 455.9h0M414.5 467.4h0M448.0 504.8h0M411.9 491.4h0M382.2 438.7h0M434.9 507.0h0M408.4 468.6h0M438.2 505.0h0M423.4 479.3h0M399.7 463.0h0M411.1 468.1h0M415.7 458.4h0M453.3 515.8h0M399.1 463.5h0M457.9 516.1h0M392.1 444.0h0M396.2 451.9h0M429.2 502.3h0M463.2 514.3h0M411.0 476.1h0M435.6 505.7h0M402.7 453.3h0M399.3 452.5h0M422.4 480.8h0M474.7 534.6h0M410.6 477.6h0M381.4 440.5h0M417.0 480.4h0M430.7 500.9h0M412.6 470.7h0M426.9 482.7h0M397.9 464.1h0M444.4 519.1h0M426.5 498.9h0M383.2 447.6h0M405.3 464.4h0M446.2 514.9h0M416.7 481.8h0M409.8 470.4h0M403.3 471.0h0M434.5 488.3h0M450.2 518.7h0M409.0 463.0h0M396.6 457.6h0M413.7 474.0h0M405.4 469.4h0M418.3 476.4h0M432.2 492.2h0M381.6 437.3h0M411.7 469.5h0M469.0 524.0h0M412.9 477.8h0M422.7 480.6h0M425.0 489.6h0M397.9 458.2h0M382.5 444.8h0M423.0 476.0h0M393.6 452.9h0M438.6 503.0h0M410.4 466.8h0M397.4 453.2h0M404.0 467.3h0M380.3 448.4h0M391.1 454.8h0M437.2 505.0h0M419.3 483.4h0M449.3 513.4h0M431.8 500.7h0M380.4 442.3h0M404.5 465.3h0M454.1 507.4h0M400.5 449.9h0M412.2 474.0h0M387.6 441.2h0M408.3 466.0h0M456.7 513.2h0M402.6 463.3h0M430.9 489.0h0M433.7 500.5h0M398.9 469.8h0M441.8 508.5h0M452.2 516.6h0M437.0 500.2h0M429.8 483.2h0M439.1 495.6h0M441.6 501.1h0M466.7 523.4h0M423.4 489.1h0M420.5 479.8h0M387.6 451.2h0M445.9 508.9h0M388.5 451.3h0M412.2 473.6h0M414.6 468.8h0M386.5 449.5h0M432.6 488.9h0M412.4 481.0h0M425.5 489.6h0M380.4 439.6h0M415.6 471.7h0M432.8 507.0h0M400.8 465.3h0M417.5 474.9h0M433.7 504.6h0M430.8 496.4h0M429.3 499.2h0M423.0 491.0h0M437.2 499.5h0M416.8 472.6h0M414.7 476.9h0M391.2 447.0h0M413.9 473.0h0M405.5 478.5h0M452.3 523.1h0M389.3 451.7h0M421.8 488.8h0M407.6 475.3h0M418.2 482.0h0M444.4 508.0h0M415.8 478.8h0M393.6 457.7h0M413.4 489.6h0M445.6 501.9h0M425.6 488.9h0M437.1 497.1h0M442.8 503.2h0M402.0 472.1h0M386.6 451.3h0M424.4 490.7h0M379.5 446.9h0M423.6 489.4h0M458.2 521.3h0M400.6 454.1h0M452.0 504.0h0M437.0 495.5h0M437.2 505.8h0M397.4 459.4h0M460.7 532.5h0M395.8 461.8h0M405.8 470.5h0M417.6 487.8h0M423.5 486.9h0M410.0 479.7h0M426.5 500.2h0M386.0 454.3h0M441.5 506.4h0M444.8 517.5h0M388.1 455.4h0M418.7 487.5h0M457.0 525.0h0M464.3 522.5h0M443.7 505.0h0M402.6 471.0h0M424.3 496.6h0M446.0 512.6h0M449.0 518.1h0M440.7 510.5h0M444.9 516.1h0M464.3 524.3h0M452.1 519.0h0M462.8 524.2h0M467.8 532.0h0M445.7 510.0h0M455.9 525.4h0M459.3 525.0h0M460.9 525.4h0M459.6 534.3h0M463.3 532.7h0M468.1 520.7h0M449.7 517.2h0M466.4 530.1h0M447.6 517.3h0M451.0 527.3h0M460.9 524.6h0M452.1 523.1h0M459.5 524.3h0M461.6 523.3h0M470.0 526.6h0M454.3 521.5h0M451.6 526.4h0M470.9 536.6h0M461.0 534.3h0M454.1 520.0h0M446.7 516.7h0M457.6 522.2h0M459.1 528.7h0M459.1 518.3h0M445.7 515.1h0M442.7 519.5h0M449.0 521.2h0M458.9 521.2h0M465.1 519.1h0M463.8 531.6h0M456.0 513.9h0M451.7 516.0h0M442.0 512.7h0M457.5 508.1h0M455.9 519.8h0M455.2 519.6h0M452.8 523.0h0M456.5 525.0h0M448.4 524.5h0M445.5 512.9h0M455.4 525.7h0M465.6 518.7h0M451.2 516.3h0M440.0 503.5h0M442.8 514.0h0M456.7 514.1h0M444.1 520.7h0M458.5 523.3h0M465.1 529.2h0M455.2 530.4h0M455.1 526.1h0M466.2 534.3h0M445.2 511.8h0M452.6 522.9h0M459.9 519.9h0M453.7 520.0h0M448.4 527.3h0M452.9 522.2h0M450.9 518.2h0M441.6 519.3h0M448.1 514.8h0M448.5 524.6h0M457.7 526.0h0M460.2 525.2h0M459.6 528.7h0M438.8 504.9h0M454.5 511.0h0M441.2 519.5h0M454.1 523.4h0M448.6 528.6h0M455.6 516.6h0M463.7 528.0h0M456.9 514.5h0M457.2 522.2h0M457.3 527.7h0M452.0 531.6h0M455.2 518.0h0M466.1 531.0h0M457.3 530.1h0M460.5 530.5h0M459.6 521.6h0M458.7 521.9h0M452.9 514.0h0M438.9 511.2h0M450.2 511.6h0M446.6 509.2h0M451.6 525.0h0M448.1 509.2h0M448.9 521.0h0M454.4 510.5h0M458.0 519.8h0M449.9 524.5h0M463.0 533.7h0M464.9 525.6h0M470.2 529.7h0M462.1 517.5h0M442.8 509.5h0M463.3 528.2h0M467.9 537.1h0M453.5 518.5h0M450.6 524.3h0M461.9 518.0h0M454.3 521.6h0M456.1 513.5h0M452.1 519.0h0M445.3 507.9h0M456.2 523.6h0M458.0 521.7h0M467.7 520.6h0M453.6 523.2h0M465.0 519.2h0M474.0 535.5h0M465.1 526.8h0M454.5 521.2h0M461.8 519.9h0M456.7 521.3h0M464.3 531.5h0M446.1 523.8h0M465.3 527.5h0M457.8 525.6h0M436.1 504.2h0M459.7 524.6h0M451.5 518.1h0M446.5 517.9h0M458.1 519.6h0M473.2 539.0h0M455.4 523.1h0M448.4 516.8h0M453.4 522.4h0M455.1 528.8h0M449.4 515.0h0M456.4 518.1h0M449.0 506.3h0M452.1 508.5h0M449.8 521.4h0M462.9 525.3h0M452.7 512.5h0M445.2 519.9h0M459.8 516.9h0M446.3 516.8h0M455.7 514.5h0M451.6 513.2h0M469.2 532.8h0M451.5 519.3h0M466.4 530.8h0M453.7 525.4h0M469.9 532.8h0M443.1 520.0h0M458.5 521.7h0M446.2 498.2h0M467.9 528.2h0M463.4 523.2h0M452.6 519.8h0M469.3 530.0h0M468.4 531.8h0M452.7 525.3h0M457.9 509.0h0M438.8 516.9h0M466.1 526.7h0M450.1 501.7h0M449.6 524.8h0M468.2 533.6h0M464.6 518.7h0M445.5 514.2h0M444.8 520.2h0M459.0 536.1h0M446.9 515.6h0M456.4 515.1h0M448.5 509.5h0M452.8 523.7h0M450.3 518.4h0M463.9 528.3h0M444.4 518.8h0M457.6 514.4h0M434.5 509.0h0M468.6 527.9h0M465.9 529.0h0M454.5 519.2h0M454.3 525.2h0M454.8 528.7h0M468.6 524.6h0M448.2 506.4h0M452.4 512.7h0M471.7 538.0h0M466.6 527.7h0M463.8 522.5h0M451.0 526.6h0M459.2 530.1h0M461.9 528.3h0M458.7 531.1h0M449.7 513.0h0M461.6 516.9h0M465.2 518.7h0M456.0 525.9h0M449.3 513.7h0M454.9 519.7h0M453.1 511.2h0M452.7 519.0h0M456.7 524.1h0M455.1 530.3h0M455.5 530.1h0M465.0 527.3h0M450.6 528.7h0M444.4 515.3h0M451.1 527.0h0M453.6 517.9h0M441.0 512.3h0M457.3 512.1h0M454.6 528.6h0M465.5 527.1h0M453.7 522.2h0M449.0 509.2h0M455.6 521.4h0M450.8 516.5h0M469.0 527.0h0M447.0 512.8h0M458.3 531.2h0M454.1 520.3h0M454.5 528.3h0M443.1 523.7h0M459.0 526.0h0M451.0 526.1h0M454.0 521.0h0M452.7 510.1h0M449.4 520.1h0M447.5 503.8h0M459.2 525.8h0M445.9 526.8h0M468.4 530.6h0M449.7 506.9h0M467.8 532.4h0M457.5 526.5h0M449.9 521.0h0M461.3 523.6h0M449.6 510.3h0M444.6 513.4h0M464.4 530.6h0M438.9 510.0h0M458.9 519.3h0M460.2 536.4h0M455.8 523.5h0M465.1 531.6h0M460.2 515.0h0M452.6 515.7h0M464.2 530.2h0M458.0 532.0h0M454.8 521.7h0M468.9 529.0h0M453.2 508.9h0M459.9 532.4h0M457.4 515.1h0M451.4 529.0h0M455.8 523.4h0M459.1 521.6h0M462.5 523.2h0M460.7 536.8h0M466.1 531.9h0M456.1 523.1h0M463.6 516.0h0M449.0 515.0h0M470.9 531.0h0M470.4 521.6h0M452.8 516.5h0M457.9 522.8h0M470.7 529.2h0M462.2 520.3h0M459.3 519.0h0M453.3 520.6h0M455.6 523.5h0M441.8 507.9h0M463.8 528.4h0M447.7 523.4h0M459.9 520.2h0M453.3 505.5h0M475.5 535.9h0M460.6 525.7h0M442.9 507.6h0M445.0 523.6h0M454.2 519.0h0M451.2 513.0h0M448.9 509.9h0M450.2 509.3h0M447.8 517.6h0M461.4 519.1h0M452.8 527.8h0M468.0 528.2h0M457.3 518.3h0M440.7 505.0h0M460.8 515.3h0M462.9 530.2h0M448.1 512.7h0M452.5 527.2h0M455.6 526.4h0M457.7 506.3h0M453.3 521.2h0M452.7 510.8h0M469.2 529.3h0M463.4 523.8h0M449.3 528.4h0M462.2 525.4h0M460.5 526.7h0M447.0 518.1h0M440.7 517.6h0M447.7 509.7h0M447.0 512.6h0M460.6 528.5h0M463.1 530.1h0M467.0 532.3h0M451.1 508.0h0M457.8 519.9h0M467.1 528.2h0M471.6 531.7h0M455.7 517.4h0M453.8 518.6h0M455.8 516.6h0M460.4 523.6h0M458.3 530.4h0M460.1 531.3h0M456.5 515.1h0M472.3 526.7h0M440.4 522.2h0M461.0 525.7h0M459.0 537.3h0M463.8 529.8h0M452.8 530.6h0M452.0 520.2h0M455.9 520.9h0M453.3 514.5h0M452.2 516.1h0M452.7 511.4h0M462.5 530.9h0M448.4 512.8h0M449.6 518.2h0M463.3 533.5h0M462.7 521.2h0M466.7 535.6h0M466.6 533.6h0M455.4 528.4h0M457.9 535.3h0M450.2 512.2h0M465.4 517.0h0M468.3 534.8h0M459.7 525.2h0M461.9 521.0h0M473.2 543.5h0M462.8 527.3h0M444.5 513.3h0M468.7 526.6h0M438.7 504.1h0M460.6 525.1h0M459.9 524.2h0M450.0 521.7h0M453.4 514.3h0M455.1 517.6h0M472.2 544.8h0M454.5 509.0h0M448.7 518.2h0M457.8 518.4h0M462.0 511.8h0M463.2 539.4h0M453.1 529.7h0M455.3 521.2h0M465.3 524.4h0M465.0 518.8h0M454.4 521.7h0M449.3 524.6h0M461.1 516.2h0M456.0 520.8h0M448.5 523.9h0M453.6 524.1h0M466.0 531.0h0M441.1 519.2h0M463.9 520.9h0M459.9 529.2h0M452.5 524.7h0M461.3 517.5h0M466.2 529.0h0M455.5 517.6h0M460.7 525.9h0M458.5 523.2h0M460.2 521.9h0M459.5 539.3h0M452.7 511.4h0M466.4 527.4h0M450.1 518.9h0M450.1 516.2h0M456.6 524.7h0M460.5 521.2h0M451.5 503.4h0M467.1 534.7h0M457.0 515.7h0M458.6 525.7h0M459.8 527.5h0M455.7 524.1h0M460.9 522.5h0M456.4 523.4h0M458.2 516.1h0M464.1 530.5h0M456.0 524.9h0M458.9 524.9h0M450.3 519.3h0M460.5 521.0h0M443.8 514.8h0M465.9 533.1h0M454.1 519.3h0M452.8 521.3h0M455.6 516.4h0M457.3 523.3h0M461.3 524.9h0M459.3 529.2h0M448.9 520.1h0M452.0 511.3h0M457.2 519.8h0M458.5 518.7h0M445.2 522.4h0M467.4 528.8h0M449.9 514.3h0M451.5 514.9h0M466.0 526.1h0M451.9 520.9h0M456.1 519.8h0M447.1 519.1h0M451.4 510.0h0M450.3 517.7h0M437.3 516.5h0M458.0 530.2h0M458.3 524.1h0M465.7 538.8h0M460.0 517.6h0M451.0 519.5h0M461.7 530.6h0M451.0 519.8h0M461.0 531.0h0M450.5 520.6h0M446.4 506.8h0M455.9 517.8h0M457.9 516.4h0M458.0 527.4h0M459.6 513.0h0M458.4 523.4h0M460.8 521.1h0M449.8 516.1h0M441.1 520.7h0M453.2 514.7h0M441.7 513.3h0M451.9 526.8h0M464.4 523.0h0M454.7 518.9h0M451.1 517.9h0M451.4 510.5h0M461.9 525.1h0M464.0 528.8h0M441.4 506.4h0M471.5 535.0h0M462.4 536.6h0M450.8 519.6h0M456.4 521.5h0M456.2 523.8h0M464.7 519.3h0M459.0 514.4h0M463.5 520.5h0M459.7 527.0h0M457.4 519.7h0M455.9 513.5h0M466.0 526.1h0M455.3 522.2h0M461.7 518.8h0M459.9 519.6h0M451.6 521.2h0M449.0 522.3h0M452.7 518.6h0M451.3 516.1h0M454.4 517.5h0M466.2 536.8h0M450.4 516.6h0M449.0 515.1h0M465.2 529.3h0M453.5 516.2h0M455.9 524.1h0M446.6 507.7h0M440.5 508.6h0M460.5 521.0h0M443.9 510.8h0M454.5 526.0h0M465.3 524.7h0M447.3 518.7h0M451.5 519.2h0M452.3 519.2h0M447.0 520.5h0M452.0 520.0h0M456.3 515.7h0M452.4 521.9h0M452.5 525.5h0M460.6 524.2h0M459.9 524.1h0M457.3 521.1h0M452.6 514.5h0M462.0 522.6h0M458.6 529.6h0M453.2 526.0h0M458.1 514.9h0M470.4 536.5h0M442.7 504.6h0M457.6 528.3h0M453.9 526.5h0M464.3 533.6h0M463.9 538.4h0M457.0 529.1h0M450.9 520.5h0M458.0 527.3h0M445.0 516.8h0M458.4 520.7h0M455.0 512.8h0M456.3 527.9h0M441.6 512.1h0M448.3 524.4h0M457.6 522.9h0M458.5 516.6h0M452.5 520.5h0M446.3 520.8h0M456.5 518.2h0M465.9 531.7h0M454.2 515.9h0M453.0 507.9h0M445.4 518.1h0M454.7 517.3h0M455.0 531.6h0M455.8 518.6h0M467.0 521.9h0M468.1 528.7h0M453.8 512.5h0M460.0 521.2h0M455.0 518.9h0M463.3 527.1h0M455.8 532.6h0M466.2 517.5h0M452.4 510.6h0M453.5 519.5h0M453.0 523.3h0M455.2 521.4h0M452.2 517.1h0M455.9 525.0h0M459.5 524.1h0M459.1 523.0h0M449.8 517.2h0M458.5 514.3h0M448.6 513.3h0M454.1 514.0h0M459.1 526.7h0M455.4 519.4h0M450.7 524.1h0M461.1 530.8h0M451.4 518.4h0M458.8 519.2h0M444.8 512.8h0M469.2 521.5h0M451.9 523.0h0M458.3 529.8h0M460.3 527.6h0M453.5 523.3h0M464.4 521.2h0M448.5 509.8h0M455.7 515.0h0M441.9 509.8h0M460.4 530.3h0M454.6 530.7h0M468.7 528.5h0M467.7 528.4h0M464.7 534.0h0M457.0 518.4h0M448.9 509.0h0M451.5 520.7h0M469.5 536.5h0M461.6 523.8h0M460.0 533.3h0M461.5 526.8h0M464.7 521.5h0M454.8 518.7h0M449.0 513.6h0M464.2 525.9h0M446.8 518.3h0M465.8 534.3h0M457.4 527.8h0M457.5 529.2h0M457.2 521.1h0M445.9 508.9h0M450.1 515.7h0M463.5 527.4h0M443.1 517.1h0M451.2 510.5h0M470.2 528.4h0M440.7 508.5h0M456.1 520.6h0M463.1 520.1h0M466.3 538.1h0M460.3 531.8h0M461.7 522.4h0M448.6 505.7h0M451.5 522.4h0M442.5 511.7h0M455.1 526.2h0M448.0 510.9h0M459.5 531.6h0M454.4 531.5h0M449.9 520.3h0M456.3 527.0h0M453.4 527.0h0M454.9 524.3h0M455.9 522.1h0M459.4 528.4h0M453.0 525.5h0M452.3 520.3h0M455.9 526.8h0M452.6 515.8h0M464.1 530.6h0M466.1 523.5h0M439.6 509.9h0M452.8 521.0h0M458.5 518.0h0M453.8 522.9h0M461.7 523.1h0M462.7 533.1h0M459.0 538.5h0M442.8 508.4h0M464.0 526.1h0M445.2 507.1h0M461.8 530.2h0M460.2 523.9h0M448.5 518.1h0M459.1 512.7h0M448.1 522.6h0M464.3 530.2h0M452.4 517.6h0M448.9 522.8h0M455.3 527.7h0M472.6 528.3h0M456.8 513.4h0M454.8 526.4h0M452.6 515.3h0M465.7 526.4h0M445.8 515.8h0M459.0 524.1h0M457.3 525.9h0M456.3 516.5h0M465.1 528.6h0M468.9 534.6h0M455.2 522.6h0M454.8 527.2h0M462.8 518.2h0M466.5 527.8h0M463.9 525.3h0M456.3 522.6h0M458.2 519.0h0M451.0 516.4h0M450.7 523.1h0M455.8 522.2h0M463.0 537.4h0M461.9 527.8h0M448.3 500.8h0M452.9 517.8h0M463.1 531.3h0M465.7 527.8h0M445.1 508.4h0M451.2 524.7h0M464.8 534.4h0M455.1 513.2h0M457.7 514.8h0M454.5 524.2h0M447.5 516.0h0M467.0 525.7h0M458.0 522.3h0M457.1 523.2h0M448.4 519.7h0M460.2 531.6h0M446.0 526.2h0M453.2 513.8h0M461.0 515.0h0M447.8 511.7h0M448.9 520.5h0M474.8 534.8h0M454.5 512.6h0M449.4 515.8h0M456.0 521.7h0M453.8 527.8h0M460.4 523.1h0M448.8 531.3h0M442.2 512.2h0M450.0 520.9h0M446.0 501.6h0M459.0 528.1h0M452.5 530.1h0M462.3 526.8h0M439.9 515.8h0M440.0 509.3h0M452.3 525.8h0M448.0 515.6h0M444.7 516.1h0M456.4 510.2h0M446.4 509.9h0M445.4 506.8h0M457.9 524.3h0M459.3 522.4h0M465.1 523.2h0M456.6 524.9h0M455.4 523.0h0M458.8 524.6h0M450.7 522.0h0M457.9 521.1h0M451.6 523.0h0M438.4 507.3h0M461.3 521.4h0M464.3 536.4h0M466.8 531.6h0M453.2 520.8h0M459.6 522.7h0M452.8 527.0h0M465.7 535.5h0M454.2 513.0h0M455.2 511.9h0M453.9 517.2h0M449.7 519.2h0M465.8 532.8h0M449.3 502.2h0M455.8 506.8h0M446.7 511.1h0M452.5 515.7h0M457.2 528.5h0M447.0 515.3h0M460.4 528.0h0M462.1 537.7h0M455.9 523.8h0M461.5 532.4h0M456.1 518.4h0M457.0 525.3h0M448.4 524.7h0M467.1 526.1h0M396.3 440.6h0M404.0 448.4h0M412.4 470.9h0M406.2 456.4h0M401.1 446.0h0M409.0 464.1h0M409.5 450.9h0M406.3 455.0h0M390.8 444.5h0M389.9 435.1h0M412.3 458.0h0M404.6 446.1h0M414.4 461.1h0M422.5 478.6h0M412.3 465.6h0M390.8 446.9h0M409.5 457.3h0M392.4 457.3h0M413.1 454.8h0M416.7 462.6h0M409.5 463.3h0M406.0 458.5h0M404.0 467.1h0M414.9 463.5h0M406.0 454.7h0M396.8 447.7h0M406.0 452.8h0M403.6 457.5h0M395.7 448.1h0M417.2 469.6h0M415.9 457.5h0M404.3 458.8h0M404.2 461.6h0M414.4 466.3h0M391.8 446.7h0M418.0 473.0h0M400.6 450.0h0M399.8 454.4h0M390.1 451.0h0M411.4 456.6h0M395.9 448.9h0M405.6 454.3h0M396.6 447.2h0M417.4 466.8h0M418.9 468.2h0M397.5 449.0h0M393.7 441.2h0M391.8 444.2h0M418.6 458.3h0M390.0 445.4h0M398.2 445.6h0M406.1 453.4h0M416.2 473.9h0M403.3 458.9h0M400.5 455.2h0M409.8 464.7h0M388.0 439.9h0M397.3 442.6h0M412.6 467.5h0M414.4 468.3h0M408.6 463.5h0M409.4 459.8h0M402.8 452.8h0M404.8 451.9h0M418.1 477.7h0M397.6 444.4h0M415.8 470.5h0M405.9 454.6h0M393.3 437.6h0M411.2 461.2h0M401.4 444.4h0M409.9 459.5h0M408.7 459.8h0M400.4 449.4h0M385.7 436.9h0M409.2 460.4h0M414.7 459.6h0M402.4 454.2h0M400.1 446.9h0M412.5 458.8h0M412.6 462.6h0M402.3 451.1h0M411.0 466.9h0M405.3 457.4h0M405.8 454.3h0M387.6 450.2h0M395.3 453.1h0M417.6 457.2h0M421.5 464.8h0M419.2 464.9h0M401.1 458.7h0M407.0 451.7h0M397.1 447.7h0M398.4 447.7h0M398.4 456.0h0M415.6 464.9h0M415.4 469.5h0M409.1 459.5h0M406.8 465.7h0M394.6 448.4h0M401.2 456.6h0M412.7 462.6h0M406.0 456.7h0M407.8 465.1h0M387.1 448.7h0M420.0 471.3h0M400.6 454.7h0M401.8 447.4h0M401.7 461.7h0M400.5 454.4h0M423.0 477.7h0M401.6 448.6h0M417.4 462.7h0M389.1 439.3h0M388.6 445.1h0M393.6 436.7h0M419.4 469.1h0M408.3 458.8h0M400.4 444.9h0M412.9 461.4h0M394.7 445.5h0M400.5 447.6h0M406.5 462.2h0M385.0 442.1h0M381.9 439.3h0M424.8 476.2h0M407.2 455.9h0M407.7 463.4h0M402.2 459.3h0M410.0 458.6h0M405.3 456.4h0M409.7 459.9h0M390.9 446.1h0M418.4 473.7h0M396.1 452.5h0M386.7 438.6h0M417.5 474.1h0M415.3 466.8h0M403.0 447.1h0M411.4 465.1h0M411.6 460.6h0M396.6 440.5h0M413.8 471.7h0M411.6 462.8h0M414.3 469.3h0M386.3 437.3h0M405.5 454.1h0M421.5 471.0h0M416.2 470.8h0M389.1 443.6h0M409.4 464.9h0M395.6 453.3h0M410.8 458.7h0M393.2 453.4h0M410.8 477.9h0M425.3 478.3h0M414.3 468.9h0M414.5 469.3h0M403.8 462.6h0M407.5 451.8h0M417.0 475.3h0M415.6 464.4h0M408.5 460.4h0M398.3 452.1h0M393.1 447.9h0M414.7 465.6h0M412.8 467.3h0M402.6 460.7h0M406.0 459.1h0M388.1 446.5h0M399.6 449.6h0M411.5 462.5h0M404.1 455.2h0M405.9 457.2h0M403.2 445.5h0M410.5 454.3h0M391.1 439.4h0M422.8 474.9h0M406.9 457.0h0M407.2 465.5h0M408.7 463.1h0M397.0 449.5h0M419.9 470.4h0M412.0 454.8h0M403.5 456.8h0M416.8 466.8h0M396.2 449.3h0M407.0 469.1h0M423.1 475.1h0M395.5 458.2h0M412.0 460.4h0M394.9 442.5h0M411.3 457.1h0M408.4 460.7h0M421.1 474.4h0M424.6 479.2h0M385.6 440.6h0M409.2 462.7h0M399.8 455.4h0M401.6 456.8h0M409.8 461.7h0M405.7 458.8h0M405.4 454.0h0M409.3 459.7h0M397.9 457.5h0M411.4 456.4h0M396.2 453.7h0M412.2 468.5h0M410.8 453.2h0M404.6 452.7h0M418.0 472.0h0M387.9 436.4h0M402.1 457.5h0M395.4 445.3h0M404.3 447.9h0M394.1 447.9h0M400.8 456.5h0M418.4 468.7h0M398.2 447.9h0M407.6 451.1h0M414.4 470.7h0M405.9 466.9h0M412.6 464.8h0M408.5 452.0h0M404.5 448.1h0M401.5 452.3h0M405.6 449.5h0M394.5 442.2h0M400.1 452.0h0M411.1 455.8h0M397.3 453.8h0M411.7 472.0h0M412.4 472.6h0M410.7 453.4h0M398.6 456.9h0M408.6 462.4h0M398.6 453.4h0M401.8 456.0h0M395.1 450.3h0M397.7 451.5h0M410.3 463.2h0M401.5 452.5h0M411.9 460.1h0M402.3 459.9h0M406.4 457.3h0M409.6 459.2h0M381.5 437.2h0M399.9 453.9h0M408.6 459.5h0M419.5 471.4h0M415.9 456.9h0M419.2 468.9h0M406.1 459.2h0M392.0 445.1h0M406.2 450.6h0M404.8 453.4h0M405.8 458.4h0M406.8 463.1h0M394.9 441.6h0M412.9 459.6h0M406.5 450.5h0M399.3 450.0h0M392.2 444.8h0M404.7 461.6h0M401.2 451.0h0M381.0 436.8h0M405.9 457.7h0M402.8 455.4h0M392.9 436.7h0M406.6 467.8h0M403.2 453.4h0M405.6 463.9h0M391.4 446.1h0M400.9 450.4h0M410.5 458.7h0M409.6 465.4h0M400.2 448.0h0M409.6 456.5h0M405.4 452.1h0M420.6 468.6h0M391.2 450.3h0M409.5 461.4h0M387.7 444.8h0M406.8 460.7h0M402.0 452.5h0M408.3 457.7h0M407.5 452.9h0M402.6 455.5h0M420.2 472.3h0M416.5 468.3h0M405.6 456.2h0M394.7 448.7h0M398.8 446.8h0M419.1 463.7h0M407.4 455.2h0M403.2 444.3h0M398.0 450.3h0M414.0 474.5h0M407.7 456.4h0M393.9 450.3h0M414.2 477.2h0M409.5 459.6h0M390.2 444.0h0M391.0 445.9h0M403.6 464.0h0M396.8 450.1h0M402.9 450.2h0M424.3 473.2h0M426.9 473.6h0M423.3 474.2h0M408.0 463.2h0M406.2 461.0h0M395.7 443.8h0M392.2 446.4h0M411.2 453.1h0M407.0 458.0h0M410.9 469.9h0M413.7 464.7h0M411.2 460.4h0M407.9 466.5h0M404.1 463.1h0M418.0 470.2h0M422.7 478.8h0M405.9 468.0h0M394.8 441.0h0M401.5 466.1h0M424.6 471.9h0M396.4 453.8h0M407.7 465.0h0M402.4 458.5h0M421.8 469.7h0M405.3 461.6h0M403.4 446.9h0M409.8 461.6h0M410.1 461.7h0M406.2 458.3h0M403.3 448.3h0M393.8 440.8h0M410.1 451.7h0M384.5 445.6h0M396.3 449.0h0M408.0 455.9h0M415.0 468.5h0M414.0 465.9h0M383.8 443.7h0M416.4 465.2h0M381.9 439.3h0M411.5 455.1h0M406.6 457.6h0M412.5 467.2h0M407.7 458.1h0M412.7 470.3h0M399.0 451.4h0M405.9 454.2h0M415.2 464.4h0M396.4 455.3h0M400.1 451.5h0M407.0 456.8h0M407.2 450.7h0M398.2 444.1h0M417.9 473.4h0M414.3 472.8h0M414.1 462.2h0M420.8 484.7h0M406.8 459.7h0M401.4 453.7h0M408.0 461.1h0M410.7 457.9h0M399.8 456.9h0M408.4 461.1h0M391.8 446.7h0M400.5 442.8h0M411.9 456.1h0M391.1 446.9h0M412.0 472.2h0M410.1 460.7h0M400.2 450.3h0M416.3 468.0h0M409.1 458.1h0M424.6 470.6h0M406.5 452.0h0M396.4 455.3h0M411.2 459.9h0M393.2 448.8h0M419.7 463.2h0M407.4 462.4h0M405.8 455.8h0M404.2 461.8h0M392.4 445.4h0M395.2 460.5h0M402.5 453.0h0M386.5 436.3h0M410.6 456.6h0M404.9 456.0h0M396.3 452.0h0M403.2 450.6h0M401.6 461.0h0M417.2 466.2h0M408.8 462.1h0M398.6 458.0h0M403.1 451.6h0M399.7 452.3h0M415.0 465.8h0M410.7 458.3h0M398.4 453.2h0M415.8 462.1h0M397.3 448.1h0M409.4 463.0h0M409.5 456.5h0M412.6 457.1h0M407.5 468.6h0M400.3 455.2h0M398.5 453.4h0M394.1 446.3h0M404.8 463.1h0M403.5 457.0h0M392.1 435.9h0M405.5 457.3h0M406.1 463.6h0M411.5 454.1h0M404.1 452.4h0M412.1 464.5h0M399.7 451.3h0M392.5 440.3h0M419.2 472.6h0M390.2 443.5h0M402.7 465.0h0M424.7 472.5h0M400.8 452.1h0M420.1 466.2h0M400.0 457.9h0M401.7 455.5h0M386.6 441.0h0M410.4 464.9h0M394.1 455.6h0M413.6 463.7h0M396.1 449.0h0M405.0 459.8h0M409.9 455.6h0M422.8 466.1h0M411.0 467.6h0M393.8 445.8h0M412.2 468.7h0M404.3 455.8h0M399.3 449.6h0M401.5 451.8h0M414.1 467.3h0M390.8 440.0h0M401.7 451.0h0M391.1 449.5h0M402.4 460.0h0M402.6 454.1h0M389.3 449.7h0M404.2 453.1h0M400.5 457.4h0M398.6 456.3h0M406.7 457.2h0M411.5 473.0h0M408.1 453.6h0M405.6 457.2h0M412.6 461.5h0M398.6 458.4h0M401.8 455.4h0M401.2 448.7h0M398.9 449.7h0M399.9 447.4h0M403.3 461.3h0M402.4 449.6h0M405.3 459.3h0M415.8 465.3h0M418.0 471.6h0M389.5 441.4h0M399.6 448.3h0M407.7 451.1h0M397.4 449.5h0M406.8 456.7h0M400.6 455.1h0M386.3 438.3h0M411.7 463.2h0M396.8 446.2h0M402.4 458.7h0M408.6 450.7h0M411.6 466.0h0M414.0 465.0h0M415.3 462.7h0M411.0 459.8h0M393.8 449.4h0M389.9 443.3h0M417.7 470.4h0M397.4 438.9h0M393.1 449.7h0M413.6 461.4h0M403.9 458.6h0M415.8 470.5h0M405.2 447.2h0M418.8 463.0h0M401.8 447.4h0M402.5 457.5h0M396.2 453.9h0M402.5 455.3h0M400.9 451.1h0M413.9 461.6h0M409.4 469.6h0M407.2 458.7h0M415.2 462.3h0M395.5 446.7h0M407.5 462.3h0M400.6 449.5h0M416.7 465.9h0M412.9 455.9h0M385.2 438.8h0M407.0 454.3h0M390.7 445.2h0M401.7 453.8h0M414.2 467.1h0M426.4 474.9h0M408.2 462.3h0M413.0 458.2h0M409.7 462.2h0M398.6 458.5h0M416.2 462.0h0M405.9 460.2h0M405.1 456.8h0M409.2 458.8h0M407.4 463.4h0M410.0 454.3h0M413.3 468.3h0M407.3 453.8h0M412.3 471.7h0M401.2 454.2h0M394.5 459.7h0M391.4 449.5h0M396.7 449.1h0M402.0 454.6h0M414.7 464.8h0M393.9 450.6h0M404.2 450.8h0M403.1 455.0h0M406.5 454.2h0M385.3 438.3h0M398.9 452.2h0M429.4 473.5h0M414.1 466.0h0M395.6 453.0h0M405.8 459.5h0M410.8 469.7h0M405.3 452.3h0M415.7 457.8h0M408.7 455.9h0M400.7 445.3h0M401.1 461.8h0M393.5 445.4h0M401.9 458.4h0M403.8 464.1h0M399.2 451.9h0M415.5 455.6h0M403.5 459.0h0M398.3 454.3h0M400.5 445.6h0M405.2 459.4h0M404.8 459.6h0M414.1 466.6h0M391.6 435.2h0M404.5 462.6h0M405.1 450.8h0M399.4 453.5h0M397.4 440.4h0M429.0 476.2h0M409.4 465.7h0M408.5 454.2h0M414.2 457.1h0M390.3 440.5h0M404.5 454.8h0M410.4 455.5h0M403.9 457.2h0M390.5 444.7h0M401.2 453.7h0M416.4 477.7h0M416.1 464.6h0M405.3 464.1h0M411.4 462.3h0M414.1 458.2h0M404.4 446.7h0M405.5 458.6h0M410.0 451.7h0M388.0 436.6h0M400.6 452.1h0M405.1 454.8h0M399.2 455.1h0M427.3 500.7h0M459.3 524.5h0M449.3 532.9h0M441.6 510.0h0M436.8 489.0h0M428.2 504.1h0M455.0 519.3h0M467.4 535.7h0M431.8 503.3h0M448.4 500.7h0M436.6 490.5h0M451.5 531.5h0M451.9 504.4h0M455.6 510.8h0M441.4 494.2h0M466.5 521.5h0M453.3 515.3h0M459.9 521.6h0M445.5 500.7h0M438.5 498.0h0M447.5 516.4h0M462.8 525.4h0M461.3 526.0h0M435.8 483.4h0M413.5 488.0h0M460.0 528.0h0M439.6 503.0h0M435.8 505.7h0M452.2 521.2h0M447.5 510.4h0M446.4 509.2h0M456.3 511.0h0M438.2 506.9h0M442.0 508.9h0M443.5 498.7h0M445.7 517.0h0M430.0 508.7h0M470.6 525.5h0M437.7 514.4h0M452.9 528.9h0M449.9 514.4h0M447.6 530.0h0M453.9 517.6h0M424.3 494.4h0M463.2 524.9h0M464.3 519.1h0M436.9 508.1h0M434.0 486.3h0M459.2 525.6h0M444.4 503.6h0M448.8 505.5h0M458.9 521.9h0M454.2 530.3h0M449.2 529.2h0M424.4 493.2h0M459.1 527.0h0M432.8 504.7h0M447.3 504.6h0M446.6 514.5h0M429.0 488.8h0M459.1 528.4h0M450.6 500.4h0M427.8 497.2h0M437.8 500.6h0M427.0 493.5h0M428.2 495.1h0M443.3 522.5h0M453.3 516.9h0M470.1 522.7h0M452.5 527.2h0M415.2 473.7h0M449.6 526.1h0M443.9 520.0h0M460.0 515.6h0M461.8 520.1h0M453.8 508.4h0M450.5 532.2h0M435.0 503.6h0M426.6 502.2h0M437.3 513.5h0M414.9 484.9h0M437.2 513.1h0M427.7 496.9h0M445.0 508.9h0M449.6 518.2h0M429.6 500.2h0M458.9 532.1h0M471.8 541.7h0M443.1 500.8h0M456.8 524.4h0M429.8 501.0h0M436.1 490.9h0M459.2 519.1h0M453.5 524.3h0M427.1 498.2h0M454.8 519.4h0M465.7 531.0h0M437.2 503.4h0M426.1 486.5h0M451.7 513.5h0M446.2 510.1h0M445.5 527.3h0M441.3 500.4h0M451.6 512.5h0M439.4 509.5h0M444.2 517.4h0M446.7 508.4h0M441.1 511.6h0M429.3 484.1h0M423.6 479.9h0M440.7 499.7h0M445.0 510.3h0M437.4 507.5h0M443.9 512.4h0M444.7 502.6h0M438.8 504.5h0M442.0 496.7h0M446.3 506.6h0M460.1 515.9h0M442.2 505.5h0M421.0 488.5h0M436.2 494.7h0M443.6 514.9h0M457.0 526.3h0M409.0 469.5h0M437.7 496.8h0M440.7 495.5h0M474.0 543.4h0M438.3 497.3h0M452.2 518.1h0M461.1 536.9h0M445.8 496.7h0M435.7 514.8h0M447.4 506.8h0M444.7 516.4h0M431.9 500.6h0M447.3 511.8h0M435.2 504.9h0M428.6 506.1h0M464.6 532.5h0M419.3 493.7h0M441.5 508.4h0M447.8 506.0h0M437.8 499.5h0M444.8 514.4h0M448.2 523.7h0M439.3 486.7h0M453.2 518.1h0M419.0 477.3h0M424.8 505.7h0M431.0 487.0h0M437.8 508.9h0M452.5 519.8h0M430.1 503.5h0M439.8 522.1h0M443.4 506.6h0M467.9 523.1h0M413.0 489.8h0M423.9 481.7h0M439.7 506.8h0M414.2 484.6h0M453.1 505.2h0M449.3 510.0h0M430.4 497.5h0M436.0 495.2h0M455.8 509.9h0M436.7 510.0h0M454.8 515.9h0M434.6 500.5h0M450.8 510.2h0M456.7 528.2h0M452.4 529.6h0M428.2 498.1h0M433.5 497.7h0M443.9 488.0h0M445.8 513.9h0M422.8 496.6h0M432.9 487.5h0M455.4 504.3h0M419.8 468.4h0M456.6 523.4h0M447.5 505.3h0M432.3 497.8h0M463.5 518.3h0M440.1 512.7h0M473.9 542.4h0M448.8 505.0h0M451.7 505.2h0M452.7 511.1h0M437.7 513.1h0M455.0 515.1h0M445.4 495.9h0M439.4 519.9h0M439.2 518.6h0M461.4 521.7h0M425.1 496.8h0M449.0 506.0h0M455.9 517.5h0M454.8 527.0h0M447.0 501.7h0M436.5 501.2h0M462.9 517.0h0M416.2 488.2h0M461.3 524.1h0M420.0 485.2h0M429.7 496.2h0M461.5 520.0h0M446.9 506.6h0M436.4 493.4h0M448.2 515.5h0M432.7 505.9h0M447.5 523.6h0M450.1 515.3h0M437.9 510.8h0M459.4 517.1h0M452.7 516.2h0M451.0 510.7h0M446.7 516.8h0M458.9 510.5h0M433.2 497.0h0M420.3 492.5h0M437.7 503.9h0M434.4 511.7h0M441.9 514.7h0M444.6 505.4h0M447.0 522.5h0M434.4 510.0h0M457.8 516.5h0M442.4 506.7h0M440.3 513.6h0M435.8 498.0h0M438.3 504.2h0M464.9 527.5h0M446.3 507.5h0M443.1 520.5h0M430.5 491.3h0M445.1 524.8h0M448.6 521.0h0M457.3 509.5h0M463.5 522.9h0M448.7 508.2h0M430.4 508.6h0M452.7 516.7h0M446.7 521.1h0M438.2 506.6h0M450.6 509.6h0M462.8 531.4h0M439.8 513.4h0M449.9 509.8h0M461.5 515.6h0M460.7 523.0h0M436.0 503.7h0M441.7 492.5h0M460.8 530.1h0M461.3 522.6h0M447.6 499.0h0M435.7 503.6h0M422.6 500.6h0M432.8 483.8h0M450.0 517.1h0M447.6 505.4h0M424.9 492.1h0M442.8 490.5h0M446.7 514.2h0M428.1 493.1h0M417.0 468.8h0M454.5 515.9h0M433.9 500.9h0M418.4 478.2h0M446.1 501.9h0M422.4 491.1h0M454.6 524.2h0M439.5 503.7h0M445.5 505.6h0M464.8 519.5h0M422.5 483.7h0M439.4 518.5h0M455.5 526.1h0M446.9 522.6h0M438.6 488.8h0M449.1 516.7h0M430.1 499.1h0M435.9 503.6h0M452.0 521.1h0M439.0 515.7h0M444.2 505.5h0M435.3 501.0h0M460.3 520.3h0M429.5 490.7h0M402.4 471.9h0M447.1 506.9h0M451.8 524.4h0M437.8 504.9h0M470.8 531.7h0M453.5 519.2h0M444.8 518.9h0M433.6 492.9h0M458.2 532.1h0M468.8 527.1h0M458.2 535.8h0M461.7 531.0h0M455.1 526.3h0M469.0 523.3h0M442.4 522.2h0M438.9 497.4h0M448.9 521.1h0M433.2 502.0h0M443.3 511.9h0M458.2 529.8h0M443.1 503.1h0M447.9 525.7h0M466.6 527.0h0M459.3 523.0h0M467.5 521.8h0M447.4 515.3h0M440.9 496.6h0M428.5 491.3h0M426.2 488.0h0M434.5 499.0h0M423.1 480.5h0M442.5 505.4h0M426.2 501.7h0M431.6 505.6h0M431.0 501.7h0M452.9 524.5h0M444.1 494.1h0M435.3 498.4h0M465.6 535.8h0M439.3 507.4h0M461.8 534.5h0M445.5 499.0h0M440.5 510.2h0M451.0 512.0h0M424.7 492.0h0M465.9 538.7h0M439.4 504.5h0M464.4 523.3h0M443.9 519.0h0M448.2 495.4h0M471.2 531.3h0M445.4 509.4h0M462.4 521.7h0M444.7 505.2h0M456.4 513.0h0M438.6 511.6h0M443.1 515.8h0M431.2 489.3h0M430.0 502.2h0M436.6 501.4h0M443.1 505.4h0M455.3 506.9h0M440.2 506.4h0M449.6 508.0h0M443.5 512.7h0M437.3 507.7h0M440.8 514.4h0M460.2 513.4h0M421.5 495.5h0M443.7 504.0h0M475.6 534.5h0M438.9 498.1h0M434.7 493.7h0M443.8 517.6h0M461.7 522.6h0M450.1 519.8h0M448.2 513.7h0M454.2 511.1h0M448.2 514.2h0M460.3 527.1h0M444.1 510.8h0M453.4 522.2h0M439.5 501.4h0M441.3 510.5h0M443.7 492.2h0M444.3 504.6h0M432.4 509.2h0M423.6 490.5h0M460.4 524.0h0M454.5 513.0h0M456.2 516.3h0M426.7 473.0h0M453.1 515.3h0M448.6 512.0h0M446.2 494.6h0M439.7 503.3h0M432.6 493.7h0M446.3 529.4h0M451.1 510.1h0M443.5 520.0h0M435.2 503.0h0M412.1 488.9h0M451.8 529.6h0M423.4 485.9h0M454.9 531.9h0M428.0 491.5h0M464.5 519.3h0M462.4 530.5h0M432.3 509.4h0M425.6 497.8h0M445.0 506.8h0M438.1 517.0h0M422.7 499.7h0M434.6 512.5h0M457.5 515.9h0M464.2 525.1h0M428.4 486.0h0M443.5 488.6h0M446.4 506.4h0M437.6 513.6h0M461.7 518.5h0M471.2 528.9h0M458.1 528.4h0M456.1 520.4h0M446.6 500.5h0M422.7 488.9h0M425.2 490.8h0" stroke="#6e2638" stroke-width="1.3" stroke-linecap="round" fill="none" opacity="0.4"/></g>
<rect x="366" y="431.7" width="119" height="118.6" fill="none" stroke="#858585" stroke-width="1"/>
<rect x="493.6" y="248.73" width="7.3" height="11.17" fill="#f8ebe6"/><rect x="493.6" y="237.85" width="7.3" height="11.17" fill="#f6e0d9"/><rect x="493.6" y="226.98" width="7.3" height="11.17" fill="#f3d3ca"/><rect x="493.6" y="216.11" width="7.3" height="11.17" fill="#f0c6bb"/><rect x="493.6" y="205.24" width="7.3" height="11.17" fill="#edb8ab"/><rect x="493.6" y="194.36" width="7.3" height="11.17" fill="#e8a99b"/><rect x="493.6" y="183.49" width="7.3" height="11.17" fill="#e29a8d"/><rect x="493.6" y="172.62" width="7.3" height="11.17" fill="#dc8b81"/><rect x="493.6" y="161.75" width="7.3" height="11.17" fill="#d27c77"/><rect x="493.6" y="150.87" width="7.3" height="11.17" fill="#c66e70"/><rect x="493.6" y="140" width="7.3" height="11.17" fill="#b4646c"/><rect x="493.6" y="140" width="7.3" height="119.6" fill="none" stroke="#9a8f8f" stroke-width="0.7"/>
<rect x="493.4" y="539.38" width="7.3" height="11.12" fill="#f8ebe6"/><rect x="493.4" y="528.56" width="7.3" height="11.12" fill="#f6e0d9"/><rect x="493.4" y="517.75" width="7.3" height="11.12" fill="#f3d3ca"/><rect x="493.4" y="506.93" width="7.3" height="11.12" fill="#f0c6bb"/><rect x="493.4" y="496.11" width="7.3" height="11.12" fill="#edb8ab"/><rect x="493.4" y="485.29" width="7.3" height="11.12" fill="#e8a99b"/><rect x="493.4" y="474.47" width="7.3" height="11.12" fill="#e29a8d"/><rect x="493.4" y="463.65" width="7.3" height="11.12" fill="#dc8b81"/><rect x="493.4" y="452.84" width="7.3" height="11.12" fill="#d27c77"/><rect x="493.4" y="442.02" width="7.3" height="11.12" fill="#c66e70"/><rect x="493.4" y="431.2" width="7.3" height="11.12" fill="#b4646c"/><rect x="493.4" y="431.2" width="7.3" height="119" fill="none" stroke="#9a8f8f" stroke-width="0.7"/>
<text x="363" y="151.8" font-size="12.5" text-anchor="end">2.3</text>
<text x="362.2" y="205.8" font-size="12.5" text-anchor="end">0.4</text>
<text x="362.6" y="260" font-size="12.5" text-anchor="end">-1.5</text>
<text x="374" y="273.2" font-size="12.5" text-anchor="middle">-0.3</text>
<text x="426" y="273.2" font-size="12.5" text-anchor="middle">0.0</text>
<text x="478.4" y="273.2" font-size="12.5" text-anchor="middle">0.3</text>
<text x="428.6" y="284.4" font-size="12.9" text-anchor="middle">Latent Variable - 1 (<tspan font-style="italic">L</tspan><tspan font-size="8" font-style="italic" dy="1.5">1</tspan><tspan dy="-1.5">)</tspan></text>
<text x="336" y="201.5" font-size="12.6" text-anchor="middle" transform="rotate(-90 336 201.5)">Latent Variable - 2 (<tspan font-style="italic">L</tspan><tspan font-size="8" font-style="italic" dy="1.5">2</tspan><tspan dy="-1.5">)</tspan></text>
<text x="502" y="150" font-size="13">3</text>
<text x="502.3" y="205.6" font-size="13">1.5</text>
<text x="502" y="260.4" font-size="13">0</text>
<text x="363.2" y="440.8" font-size="12.5" text-anchor="end">2.0</text>
<text x="362.2" y="495.4" font-size="12.5" text-anchor="end">0.25</text>
<text x="362" y="550" font-size="12.5" text-anchor="end">-1.5</text>
<text x="380.8" y="562.6" font-size="12.5" text-anchor="middle">-0.08</text>
<text x="425.8" y="562.6" font-size="12.5" text-anchor="middle">0.0</text>
<text x="472.4" y="562.6" font-size="12.5" text-anchor="middle">0.08</text>
<text x="428.6" y="578.2" font-size="12.9" text-anchor="middle">Latent Variable - 1 (<tspan font-style="italic">L</tspan><tspan font-size="8" font-style="italic" dy="1.5">1</tspan><tspan dy="-1.5">)</tspan></text>
<text x="336" y="491.5" font-size="12.6" text-anchor="middle" transform="rotate(-90 336 491.5)">Latent Variable - 2 (<tspan font-style="italic">L</tspan><tspan font-size="8" font-style="italic" dy="1.5">2</tspan><tspan dy="-1.5">)</tspan></text>
<text x="502.3" y="440.2" font-size="13">16</text>
<text x="502.3" y="496" font-size="13">8</text>
<text x="502.3" y="551.3" font-size="13">0</text>
</svg>
</body></html>
